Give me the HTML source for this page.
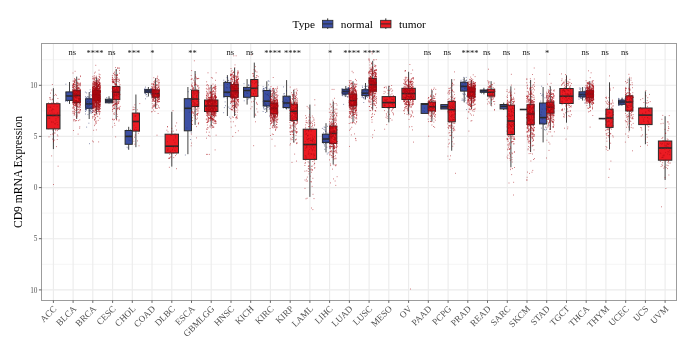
<!DOCTYPE html>
<html><head><meta charset="utf-8"><title>CD9 mRNA Expression</title>
<style>html,body{margin:0;padding:0;background:#fff}svg{display:block}</style></head>
<body>
<svg width="685" height="346" viewBox="0 0 685 346">
<rect width="685" height="346" fill="#fff"/>
<path d="M41.5 59.7H676.5M41.5 110.9H676.5M41.5 162H676.5M41.5 213.1H676.5M41.5 264.3H676.5" stroke="#f3f3f3" stroke-width="0.8" fill="none"/>
<path d="M41.5 85.3H676.5M41.5 136.4H676.5M41.5 187.6H676.5M41.5 238.7H676.5M41.5 289.9H676.5M53.4 43.5V300.5M73.1 43.5V300.5M92.8 43.5V300.5M112.6 43.5V300.5M132.3 43.5V300.5M152 43.5V300.5M171.8 43.5V300.5M191.5 43.5V300.5M211.2 43.5V300.5M231 43.5V300.5M250.7 43.5V300.5M270.4 43.5V300.5M290.2 43.5V300.5M309.9 43.5V300.5M329.6 43.5V300.5M349.4 43.5V300.5M369.1 43.5V300.5M388.8 43.5V300.5M408.6 43.5V300.5M428.3 43.5V300.5M448.1 43.5V300.5M467.8 43.5V300.5M487.5 43.5V300.5M507.3 43.5V300.5M527 43.5V300.5M546.7 43.5V300.5M566.5 43.5V300.5M586.2 43.5V300.5M605.9 43.5V300.5M625.7 43.5V300.5M645.4 43.5V300.5M665.1 43.5V300.5" stroke="#ececec" stroke-width="1.1" fill="none"/>
<path d="M53.4 88.2V103.7M53.4 128.9V149.1" stroke="#444444" stroke-width="1" fill="none"/>
<rect x="46.6" y="103.7" width="13.4" height="25.2" fill="#EC1B23" stroke="#2a2a2a" stroke-width="1"/>
<path d="M46.6 115.4H60.1" stroke="#2a2a2a" stroke-width="1.6" fill="none"/>
<path d="M69.5 82V91.9M69.5 100.4V103.9" stroke="#444444" stroke-width="1" fill="none"/>
<rect x="65.9" y="91.9" width="7.2" height="8.5" fill="#3D50A4" stroke="#2a2a2a" stroke-width="1"/>
<path d="M65.9 96H73.1" stroke="#2a2a2a" stroke-width="1.6" fill="none"/>
<path d="M76.7 76.6V90.4M76.7 102.4V119" stroke="#444444" stroke-width="1" fill="none"/>
<rect x="73.1" y="90.4" width="7.2" height="12" fill="#EC1B23" stroke="#2a2a2a" stroke-width="1"/>
<path d="M73.1 95.5H80.3" stroke="#2a2a2a" stroke-width="1.6" fill="none"/>
<path d="M89.2 92.2V98.8M89.2 108.3V119" stroke="#444444" stroke-width="1" fill="none"/>
<rect x="85.6" y="98.8" width="7.2" height="9.5" fill="#3D50A4" stroke="#2a2a2a" stroke-width="1"/>
<path d="M85.6 103.9H92.8" stroke="#2a2a2a" stroke-width="1.6" fill="none"/>
<path d="M96.4 77.3V90.4M96.4 100.6V113.9" stroke="#444444" stroke-width="1" fill="none"/>
<rect x="92.8" y="90.4" width="7.2" height="10.2" fill="#EC1B23" stroke="#2a2a2a" stroke-width="1"/>
<path d="M92.8 95.3H100" stroke="#2a2a2a" stroke-width="1.6" fill="none"/>
<path d="M109 96.3V99.2M109 102.8V103.5" stroke="#444444" stroke-width="1" fill="none"/>
<rect x="105.4" y="99.2" width="7.2" height="3.6" fill="#3D50A4" stroke="#2a2a2a" stroke-width="1"/>
<path d="M105.4 101H112.6" stroke="#2a2a2a" stroke-width="1.6" fill="none"/>
<path d="M116.2 69V86.5M116.2 99.6V119" stroke="#444444" stroke-width="1" fill="none"/>
<rect x="112.6" y="86.5" width="7.2" height="13.1" fill="#EC1B23" stroke="#2a2a2a" stroke-width="1"/>
<path d="M112.6 92.2H119.8" stroke="#2a2a2a" stroke-width="1.6" fill="none"/>
<path d="M128.7 126.8V130.5M128.7 144.3V149.8" stroke="#444444" stroke-width="1" fill="none"/>
<rect x="125.1" y="130.5" width="7.2" height="13.8" fill="#3D50A4" stroke="#2a2a2a" stroke-width="1"/>
<path d="M125.1 136.4H132.3" stroke="#2a2a2a" stroke-width="1.6" fill="none"/>
<path d="M135.9 94.5V113.1M135.9 131.1V147.2" stroke="#444444" stroke-width="1" fill="none"/>
<rect x="132.3" y="113.1" width="7.2" height="18" fill="#EC1B23" stroke="#2a2a2a" stroke-width="1"/>
<path d="M132.3 121.5H139.5" stroke="#2a2a2a" stroke-width="1.6" fill="none"/>
<path d="M148.4 87V89.6M148.4 92.6V96.5" stroke="#444444" stroke-width="1" fill="none"/>
<rect x="144.8" y="89.6" width="7.2" height="3" fill="#3D50A4" stroke="#2a2a2a" stroke-width="1"/>
<path d="M144.8 91H152" stroke="#2a2a2a" stroke-width="1.6" fill="none"/>
<path d="M155.6 78.2V89.9M155.6 97.2V107.9" stroke="#444444" stroke-width="1" fill="none"/>
<rect x="152" y="89.9" width="7.2" height="7.3" fill="#EC1B23" stroke="#2a2a2a" stroke-width="1"/>
<path d="M152 93.6H159.2" stroke="#2a2a2a" stroke-width="1.6" fill="none"/>
<path d="M171.8 111.8V134.2M171.8 153V166.6" stroke="#444444" stroke-width="1" fill="none"/>
<rect x="165.1" y="134.2" width="13.4" height="18.8" fill="#EC1B23" stroke="#2a2a2a" stroke-width="1"/>
<path d="M165.1 146.2H178.5" stroke="#2a2a2a" stroke-width="1.6" fill="none"/>
<path d="M187.9 87V98.7M187.9 130.8V154.2" stroke="#444444" stroke-width="1" fill="none"/>
<rect x="184.3" y="98.7" width="7.2" height="32.1" fill="#3D50A4" stroke="#2a2a2a" stroke-width="1"/>
<path d="M184.3 108.3H191.5" stroke="#2a2a2a" stroke-width="1.6" fill="none"/>
<path d="M195.1 71V90.2M195.1 106.5V124.9" stroke="#444444" stroke-width="1" fill="none"/>
<rect x="191.5" y="90.2" width="7.2" height="16.3" fill="#EC1B23" stroke="#2a2a2a" stroke-width="1"/>
<path d="M191.5 99.1H198.7" stroke="#2a2a2a" stroke-width="1.6" fill="none"/>
<path d="M211.2 84.8V100M211.2 111.5V126.4" stroke="#444444" stroke-width="1" fill="none"/>
<rect x="204.5" y="100" width="13.4" height="11.5" fill="#EC1B23" stroke="#2a2a2a" stroke-width="1"/>
<path d="M204.5 106H217.9" stroke="#2a2a2a" stroke-width="1.6" fill="none"/>
<path d="M227.4 75.1V82.4M227.4 96.6V116" stroke="#444444" stroke-width="1" fill="none"/>
<rect x="223.8" y="82.4" width="7.2" height="14.2" fill="#3D50A4" stroke="#2a2a2a" stroke-width="1"/>
<path d="M223.8 92.2H231" stroke="#2a2a2a" stroke-width="1.6" fill="none"/>
<path d="M234.6 67.8V84.6M234.6 97.3V116" stroke="#444444" stroke-width="1" fill="none"/>
<rect x="231" y="84.6" width="7.2" height="12.7" fill="#EC1B23" stroke="#2a2a2a" stroke-width="1"/>
<path d="M231 90.8H238.2" stroke="#2a2a2a" stroke-width="1.6" fill="none"/>
<path d="M247.1 79.1V87.4M247.1 97.3V104.6" stroke="#444444" stroke-width="1" fill="none"/>
<rect x="243.5" y="87.4" width="7.2" height="9.9" fill="#3D50A4" stroke="#2a2a2a" stroke-width="1"/>
<path d="M243.5 90.5H250.7" stroke="#2a2a2a" stroke-width="1.6" fill="none"/>
<path d="M254.3 62.6V79.5M254.3 96.4V117.7" stroke="#444444" stroke-width="1" fill="none"/>
<rect x="250.7" y="79.5" width="7.2" height="16.9" fill="#EC1B23" stroke="#2a2a2a" stroke-width="1"/>
<path d="M250.7 88.3H257.9" stroke="#2a2a2a" stroke-width="1.6" fill="none"/>
<path d="M266.8 81.3V90.5M266.8 106V112.2" stroke="#444444" stroke-width="1" fill="none"/>
<rect x="263.2" y="90.5" width="7.2" height="15.5" fill="#3D50A4" stroke="#2a2a2a" stroke-width="1"/>
<path d="M263.2 101.2H270.4" stroke="#2a2a2a" stroke-width="1.6" fill="none"/>
<path d="M274 89.3V103.4M274 113.8V126.5" stroke="#444444" stroke-width="1" fill="none"/>
<rect x="270.4" y="103.4" width="7.2" height="10.4" fill="#EC1B23" stroke="#2a2a2a" stroke-width="1"/>
<path d="M270.4 108.2H277.6" stroke="#2a2a2a" stroke-width="1.6" fill="none"/>
<path d="M286.6 80.1V96.2M286.6 107.5V109.4" stroke="#444444" stroke-width="1" fill="none"/>
<rect x="283" y="96.2" width="7.2" height="11.3" fill="#3D50A4" stroke="#2a2a2a" stroke-width="1"/>
<path d="M283 103H290.2" stroke="#2a2a2a" stroke-width="1.6" fill="none"/>
<path d="M293.8 89.7V104.1M293.8 120.4V142.6" stroke="#444444" stroke-width="1" fill="none"/>
<rect x="290.2" y="104.1" width="7.2" height="16.3" fill="#EC1B23" stroke="#2a2a2a" stroke-width="1"/>
<path d="M290.2 111.2H297.4" stroke="#2a2a2a" stroke-width="1.6" fill="none"/>
<path d="M309.9 104.6V129.2M309.9 159.4V196.9" stroke="#444444" stroke-width="1" fill="none"/>
<rect x="303.2" y="129.2" width="13.4" height="30.2" fill="#EC1B23" stroke="#2a2a2a" stroke-width="1"/>
<path d="M303.2 144.5H316.6" stroke="#2a2a2a" stroke-width="1.6" fill="none"/>
<path d="M326 123.2V134.2M326 142.6V152.4" stroke="#444444" stroke-width="1" fill="none"/>
<rect x="322.4" y="134.2" width="7.2" height="8.4" fill="#3D50A4" stroke="#2a2a2a" stroke-width="1"/>
<path d="M322.4 139H329.6" stroke="#2a2a2a" stroke-width="1.6" fill="none"/>
<path d="M333.2 101.4V126.1M333.2 143.4V164.5" stroke="#444444" stroke-width="1" fill="none"/>
<rect x="329.6" y="126.1" width="7.2" height="17.3" fill="#EC1B23" stroke="#2a2a2a" stroke-width="1"/>
<path d="M329.6 133.4H336.8" stroke="#2a2a2a" stroke-width="1.6" fill="none"/>
<path d="M345.8 86V89.3M345.8 94.1V97" stroke="#444444" stroke-width="1" fill="none"/>
<rect x="342.2" y="89.3" width="7.2" height="4.8" fill="#3D50A4" stroke="#2a2a2a" stroke-width="1"/>
<path d="M342.2 91.5H349.4" stroke="#2a2a2a" stroke-width="1.6" fill="none"/>
<path d="M353 81.3V94.1M353 106V122.1" stroke="#444444" stroke-width="1" fill="none"/>
<rect x="349.4" y="94.1" width="7.2" height="11.9" fill="#EC1B23" stroke="#2a2a2a" stroke-width="1"/>
<path d="M349.4 100.5H356.6" stroke="#2a2a2a" stroke-width="1.6" fill="none"/>
<path d="M365.5 83V89.7M365.5 95.6V99.5" stroke="#444444" stroke-width="1" fill="none"/>
<rect x="361.9" y="89.7" width="7.2" height="5.9" fill="#3D50A4" stroke="#2a2a2a" stroke-width="1"/>
<path d="M361.9 93.2H369.1" stroke="#2a2a2a" stroke-width="1.6" fill="none"/>
<path d="M372.7 60.8V78.4M372.7 91.2V109.7" stroke="#444444" stroke-width="1" fill="none"/>
<rect x="369.1" y="78.4" width="7.2" height="12.8" fill="#EC1B23" stroke="#2a2a2a" stroke-width="1"/>
<path d="M369.1 84.9H376.3" stroke="#2a2a2a" stroke-width="1.6" fill="none"/>
<path d="M388.8 85.7V96.6M388.8 107.5V122.4" stroke="#444444" stroke-width="1" fill="none"/>
<rect x="382.1" y="96.6" width="13.4" height="10.9" fill="#EC1B23" stroke="#2a2a2a" stroke-width="1"/>
<path d="M382.1 102.6H395.5" stroke="#2a2a2a" stroke-width="1.6" fill="none"/>
<path d="M408.6 71.8V88.3M408.6 99.5V114.1" stroke="#444444" stroke-width="1" fill="none"/>
<rect x="401.9" y="88.3" width="13.4" height="11.2" fill="#EC1B23" stroke="#2a2a2a" stroke-width="1"/>
<path d="M401.9 93.5H415.3" stroke="#2a2a2a" stroke-width="1.6" fill="none"/>
<rect x="421.1" y="103.6" width="7.2" height="9.8" fill="#3D50A4" stroke="#2a2a2a" stroke-width="1"/>
<path d="M421.1 104.2H428.3" stroke="#2a2a2a" stroke-width="1.6" fill="none"/>
<path d="M431.9 90V102M431.9 111V121.6" stroke="#444444" stroke-width="1" fill="none"/>
<rect x="428.3" y="102" width="7.2" height="9" fill="#EC1B23" stroke="#2a2a2a" stroke-width="1"/>
<path d="M428.3 106.8H435.5" stroke="#2a2a2a" stroke-width="1.6" fill="none"/>
<rect x="440.8" y="104.6" width="7.2" height="4.4" fill="#3D50A4" stroke="#2a2a2a" stroke-width="1"/>
<path d="M440.8 106.8H448.1" stroke="#2a2a2a" stroke-width="1.6" fill="none"/>
<path d="M451.7 79.1V101.4M451.7 121.8V150.7" stroke="#444444" stroke-width="1" fill="none"/>
<rect x="448.1" y="101.4" width="7.2" height="20.4" fill="#EC1B23" stroke="#2a2a2a" stroke-width="1"/>
<path d="M448.1 109.7H455.3" stroke="#2a2a2a" stroke-width="1.6" fill="none"/>
<path d="M464.2 77.6V82.3M464.2 91.1V102.4" stroke="#444444" stroke-width="1" fill="none"/>
<rect x="460.6" y="82.3" width="7.2" height="8.8" fill="#3D50A4" stroke="#2a2a2a" stroke-width="1"/>
<path d="M460.6 86.4H467.8" stroke="#2a2a2a" stroke-width="1.6" fill="none"/>
<path d="M471.4 79.8V87.8M471.4 97V109" stroke="#444444" stroke-width="1" fill="none"/>
<rect x="467.8" y="87.8" width="7.2" height="9.2" fill="#EC1B23" stroke="#2a2a2a" stroke-width="1"/>
<path d="M467.8 92H475" stroke="#2a2a2a" stroke-width="1.6" fill="none"/>
<path d="M483.9 87.8V90M483.9 92.3V94.4" stroke="#444444" stroke-width="1" fill="none"/>
<rect x="480.3" y="90" width="7.2" height="2.3" fill="#3D50A4" stroke="#2a2a2a" stroke-width="1"/>
<path d="M480.3 90.8H487.5" stroke="#2a2a2a" stroke-width="1.6" fill="none"/>
<path d="M491.1 81.2V89.2M491.1 96.1V105.8" stroke="#444444" stroke-width="1" fill="none"/>
<rect x="487.5" y="89.2" width="7.2" height="6.9" fill="#EC1B23" stroke="#2a2a2a" stroke-width="1"/>
<path d="M487.5 92.2H494.7" stroke="#2a2a2a" stroke-width="1.6" fill="none"/>
<path d="M503.7 102.6V104.5M503.7 108.9V110" stroke="#444444" stroke-width="1" fill="none"/>
<rect x="500.1" y="104.5" width="7.2" height="4.4" fill="#3D50A4" stroke="#2a2a2a" stroke-width="1"/>
<path d="M500.1 106.4H507.3" stroke="#2a2a2a" stroke-width="1.6" fill="none"/>
<path d="M510.9 86.3V105.2M510.9 134.5V167" stroke="#444444" stroke-width="1" fill="none"/>
<rect x="507.3" y="105.2" width="7.2" height="29.3" fill="#EC1B23" stroke="#2a2a2a" stroke-width="1"/>
<path d="M507.3 121H514.5" stroke="#2a2a2a" stroke-width="1.6" fill="none"/>
<rect x="519.8" y="109.5" width="7.2" height="0" fill="#3D50A4" stroke="#2a2a2a" stroke-width="1"/>
<path d="M519.8 109.5H527" stroke="#2a2a2a" stroke-width="1.6" fill="none"/>
<path d="M530.6 80V104.7M530.6 124.6V152" stroke="#444444" stroke-width="1" fill="none"/>
<rect x="527" y="104.7" width="7.2" height="19.9" fill="#EC1B23" stroke="#2a2a2a" stroke-width="1"/>
<path d="M527 114H534.2" stroke="#2a2a2a" stroke-width="1.6" fill="none"/>
<path d="M543.1 87V103M543.1 123.9V142.4" stroke="#444444" stroke-width="1" fill="none"/>
<rect x="539.5" y="103" width="7.2" height="20.9" fill="#3D50A4" stroke="#2a2a2a" stroke-width="1"/>
<path d="M539.5 117.6H546.7" stroke="#2a2a2a" stroke-width="1.6" fill="none"/>
<path d="M550.3 86.3V102.1M550.3 113.2V130" stroke="#444444" stroke-width="1" fill="none"/>
<rect x="546.7" y="102.1" width="7.2" height="11.1" fill="#EC1B23" stroke="#2a2a2a" stroke-width="1"/>
<path d="M546.7 107.2H553.9" stroke="#2a2a2a" stroke-width="1.6" fill="none"/>
<path d="M566.5 75.3V88.5M566.5 103.5V122.7" stroke="#444444" stroke-width="1" fill="none"/>
<rect x="559.8" y="88.5" width="13.4" height="15" fill="#EC1B23" stroke="#2a2a2a" stroke-width="1"/>
<path d="M559.8 96.2H573.2" stroke="#2a2a2a" stroke-width="1.6" fill="none"/>
<path d="M582.6 87V91.8M582.6 96.8V100.6" stroke="#444444" stroke-width="1" fill="none"/>
<rect x="579" y="91.8" width="7.2" height="5" fill="#3D50A4" stroke="#2a2a2a" stroke-width="1"/>
<path d="M579 94.5H586.2" stroke="#2a2a2a" stroke-width="1.6" fill="none"/>
<path d="M589.8 81.2V90.7M589.8 97.7V106.7" stroke="#444444" stroke-width="1" fill="none"/>
<rect x="586.2" y="90.7" width="7.2" height="7" fill="#EC1B23" stroke="#2a2a2a" stroke-width="1"/>
<path d="M586.2 94H593.4" stroke="#2a2a2a" stroke-width="1.6" fill="none"/>
<rect x="598.7" y="118.6" width="7.2" height="0" fill="#3D50A4" stroke="#2a2a2a" stroke-width="1"/>
<path d="M598.7 118.6H605.9" stroke="#2a2a2a" stroke-width="1.6" fill="none"/>
<path d="M609.5 82.3V109.2M609.5 127.4V149.4" stroke="#444444" stroke-width="1" fill="none"/>
<rect x="605.9" y="109.2" width="7.2" height="18.2" fill="#EC1B23" stroke="#2a2a2a" stroke-width="1"/>
<path d="M605.9 118H613.1" stroke="#2a2a2a" stroke-width="1.6" fill="none"/>
<path d="M622.1 97.7V100.1M622.1 104.3V105.5" stroke="#444444" stroke-width="1" fill="none"/>
<rect x="618.5" y="100.1" width="7.2" height="4.2" fill="#3D50A4" stroke="#2a2a2a" stroke-width="1"/>
<path d="M618.5 102H625.7" stroke="#2a2a2a" stroke-width="1.6" fill="none"/>
<path d="M629.3 78.2V95.8M629.3 111V130.8" stroke="#444444" stroke-width="1" fill="none"/>
<rect x="625.7" y="95.8" width="7.2" height="15.2" fill="#EC1B23" stroke="#2a2a2a" stroke-width="1"/>
<path d="M625.7 102H632.9" stroke="#2a2a2a" stroke-width="1.6" fill="none"/>
<path d="M645.4 91.4V108M645.4 124.6V144.2" stroke="#444444" stroke-width="1" fill="none"/>
<rect x="638.7" y="108" width="13.4" height="16.6" fill="#EC1B23" stroke="#2a2a2a" stroke-width="1"/>
<path d="M638.7 115.1H652.1" stroke="#2a2a2a" stroke-width="1.6" fill="none"/>
<path d="M665.1 116.2V141M665.1 160.2V180" stroke="#444444" stroke-width="1" fill="none"/>
<rect x="658.4" y="141" width="13.4" height="19.2" fill="#EC1B23" stroke="#2a2a2a" stroke-width="1"/>
<path d="M658.4 148H671.8" stroke="#2a2a2a" stroke-width="1.6" fill="none"/>
<path d="M66 92.7h0M68.8 92.1h0M71.6 92.8h0M72 95.7h0M71.3 99.7h0M66.4 96.5h0M72.8 98.7h0M71.9 98.1h0M72.5 85.6h0M69.7 91h0M72.8 89.1h0M65.9 84.2h0M65.8 101.5h0M65.7 100.4h0M67.5 100.5h0M67.5 101.6h0M88.5 103.7h0M90.1 98.9h0M92.3 99.6h0M90.9 99.9h0M89 99.2h0M91.7 101.2h0M89.1 101.8h0M92.9 100.4h0M87.5 99.4h0M86.3 102.9h0M91.8 102.9h0M87.6 101.7h0M92 99.5h0M90.1 101.6h0M89.3 102h0M85.9 101h0M91.5 103.2h0M85.8 100.8h0M92.9 101.4h0M92.2 99.4h0M87.7 101.7h0M86.3 102.7h0M92.3 102.5h0M89.1 100.1h0M86.2 103.9h0M89.2 102.5h0M87.2 101h0M88.5 100.9h0M90.3 107.3h0M92.5 104.7h0M91.6 106.7h0M86.5 107.1h0M89 106.2h0M89.2 107.7h0M93.1 106h0M85.9 105.9h0M89.3 105.2h0M92.5 107.9h0M88.4 105.3h0M87.3 107h0M89.7 105.7h0M87.8 108h0M92.6 108.1h0M85.9 104h0M86.9 108.3h0M85.9 106.6h0M90.9 104.2h0M87.6 106.1h0M92.4 104.1h0M92.3 106.3h0M92.7 104.7h0M87.3 105.5h0M85.3 105.2h0M88.3 106.5h0M92.9 107.5h0M91.3 108h0M85.7 96.6h0M90.8 96h0M92.5 98.5h0M92.9 94.1h0M90.9 94.5h0M92.1 91.9h0M91.9 95.6h0M88.1 98h0M86 98.1h0M91 98.3h0M86.3 98h0M88.3 98.2h0M93.1 95.5h0M89.7 92.6h0M89.4 98.8h0M92.8 96.7h0M87.5 98.4h0M93.2 98.2h0M92.5 96.2h0M88.1 96.9h0M87.9 96.5h0M86.3 97.8h0M92.5 96.8h0M86.7 92.9h0M85.3 92.1h0M92.3 94.6h0M90 97.9h0M90.6 91.9h0M91.1 112h0M85.6 109.3h0M86 109.3h0M89.2 110.8h0M85.7 109.3h0M89.3 110.9h0M91.1 111.8h0M90.5 110.2h0M90.1 110.4h0M85.6 114h0M87.1 108.5h0M92.4 112.5h0M86.2 109.2h0M89.5 113.2h0M85.7 110h0M92.7 110.7h0M86.6 110h0M88.5 108.6h0M89.6 108.9h0M91 109.7h0M92.7 111.9h0M91.1 113.4h0M88 114.6h0M85.9 108.5h0M90.9 111.8h0M93 110.6h0M85.4 111.5h0M91.4 109.1h0M86.7 127.1h0M88.9 123.2h0M89.4 143.7h0M90.1 89.8h0M106.8 97.5h0M105.6 102h0M109.9 98.6h0M129.4 135.4h0M125.9 131.7h0M129 140.2h0M130.2 140.7h0M130.5 129.4h0M126.5 130.1h0M128.2 148.1h0M127.1 147.2h0M150.3 89.6h0M148.2 90.6h0M149.7 89.9h0M146.4 90.2h0M150.3 90.5h0M152.3 89.8h0M145.1 90.3h0M147 90.8h0M151.4 89.8h0M151.2 90.3h0M151.4 91.3h0M146.3 91.2h0M148.9 91.8h0M145.1 91.7h0M147.9 92h0M149 92.4h0M146.5 92.1h0M147.8 91.5h0M147.4 91.8h0M145.1 92.1h0M145 88.4h0M150.7 89h0M144.5 89.6h0M152.3 89.4h0M151.6 88.7h0M152.3 89.3h0M150.7 89.1h0M144.5 89.4h0M145.4 87.1h0M147 89.2h0M145.9 94.9h0M144.9 93.3h0M151.7 92.8h0M151.7 93.6h0M150.5 93.4h0M146.5 94.5h0M151.2 93.1h0M151 94.4h0M147 96.7h0M145.5 93.6h0M145.5 98.8h0M191.1 104.6h0M188 107h0M190.8 100h0M184.5 123.2h0M189.3 112.2h0M186.9 127.9h0M188.2 91.7h0M188.9 98.3h0M190.5 89.5h0M191.2 132.8h0M185.3 155h0M190.7 139.5h0M230.6 89.6h0M224.4 91.1h0M229.3 83.4h0M226.8 87.4h0M229.6 87.1h0M227.5 84.5h0M229.9 87.9h0M227.1 87.9h0M225.4 91.9h0M229.5 83.1h0M230 85.3h0M227.4 93h0M230.8 93.2h0M229 93.6h0M230.8 93.8h0M225 96.4h0M230.9 93.6h0M229.5 94.3h0M230.9 92.9h0M226.2 93.2h0M227.8 93.2h0M230.5 94.7h0M228.7 80.3h0M225.7 81.8h0M225.7 81.6h0M230.9 80.7h0M228.7 80.4h0M223.8 80.2h0M225.5 81.4h0M227.8 78.1h0M224.9 82.2h0M227.1 77.5h0M228.7 82.3h0M224.1 97.6h0M225.4 105.7h0M230.4 103.5h0M223.7 112.7h0M224.3 107.6h0M229.9 108.5h0M228.8 107.1h0M227.1 98.2h0M230.2 97.3h0M225.1 101.9h0M223.4 96.9h0M229.8 117.1h0M246.2 88.5h0M244.4 87.4h0M244.3 88.4h0M248.1 88.8h0M245.8 88.4h0M243.4 88.6h0M244.5 94.9h0M244.5 92.8h0M244.7 96.3h0M246.7 93h0M250.4 93.5h0M247.7 93.4h0M249 85.6h0M244 83.7h0M248.6 85.4h0M250 87.1h0M251 85.5h0M248.8 84.6h0M247.9 99.4h0M250.8 98.6h0M244.2 100.8h0M249.4 97.7h0M248.8 98.5h0M248.9 97.7h0M269.6 97.3h0M268.4 100.3h0M264 90.5h0M264.9 100.5h0M265.3 93.8h0M266.9 94.7h0M270 100.6h0M270.6 99h0M267.6 94.6h0M263.7 101h0M270.6 90.8h0M270.5 97.6h0M263.6 96h0M268.1 100h0M268.2 90.7h0M268.1 93.9h0M268.6 95.6h0M262.9 91.3h0M265.3 104.3h0M265.5 105.3h0M268 105.6h0M263.6 101.9h0M265.1 103.6h0M264.3 105.9h0M263.2 101.5h0M266.6 104.6h0M264.5 102.6h0M266.7 105.6h0M264.5 104.1h0M269.1 105.5h0M263.8 101.4h0M269 104.1h0M268.1 103.2h0M264.1 101.7h0M265.9 103.2h0M265.9 104.8h0M266.5 88.2h0M268.2 80.8h0M263 89.2h0M264.2 89.9h0M268.4 84.9h0M263.6 88.7h0M269.6 90.4h0M265.8 87.5h0M263.2 90.3h0M269 89.1h0M264.8 88.3h0M270.8 90.1h0M270.2 88.3h0M269.9 89.5h0M269.9 90.1h0M263.5 88.6h0M263.1 86.7h0M266.1 87.8h0M266.2 106.5h0M266.1 109.1h0M267.6 107.4h0M269.1 109.3h0M269.1 106.6h0M270.2 106.2h0M268.2 107.5h0M269.8 108.1h0M263.6 107.8h0M263.1 111.5h0M266.5 106.6h0M269.9 106.5h0M265.9 108.6h0M263.8 107.2h0M263.9 108.9h0M264.7 109.2h0M269.7 108.8h0M265.5 112.5h0M269.7 116.2h0M270.3 114.6h0M269 81.3h0M289.8 98.3h0M289.9 99.8h0M286 99.8h0M282.7 101.6h0M285.4 102.8h0M284.8 101.6h0M287.2 101.1h0M288.4 97.5h0M290.4 104h0M285.1 103.1h0M285.5 103.4h0M283.3 106.5h0M289.2 103.3h0M286.6 104.2h0M284.5 104.7h0M286.6 103.7h0M286.4 91.2h0M289.1 96h0M284.4 93.7h0M286.6 90.6h0M286.1 95.9h0M283.4 86.9h0M283.7 93.9h0M284.5 95.8h0M286.1 108.2h0M287 108.6h0M288.5 107.9h0M289.8 108.2h0M283.3 108.1h0M290.3 107.8h0M285.9 108.4h0M288.8 108.6h0M328.7 136h0M325 138.4h0M328.8 137.1h0M328.6 137.3h0M329.3 135.4h0M323 138.4h0M327.9 134.5h0M324.6 139h0M328.9 136.9h0M323 137h0M329 135h0M329.8 137.4h0M326.2 139.6h0M326.4 142h0M326.9 141.7h0M329.2 139.6h0M322.8 141.8h0M328.8 141.3h0M324.8 140.1h0M325.3 141.4h0M329 141.5h0M323 140.8h0M323.2 141.5h0M327.5 141.8h0M327.9 133.1h0M323.9 129.3h0M327.6 126.3h0M324.9 130h0M322.3 128.4h0M324.2 127h0M323.4 132.9h0M325.7 131.6h0M325.7 131.1h0M325.1 127.5h0M329.3 124.8h0M325.1 134.1h0M323.6 143.2h0M329.6 147h0M327.2 142.8h0M329.6 148.2h0M325.7 143.5h0M326.9 147.2h0M324.7 146h0M329.7 142.8h0M324.3 144.7h0M329.5 143.8h0M324.8 149.3h0M328.2 152.8h0M327.2 154h0M348.2 91h0M346.6 91.1h0M347.3 90.7h0M342.2 90.3h0M343.6 89.5h0M349 89.6h0M348.6 90.7h0M343.5 90.2h0M346.1 90.8h0M344.5 90.4h0M343.3 90.2h0M348 89.8h0M347.2 91.2h0M342.4 89.9h0M347.1 93.1h0M341.9 91.8h0M342.6 94h0M345.1 91.9h0M342.1 92.8h0M345.9 93.6h0M347.2 92.1h0M343.9 93.2h0M347.3 92.6h0M342.4 94h0M342.5 91.8h0M345.8 92h0M342 92.9h0M347.8 93.3h0M348.9 88.3h0M341.9 88.9h0M348.1 87.6h0M346.3 88.5h0M349.5 88.7h0M348.2 88.6h0M349 88.3h0M348.6 88.7h0M348.6 88.2h0M347.8 89.1h0M349 87.7h0M342.5 89.1h0M348.2 87.9h0M347.2 88.6h0M344.7 95h0M345.3 94.2h0M342.7 95.7h0M344.3 95.9h0M347.5 96.6h0M346.2 94.6h0M349.2 94.7h0M343.8 94.3h0M343.6 94.7h0M347.7 97.1h0M349.4 95.5h0M344.7 94.2h0M344.9 94.2h0M342.2 95.5h0M343.7 104.4h0M365.8 90.7h0M365.8 90.5h0M361.6 92.4h0M362.8 92.3h0M367.9 92.2h0M363.5 89.9h0M365.8 89.8h0M367 93h0M366.3 93.1h0M367.6 90.4h0M366.7 91.4h0M364 91.3h0M366.2 93.9h0M367.1 93.4h0M362.1 93.8h0M369.2 95.5h0M366.5 94.3h0M369.3 93.7h0M368.4 93.4h0M361.8 94.8h0M362.2 95.2h0M368.3 93.8h0M363.5 95h0M368.8 93.3h0M369.3 89.6h0M367.6 89.4h0M366.5 86.4h0M365 86.4h0M368.7 88h0M366.5 88.8h0M362.3 86.1h0M367.3 86.2h0M364.2 88.8h0M362.6 87.5h0M364.5 89.1h0M368.4 87.7h0M367.4 97.3h0M364.6 96.9h0M368.1 96.3h0M366 96.3h0M364.2 98.9h0M362.4 96.8h0M366.9 96.4h0M363.5 97.5h0M365.6 98h0M363.4 98.1h0M366.5 96.2h0M362 97.2h0M363.8 102.5h0M427.6 111.9h0M424.6 111.4h0M423.1 110.9h0M424.3 108.1h0M446.6 106.9h0M441.3 108.8h0M447.8 106.2h0M465.5 82.3h0M462.5 83.9h0M465.8 85.2h0M462.9 86.2h0M463 86h0M460.3 86.1h0M460.9 84.7h0M461.7 86.3h0M465.5 83.3h0M464.3 83.6h0M463.4 85h0M465.1 84.9h0M462.7 85.7h0M462.8 87h0M465.1 88.2h0M466.2 89.3h0M466.1 86.8h0M464.6 88.8h0M468 90.5h0M468.1 86.5h0M467.6 90.3h0M462.6 89.8h0M466.1 88.4h0M461.1 87.4h0M468.1 90.1h0M464.7 88.1h0M460.8 82.1h0M461.2 82.2h0M465.3 81.9h0M465.6 80.6h0M463.2 81.4h0M463.8 77.4h0M466.6 80h0M466.4 80.5h0M466.2 77.4h0M463.2 79.7h0M463 81.8h0M465.4 82.1h0M461 80.3h0M465.6 98.1h0M465.7 100.2h0M466.3 103h0M462.2 99h0M462.9 93.8h0M462.1 100.4h0M463.7 100.1h0M465.3 94.6h0M463.8 94.6h0M467.2 95.3h0M464.9 93.3h0M466.5 96.2h0M467.8 91.3h0M466.5 109.6h0M480.3 90.7h0M482.6 90.4h0M483.9 91.2h0M484.6 91.9h0M483.9 89.5h0M486.5 90h0M481.4 93.2h0M487.5 94.1h0M504.1 105.8h0M504.9 105.5h0M524.4 109.5h0M539.8 115.2h0M542.3 104.9h0M541.6 112.1h0M541.2 114.9h0M545.3 108.9h0M542.2 109.2h0M540.3 114.6h0M540.6 103.3h0M546.1 120h0M542.8 122.9h0M540.8 122.6h0M542.9 123.4h0M540 123.1h0M543 118.9h0M541.1 123.4h0M542.2 119.2h0M546.5 96.8h0M543 94.3h0M545 97.8h0M541.7 86.2h0M540.7 93.5h0M541.9 95.4h0M540.8 101.1h0M543.2 96.1h0M544.5 124.3h0M541.3 128.1h0M544.7 124.1h0M543.2 124.7h0M545.5 127.1h0M545.2 130.1h0M546.6 129.3h0M544.6 129.4h0M582.3 94.2h0M578.9 94.3h0M585.6 93.6h0M584.4 92.2h0M579.9 92.6h0M585 94.1h0M579.6 92.6h0M582.5 93.9h0M583.9 94.1h0M586.5 93.7h0M586.2 92.6h0M585.6 93.5h0M586 94.1h0M579.6 93.7h0M579 96.4h0M579.5 96.5h0M584 95.7h0M579 96h0M580.2 95.8h0M579 96.8h0M583.6 94.7h0M584 94.6h0M580.5 96.3h0M580.6 96.3h0M586.4 95.9h0M582.1 94.5h0M580.8 95.2h0M584 96.4h0M584.3 91h0M582.8 91.3h0M579.3 88h0M580.7 90.7h0M585 87.3h0M580.8 88.2h0M579.9 89.4h0M580.8 89h0M584.6 91.7h0M585.8 91.2h0M585.6 89h0M585.7 90.2h0M585.7 89h0M586.3 91.3h0M585.4 98.5h0M583.6 96.9h0M581 98.5h0M586.5 97.7h0M580.4 97.7h0M581.2 98.4h0M584.7 100h0M582.1 97.5h0M579 99.1h0M583 97.6h0M585.6 97h0M582.8 97.1h0M584.7 97.4h0M580.2 97.5h0M584.8 103h0M602.8 118.6h0M603.6 118.6h0M622.2 101.1h0M621.1 100.6h0M618.4 100.2h0M621.2 101.4h0M623.4 101.1h0M619.6 101.1h0M621.7 101.2h0M620.1 101.9h0M619.4 103.7h0M620.8 103.1h0M619.4 102.5h0M622.8 102.4h0M623.4 103.3h0M620.8 103.8h0M618.8 103.5h0M620.5 103.8h0M619.1 98.7h0M623.1 99.4h0M625 98.4h0M618.6 100h0M621.6 99.4h0M622 99.4h0M618.4 98.4h0M625.9 98.8h0M619 105.3h0M619 105.2h0M618.6 105.3h0M621.1 105h0M623.4 104.5h0M622.3 104.3h0M621.5 104.8h0M620 105h0" stroke="#28336E" stroke-width="0.78" stroke-linecap="round" stroke-opacity="0.85" fill="none"/>
<path d="M49.8 111h0M50.3 114.2h0M57.7 112.8h0M53.9 106.3h0M50.1 107.2h0M57.2 113.9h0M54.8 103.8h0M54.1 113.3h0M52.1 113h0M52.5 109.2h0M50.7 107.2h0M48.7 107h0M57.1 106.7h0M53 108.9h0M53.8 109.6h0M51.6 110.2h0M55.9 115.3h0M48.6 113h0M52.1 111h0M48.6 128.8h0M49.5 118.3h0M58.1 117.6h0M54.9 123.7h0M52.6 116h0M53.6 115.9h0M57.1 122.4h0M51.8 121.7h0M54.3 127.8h0M55.2 123.9h0M51.9 122.3h0M53.5 122.1h0M56 118.7h0M57.5 115.6h0M49.8 118h0M57.7 124.7h0M48.4 118.1h0M55.9 120.4h0M56.5 115.5h0M49.7 97.7h0M52.5 99.7h0M56.5 102.9h0M48.5 102.9h0M54.6 103.3h0M56.3 95.3h0M53.5 103.2h0M55.6 94.4h0M50.6 93.1h0M50.3 97.8h0M52 102.9h0M50.1 99.3h0M51.8 90.1h0M57.9 98.5h0M54.1 95.5h0M51.7 103.2h0M51 99.8h0M57.9 102.4h0M52.8 99h0M58.2 129.5h0M53.5 134.8h0M53.6 141.7h0M57.3 134.9h0M55.8 130.7h0M54.2 133h0M52.6 130h0M57.2 139.5h0M52.5 134h0M57.6 130.6h0M49 136.9h0M52.6 139.1h0M53.5 140.7h0M57.9 136h0M50.8 134.6h0M56.4 146.6h0M55.1 133h0M55.5 129.8h0M54.7 140.1h0M58.1 166.2h0M51.7 155.9h0M52.3 84.5h0M73.9 91.4h0M79.1 93.3h0M78.2 90.6h0M74.4 93.4h0M74.8 91.2h0M80.2 93.9h0M74.9 90.5h0M78.3 92h0M73.8 95.2h0M79.2 93.1h0M73.7 94.5h0M76.8 93.8h0M73 93.5h0M77.1 91.4h0M79.4 93.3h0M73.4 90.6h0M74.9 94.5h0M78.8 95.3h0M77.5 94.8h0M75.2 90.7h0M77.7 92.1h0M76.3 92h0M79.6 91h0M75 93.6h0M78.7 94.5h0M77.8 92h0M78.6 94.8h0M75.7 94.5h0M78.5 91.1h0M78.3 94.3h0M75.8 94.9h0M72.9 91.4h0M80.4 93.3h0M78.4 93.7h0M74.3 93.5h0M78.5 90.9h0M74.9 93.8h0M76.4 93.6h0M79.5 94.6h0M76.3 94.5h0M75 92.1h0M75.1 94.1h0M73.3 94.8h0M74.5 95h0M74.9 91.2h0M74.1 90.5h0M73.2 93.7h0M76.4 91.5h0M74.4 93.3h0M78.6 95.2h0M80 92.3h0M74.9 91.7h0M77.3 92.7h0M76.7 93.8h0M73.3 90.9h0M73.7 92.3h0M79.7 91.1h0M76.5 93.8h0M79.1 94.6h0M73.3 92.3h0M77.4 92.3h0M79.6 93.2h0M79.6 91.5h0M72.8 91.7h0M76.9 92.1h0M75.6 92.7h0M78.7 90.8h0M73.3 94.2h0M74.8 93.4h0M79.2 91.9h0M76.4 90.8h0M76.3 94.3h0M80.4 91.1h0M75.3 91.1h0M73.1 91.1h0M75.8 90.8h0M73.9 95h0M73.4 91.8h0M77.2 92h0M80.3 94.6h0M77.3 93.6h0M77.9 91.4h0M75.3 92.6h0M77.2 94.9h0M78.7 92.3h0M77.4 94h0M79.1 90.9h0M77.1 94.1h0M74.3 94.4h0M77.3 94.6h0M76.6 93.8h0M74 92.3h0M77.6 90.7h0M79.2 93h0M73.8 94.3h0M77 91.4h0M78.5 91.8h0M75.9 93.1h0M74.9 94.2h0M75.7 95h0M77 91h0M78.2 91.3h0M77.2 101h0M73.6 99.9h0M79.2 100.5h0M80 102.4h0M73.5 102h0M74.7 101.3h0M74.1 100.9h0M79.5 98.2h0M79.9 99.9h0M73.1 96.8h0M75.4 100.7h0M74.2 100.7h0M76.4 100.5h0M80 98.6h0M73.3 98.1h0M74.1 98.4h0M76.6 95.7h0M76.9 101.3h0M78.6 99.2h0M76.2 98.2h0M73.8 99.3h0M75.5 100.5h0M80.5 98.1h0M78.7 101.2h0M73.6 101.8h0M79.1 98.2h0M75.2 96.5h0M78.9 100.7h0M72.8 102.4h0M79.6 96.5h0M74 100.4h0M76.3 101.2h0M78 101.9h0M76.7 96.4h0M74 96.1h0M73.8 102.3h0M75 96.3h0M73.1 96.7h0M74.4 99.5h0M73.8 98.6h0M76.4 100.7h0M75.5 96.8h0M77.4 101.8h0M74.9 97h0M73 100.8h0M75.3 96h0M78.7 98.8h0M74.8 95.7h0M75.9 97.7h0M78.7 97.7h0M75.9 100.5h0M79.8 98.6h0M80 95.9h0M75.2 102.4h0M78.6 101.6h0M74.7 101.8h0M73.8 97.2h0M76.2 98.2h0M77.5 97.1h0M80.1 96.4h0M73.9 95.7h0M78.4 99h0M76.5 96.3h0M73.8 96.7h0M80.4 101.4h0M78.2 98.8h0M73.7 96.8h0M79.9 100.1h0M73.5 97.3h0M73.5 99.1h0M75.4 97.5h0M80.2 99.1h0M73 99.8h0M80 99.2h0M77.6 98.2h0M73.3 101h0M77.2 101.5h0M76.4 96.7h0M77.2 96.4h0M78.6 96.3h0M78.1 102.3h0M80.6 102h0M74 97.1h0M79.2 102.2h0M76 96.9h0M78.9 99h0M79.8 98.9h0M80.6 101.8h0M74.8 95.8h0M76.3 97.7h0M80.2 99.6h0M80.2 96h0M75.7 97.1h0M80.2 98.7h0M75.9 101.6h0M75.7 100.8h0M78.7 101.2h0M76.5 100.8h0M76.3 100.4h0M75.8 101.4h0M76.2 100.2h0M73.8 100.6h0M73.2 87.5h0M78.7 87.3h0M77.2 89.6h0M78 88h0M79.1 88.3h0M74.5 82.5h0M74.6 81.6h0M74.9 85.6h0M75.1 89.2h0M78.7 89.1h0M75.7 84.3h0M75.3 79.9h0M77.8 85.6h0M74.2 89.3h0M73.6 88h0M78.2 88.1h0M78.7 84.2h0M75.1 89.1h0M77.8 83h0M73 84.7h0M75.9 85.5h0M77.3 87.6h0M74.7 78.9h0M75.5 82.2h0M77.6 86.8h0M77.4 82.2h0M73.9 88.1h0M78.3 88.6h0M73.4 83.6h0M80.4 75.9h0M74.3 89.3h0M74.7 80.8h0M74.3 86.5h0M80.6 89.4h0M75 80.3h0M77.5 88.1h0M80.6 84.4h0M80.2 82.8h0M73.1 83.9h0M76.9 88.4h0M77.5 84.1h0M78.3 87.4h0M75.4 87.6h0M75.3 90.1h0M72.8 87.1h0M73 85.4h0M77.1 88.6h0M73.3 84.2h0M74.3 82.6h0M75.4 90.1h0M73.3 85h0M73 81.1h0M80.1 90.4h0M76.2 86.5h0M74.3 84.5h0M78.3 85.2h0M72.8 87.3h0M74.7 81.3h0M80.3 85.7h0M79.8 88.1h0M77.8 89h0M73.5 85.8h0M75.2 86.8h0M72.9 89.5h0M74.5 86.7h0M72.9 90.1h0M73.7 83.8h0M77.7 89.8h0M73.5 90.1h0M74 84.6h0M79.9 84.9h0M75.4 90.2h0M75.4 79.9h0M73.4 86.4h0M79 83.8h0M78.1 79.4h0M77.1 90h0M77.6 83.7h0M73.5 81.1h0M74.8 83.8h0M77.3 85.9h0M80.3 83.5h0M79.2 88.1h0M77.8 85.5h0M76.8 86h0M72.8 86.9h0M79.8 85.8h0M73.3 87.8h0M73.7 84.5h0M78.2 83h0M79.2 79.3h0M79 79.1h0M76.3 88.5h0M74.1 88.9h0M73 90.2h0M79.5 89.4h0M80.5 90.1h0M74.7 78.8h0M79.6 84.1h0M75.9 80.9h0M75.2 84.3h0M76.7 82.3h0M72.8 107.9h0M76.2 108.4h0M74.3 109.4h0M78.4 112.6h0M76.7 105h0M79.6 112.6h0M79.8 119.8h0M75.2 106.2h0M74.9 110.3h0M80.2 110h0M76.7 110.3h0M73.5 104.5h0M73.1 113.4h0M80.6 109.5h0M77.3 112.5h0M73.2 108.4h0M76.8 105.3h0M76.7 108.8h0M76.2 116.2h0M80.3 105.3h0M80.2 102.6h0M73.7 103h0M73.9 103.1h0M76 110.6h0M79.3 102.9h0M77.7 102.7h0M78.5 111.8h0M77.3 116h0M74.4 103.4h0M79.2 108h0M72.8 102.9h0M78.3 106.8h0M74.3 107.8h0M76.5 102.8h0M80.4 110h0M77 106.8h0M73.2 103.2h0M76.1 104.2h0M78 103.7h0M73.2 107.7h0M74.7 109.3h0M72.9 104.1h0M77 106.4h0M75.7 104.1h0M76.7 102.4h0M75.1 112.4h0M77.9 102.9h0M74.1 112.2h0M79.9 106.9h0M80.3 104.5h0M76.6 117.6h0M76.4 103.1h0M79.5 103.5h0M75 103.6h0M79.1 105.5h0M75 105.1h0M78.4 109.5h0M75.4 104.4h0M77.5 106.4h0M80.1 103.1h0M73.2 111.2h0M79.1 104.1h0M77 103.4h0M75.7 103.4h0M75.5 105.6h0M73.3 106.4h0M74.8 114.6h0M77.7 105.8h0M73.5 104.2h0M78 104.5h0M80.3 105.2h0M80.5 107.2h0M79.8 104.3h0M79.1 107.1h0M74.1 105.5h0M80.4 103.9h0M74.3 113.5h0M79.6 106.3h0M79.7 110.9h0M77.7 109.8h0M76.9 104.1h0M74.3 113.8h0M76.8 109.3h0M75 103.5h0M73.7 119.8h0M73.7 105.2h0M79.1 113.3h0M80 111.9h0M73.8 107h0M72.8 111.7h0M74.8 105.1h0M73.8 104.4h0M74.2 115.2h0M77.3 114h0M76.1 103.2h0M76.1 104.2h0M74.4 111.6h0M78 107.5h0M75 105.5h0M75.9 105.3h0M76.4 103.2h0M79.9 109.7h0M74.7 119.5h0M78.4 120.6h0M75.2 120.8h0M79.8 126.8h0M75.8 120.8h0M76.7 120.5h0M79.7 128.2h0M78.1 134.1h0M73.5 130.5h0M73.8 120.9h0M80.6 76.6h0M73 73h0M75.1 71.3h0M94.6 95.2h0M94.6 93.8h0M94.5 92.3h0M96.5 93.9h0M93.3 92.7h0M98.6 92.4h0M93.8 92.2h0M96 92.8h0M97.5 91.8h0M93.6 91.6h0M95.7 91.1h0M96.9 92.6h0M96.8 91.8h0M99.5 94.5h0M98.7 94.6h0M93.4 92.1h0M99.1 93.4h0M96.8 94.8h0M97.8 92.2h0M93.7 93.1h0M96.2 92.6h0M98 93.6h0M98.8 95.1h0M98.8 91.1h0M94.2 95.1h0M99.1 93.7h0M97 94.3h0M97.8 93.5h0M99.2 94.7h0M95.7 92h0M99.7 93.9h0M99.4 91.7h0M98.9 92.9h0M95.5 93.7h0M96.6 91.4h0M93.8 90.7h0M98.5 94.3h0M99.5 94.4h0M93.7 93.7h0M98.4 92h0M98 93.6h0M92.7 90.8h0M99.7 93.6h0M96.3 93.2h0M94.6 93.4h0M92.7 92.6h0M98.7 91.5h0M95.1 94h0M96.5 92.7h0M94 94.1h0M97.3 92.2h0M95.6 90.8h0M98.8 93.1h0M97.7 93.5h0M98.2 94.9h0M94.4 94.7h0M93 90.7h0M99.4 94.2h0M99.9 91.7h0M97.6 93.8h0M99.8 92.3h0M98.1 92h0M97.3 92.8h0M95.8 93h0M95.3 93.8h0M96.3 93.5h0M94.2 93.7h0M95.8 92.3h0M96.5 93.7h0M92.7 92.1h0M95.6 93.4h0M94.7 92.7h0M97.5 93.2h0M98.9 90.5h0M97.3 92.8h0M97.7 91.5h0M97.3 92.3h0M94.5 90.8h0M95.4 93.6h0M99.1 94.8h0M100 92.1h0M93.9 90.9h0M92.5 93.4h0M100.1 91h0M99.3 94.8h0M97.3 91h0M98.9 92.2h0M97.2 92.8h0M99.6 91h0M94.4 92h0M96 91.7h0M97.8 93.9h0M94.2 95.2h0M98.1 92.2h0M94.5 94.3h0M98.1 91.1h0M98.8 93.2h0M95.8 92.5h0M100.3 91.8h0M97.5 94.4h0M98.5 94.1h0M92.6 91.1h0M93.4 91.8h0M98.1 94.4h0M99.9 95.3h0M97.4 93.4h0M99.7 94.7h0M92.9 95.2h0M99.5 94h0M99.4 93.6h0M97.4 91.5h0M95.9 92.2h0M98 93.5h0M94.4 94.9h0M97.7 91.9h0M98 92.3h0M96.7 90.5h0M94.5 93.8h0M92.5 92.6h0M94 94.3h0M99.1 91.5h0M94.1 93.6h0M93 93.7h0M94.4 92.7h0M96.6 91.3h0M97.1 92.4h0M99.4 94.1h0M99.2 91.3h0M100.1 90.8h0M99.5 92.7h0M96 91.5h0M93.6 94.3h0M100 94.4h0M94.3 95h0M97.4 94.5h0M94.6 93.6h0M98.9 91.3h0M94.1 94.4h0M95.8 94h0M94.2 94.1h0M99.3 93.8h0M97.4 94.5h0M97.5 91.9h0M95 93.7h0M93.9 92.9h0M99.3 92.1h0M98.5 92h0M98.3 91.2h0M100.4 92.8h0M96.9 92.2h0M93.9 92.5h0M97.3 94.6h0M94.7 93.7h0M96.5 93.7h0M96.1 95.2h0M96.9 91.5h0M99.8 92.9h0M98.9 90.9h0M95.7 92.3h0M98.9 95.1h0M99.3 90.8h0M98.6 94.1h0M96.8 94.6h0M99.6 92.9h0M96.4 94.3h0M93.3 92.6h0M94.6 92.1h0M97.7 92.9h0M95.5 91.4h0M95.8 91.9h0M95.6 91.9h0M94 95.2h0M93.2 92h0M92.8 91.5h0M97.8 95h0M95 91.1h0M96.1 95.1h0M99.9 94.6h0M97.4 93.6h0M98.9 92.5h0M98.5 91.4h0M100 90.9h0M93 90.9h0M95.5 92.1h0M100 92.4h0M96.1 94.9h0M100 93h0M93.9 95.3h0M92.9 93.9h0M99.6 91.1h0M95.7 93.1h0M96.5 91.2h0M99.9 90.6h0M94.2 95h0M100.1 92.1h0M95.6 91.3h0M94.4 90.9h0M94.3 93.6h0M96.6 92.7h0M96.2 90.5h0M99.5 93.9h0M92.9 91.7h0M92.8 94.2h0M93.7 92.8h0M97.3 93h0M98.6 92.6h0M96.3 93.7h0M97.3 95.3h0M97.5 94.3h0M92.6 90.7h0M94.4 92.8h0M100.4 91.5h0M95.1 90.9h0M100 91.4h0M96.4 91.6h0M94.2 95.1h0M92.5 94h0M94.2 94.6h0M95 93.8h0M95.9 91.9h0M96 92.3h0M96.8 92.6h0M96.2 91.8h0M92.7 92.5h0M94.6 94.2h0M100.1 90.8h0M92.7 91.8h0M98.3 92.7h0M96.2 93.7h0M98.1 93.6h0M95.1 94h0M95.4 90.9h0M96.6 91.3h0M99.7 91.9h0M95.1 91.8h0M93.1 94.1h0M92.8 95.3h0M99.4 93.7h0M94.9 90.6h0M93.4 91.9h0M97.2 94.3h0M99.2 94.9h0M97.2 93.3h0M93.7 92.1h0M95.7 92.1h0M94.6 93.5h0M92.6 94.6h0M100.1 92.1h0M96.1 91.3h0M93.5 90.4h0M99.5 91.1h0M100.3 94.6h0M98.9 93.5h0M94.5 95.3h0M94 90.7h0M96.6 92.2h0M97.1 94.3h0M99.4 93.6h0M100.1 90.7h0M99.7 92.4h0M95.2 93.5h0M97.1 93.8h0M93.4 92.6h0M96.6 91.3h0M93 95.1h0M93.3 92.7h0M93.4 93.9h0M94.8 93h0M94.9 90.8h0M98 91.6h0M93.1 90.7h0M93.3 91.3h0M97.7 91.4h0M97.8 92.4h0M98.1 92h0M98.2 97.2h0M97.7 99.6h0M96.8 95.4h0M98.3 95.8h0M93.1 99.6h0M94.1 98.1h0M98.3 97.6h0M94 96.7h0M96.7 98.2h0M94.5 96.5h0M95.9 99.8h0M99.1 99.7h0M97.7 97h0M96 95.4h0M94.6 100h0M98.8 96.9h0M97.7 98.8h0M95.9 99.8h0M99.3 99.5h0M97.9 99.9h0M100.2 97.9h0M97.7 99.8h0M99.6 97.7h0M96.8 96.7h0M98.1 97.8h0M99.1 97.1h0M93.2 99.4h0M96.2 99.7h0M97.3 96h0M92.9 96.2h0M98.7 97.3h0M98.1 97.8h0M99.9 100.4h0M95.4 100.3h0M96.2 100.4h0M99.7 99.2h0M95.7 98.9h0M99.1 96.7h0M95.8 97.3h0M95.1 95.3h0M94.7 99.7h0M94.2 96.8h0M95.9 95.7h0M93.7 97h0M99 97h0M100.2 99.1h0M93.2 95.3h0M92.9 96.5h0M92.5 100.1h0M99.8 99.8h0M93 98.6h0M97.8 98.3h0M94.9 96.5h0M94 99.9h0M94.4 99.3h0M97.9 98h0M92.6 96.2h0M99.3 96.4h0M97 97.3h0M94.3 97.1h0M94.1 95.6h0M97.6 97.5h0M97.4 97.7h0M95 96.8h0M95.1 97.3h0M96.1 97.1h0M99.7 97.3h0M96.7 98.6h0M99.1 97.9h0M97.5 96.3h0M96.9 99.5h0M96.3 98h0M97.9 97.7h0M96.4 99.1h0M98.2 99.3h0M93.9 99.8h0M95 99.6h0M99.4 98.8h0M95.6 99.1h0M99.1 96.1h0M99.9 99h0M97 96.6h0M93.3 96.7h0M98.5 95.9h0M97.7 97.4h0M94.8 95.4h0M99.3 98.8h0M96.3 99.3h0M92.9 99.4h0M93 96h0M94.3 98.7h0M97.3 99.7h0M98.9 95.5h0M93.2 96.3h0M92.6 96.7h0M97.4 97.7h0M95.7 96.2h0M96 98.2h0M99 97.1h0M99.7 98.8h0M100.1 98.1h0M98.6 98.9h0M92.5 96.6h0M93.7 99h0M97.1 99.2h0M100 99.1h0M93.1 95.7h0M96.5 100.3h0M95.6 98.4h0M95.7 96.7h0M94.6 97.6h0M94.6 98h0M94.3 98h0M93.3 96.6h0M96.8 96.7h0M96 97.2h0M98.1 99.4h0M97.5 97.6h0M100 95.5h0M95.1 97.7h0M99.4 96.4h0M95.5 95.4h0M97.7 100.5h0M98.8 96.9h0M95.6 98.1h0M96 97.2h0M97.5 95.6h0M93.3 100.1h0M96.7 100.3h0M93.2 96.3h0M94.2 97.5h0M97.4 97.3h0M100.2 96.2h0M100.4 98.8h0M94.5 99.4h0M93.6 99.3h0M96.6 98.9h0M96 95.4h0M95.5 96.5h0M98.5 98h0M98.1 99h0M96.9 97.3h0M97.4 97.7h0M97.1 99.8h0M97.8 95.4h0M99.8 96.7h0M100 96.8h0M100.2 100.6h0M99.3 96.5h0M93.3 95.5h0M96 97.5h0M98.7 98.7h0M94.8 96.1h0M97.3 99.8h0M92.9 96.3h0M94.1 99h0M95.6 96.2h0M93 100h0M95.8 96.4h0M94.3 99.2h0M99.3 99.7h0M95 96.7h0M95.5 95.8h0M98.8 98.4h0M96.9 97.9h0M92.9 97.8h0M94.2 99.4h0M97.3 97.8h0M94 97.9h0M94.4 97.9h0M97.4 97.7h0M96.4 97.5h0M94.6 96.2h0M96.9 96.9h0M97.5 96.7h0M92.8 96.6h0M94.6 99.4h0M94.9 95.9h0M99.4 96.4h0M92.9 98.1h0M95.2 97h0M94 96.6h0M98 97.3h0M98.9 98h0M92.9 98.9h0M99.3 100.5h0M98 99.8h0M94.2 97.6h0M99.7 97.7h0M94.8 97.5h0M98.7 96.6h0M93.1 100.3h0M96.1 95.7h0M96.5 96.4h0M99.6 98.8h0M99.1 98.4h0M96.8 96.8h0M92.9 100.3h0M95.9 97.5h0M95.4 98.5h0M100.3 95.8h0M97.9 100h0M95.7 95.8h0M95.3 97.4h0M98.5 100h0M93.2 100.3h0M98.9 100.1h0M97.8 99.7h0M95.9 96.5h0M98.1 95.5h0M95.6 97.7h0M93.6 95.6h0M95.8 100.4h0M92.9 95.3h0M93.1 97h0M95.9 96.4h0M99 95.4h0M94.1 97.9h0M96.4 95.7h0M100.2 100.1h0M99 98.9h0M99.6 97.3h0M97.8 99.8h0M97.1 99.5h0M97.1 97h0M97.2 99.8h0M96.1 100.2h0M95.3 98.6h0M94.4 97.2h0M93 100.1h0M95.4 100.3h0M98.6 97.1h0M96.8 95.8h0M93.8 99.9h0M98.9 98.8h0M92.8 96.5h0M99.8 98.3h0M97.6 96.9h0M96.9 100.2h0M95.7 97.1h0M99 96.3h0M92.5 95.5h0M92.6 97.1h0M96.6 100.5h0M94.8 96.5h0M95.6 97.7h0M96.7 100.5h0M92.8 95.3h0M100.2 96.9h0M97.8 99.7h0M93.2 95.8h0M98.3 100.2h0M96.7 99.7h0M97.9 96.1h0M98.3 98.4h0M100.3 98.2h0M93.4 99h0M100.4 96.9h0M96.2 97.3h0M94.1 96.6h0M95.4 96.8h0M95.3 96.2h0M99.6 100.1h0M96.6 100h0M93 97.2h0M98.1 99h0M96.4 97.9h0M98.9 96.8h0M92.8 97.2h0M99.3 100.4h0M99.5 97.1h0M92.5 98.4h0M96.2 100.3h0M93.4 96.9h0M96.7 99.6h0M93.2 78h0M99.5 84.5h0M93.9 86.2h0M97.8 88.6h0M97.6 82.3h0M95 82.8h0M94.2 83.7h0M99.7 88.3h0M92.8 88.3h0M94.5 77.2h0M95 86.1h0M97.1 83.6h0M95.4 84.3h0M93.3 86.5h0M97 90h0M98.2 81.5h0M98 79.8h0M96.3 85.4h0M94.9 89h0M92.5 89.2h0M96.7 82.3h0M97.4 87.8h0M96 84.6h0M100.1 86.1h0M94.1 83.9h0M98.9 86h0M98.2 88.3h0M99.6 79.5h0M99.8 88.6h0M94.3 89.8h0M99.8 77.5h0M95.7 88.3h0M97.8 85.7h0M100 86.2h0M97.2 83.6h0M97.1 83.9h0M93 83.4h0M97.2 87.1h0M94.4 86.8h0M95.5 89.4h0M95.5 90.3h0M100.2 84.8h0M97.5 87.1h0M98.2 78.6h0M93.8 87.9h0M94.9 88.1h0M99.4 88.8h0M93.4 88.6h0M100 83.3h0M95.8 87h0M95.5 89.4h0M96.5 86.7h0M96 82.5h0M96.2 83.6h0M95.8 88.3h0M98 84.8h0M94.6 90h0M93.8 84.3h0M95.9 84.4h0M93.2 81.4h0M96 88.7h0M96.4 84.1h0M98.7 84.5h0M93.3 88.6h0M95.6 83.9h0M98.6 90.3h0M95.1 83.5h0M99.1 85.5h0M98.1 86.3h0M92.8 87.5h0M95.5 88.1h0M98.5 89.1h0M96.6 89.1h0M97.8 84.7h0M100.3 87.4h0M97.8 80.4h0M96.8 89.8h0M99.2 84.7h0M95.9 89.9h0M92.5 89h0M94.6 78.7h0M97.2 88.6h0M100 83h0M97.3 86.3h0M94.7 88.6h0M100.3 78h0M95.6 89.2h0M94.3 85h0M96.8 84.6h0M95.2 88.4h0M93.3 86.5h0M98.1 80h0M97.9 86.4h0M100.2 86.9h0M93.5 88.7h0M99.7 84.5h0M98.8 90.3h0M94.5 88.9h0M96.3 77h0M97.5 86.9h0M95 87.3h0M93.3 87.9h0M99.1 82.7h0M93.8 81.9h0M96.3 88.9h0M95.9 84.5h0M99.6 82.3h0M96.9 87.4h0M95.8 85.7h0M100.2 89h0M95.3 90h0M98.2 89.9h0M94.3 90.4h0M98.5 84h0M98.4 89.7h0M99 89.5h0M96.3 88.8h0M94.2 88.4h0M97.5 85.2h0M99.7 87.5h0M94.9 90.1h0M92.6 87.1h0M93.9 89.7h0M99.8 86.9h0M92.5 78.8h0M92.9 82.7h0M93.2 87.8h0M99.5 90.1h0M95.5 77.8h0M97.9 88.5h0M98.1 89.9h0M95.9 88.7h0M98.3 88.6h0M96.1 82.3h0M96.8 90.3h0M94.9 78.3h0M92.5 85.3h0M97.2 86.4h0M94.6 84.6h0M94.6 79.9h0M99.4 88.5h0M95.3 90.1h0M93.3 85.1h0M97.5 83.2h0M96.7 84h0M92.9 88.4h0M95.2 82.4h0M97.3 89.6h0M94.7 89.8h0M100.3 88.4h0M98.8 86.5h0M96.5 88.2h0M99.7 86.1h0M92.7 87.4h0M94.2 81.7h0M99.7 79.3h0M96.5 89.7h0M93.8 88h0M97 87.6h0M98.2 84.9h0M97.2 89.6h0M92.8 84.4h0M92.8 86.4h0M95.7 89.8h0M92.6 89.5h0M93.1 88.3h0M97.5 89h0M95.9 81.4h0M93.1 87h0M99.4 88.7h0M95.4 89.5h0M99.5 84.7h0M97.3 83.4h0M97.4 84.1h0M95.8 85.9h0M97.8 81.5h0M94.4 82.2h0M94.5 86.1h0M99.4 83.6h0M94.1 86.7h0M95.5 87.5h0M98.4 81.3h0M95.1 90.2h0M95.4 83h0M99.7 83.4h0M94.1 85.1h0M94.4 86.5h0M99.5 90h0M94.6 86.8h0M95.1 85.7h0M99.4 88.5h0M95 90.1h0M100.4 85.6h0M99 80.3h0M99.2 86.7h0M94.2 84h0M94.2 90.4h0M98.4 86.3h0M99 87.6h0M94.2 79.9h0M94.1 82.5h0M94.4 87.3h0M93.5 89.9h0M95.8 83h0M96.4 89h0M97.4 89.5h0M92.9 76.6h0M94 89.8h0M93.4 78.3h0M94.6 86.5h0M93.9 89.8h0M99.9 83.2h0M95.4 85.4h0M93.6 88.3h0M97.7 88.4h0M100.2 89.4h0M98.8 85.3h0M97.6 85.9h0M95.5 87.3h0M95.7 87.5h0M94.9 82.4h0M98.8 85.9h0M98.8 86.6h0M96.3 81.1h0M99.3 90h0M97.6 86.3h0M97.9 88.2h0M94.6 89h0M94.4 84h0M94.3 82.8h0M99.7 84.1h0M98.8 89h0M99.6 80.3h0M99 84.4h0M98.8 84.8h0M95.9 80.5h0M98.5 88.7h0M93.8 83.2h0M97.7 86.9h0M92.8 89.3h0M100.1 90.4h0M99.4 88h0M93.8 81.6h0M98.5 85h0M99 82.8h0M92.8 83.8h0M96.9 82.6h0M95.8 88.4h0M97.4 86.6h0M99.5 76.7h0M98.2 85.7h0M94.1 89.5h0M96.9 87.7h0M96.9 78.2h0M92.6 89.6h0M93.5 86.1h0M95.3 89.8h0M93.9 84.4h0M94.3 86h0M97.8 88.2h0M100.1 87.2h0M96.1 87.8h0M97.6 80.8h0M98.5 85.4h0M97.8 85.8h0M97.7 87.4h0M92.5 87.6h0M99.3 82h0M93.7 90.3h0M93.9 79.7h0M96.5 84.9h0M97.1 88.9h0M98.4 82.5h0M94.8 88.4h0M99.9 87.4h0M97.4 109.1h0M99.1 104.5h0M96.2 100.6h0M93 102.7h0M92.6 104.9h0M97.5 107.6h0M95.8 101h0M95.9 110.7h0M95 101.2h0M93.9 100.7h0M96.2 104.4h0M94.5 106.5h0M99.5 108.7h0M93.9 111.6h0M100.1 108.5h0M99.3 109.7h0M95.5 104.1h0M98.6 102.7h0M97.1 107.4h0M96.2 106.7h0M98.9 110.7h0M99 106.1h0M94.1 102.3h0M99.6 106.8h0M92.7 102.6h0M92.5 112.3h0M96.3 103.9h0M94.8 103.8h0M95.8 107.9h0M96.3 112.9h0M96.2 104.9h0M99.7 113.5h0M99.7 101.3h0M95.2 101.4h0M94.7 111.8h0M97.6 102.6h0M94 100.7h0M95.6 104.1h0M98.1 109.9h0M92.5 101h0M98.6 106.7h0M98.3 103.6h0M95.5 102.3h0M94.4 101.1h0M96.7 100.8h0M94.8 106h0M99 107.7h0M97.1 108.7h0M94.9 107.5h0M98.9 106.2h0M97.3 101.1h0M93.5 105.1h0M95.7 101.9h0M96.3 103.4h0M99.9 104.9h0M95 102.3h0M96 106.4h0M100.2 103.9h0M95.8 102h0M99 109.8h0M93.2 105.1h0M95.6 101.5h0M93.9 103h0M99.5 107.4h0M96.8 104.6h0M94.2 114.6h0M93.2 100.8h0M95.8 109.1h0M93.2 106.8h0M96.3 114.6h0M98.2 103.6h0M94.9 101h0M93.8 102.1h0M95.3 102.7h0M93.8 104.4h0M99.1 108.1h0M93.2 106.4h0M98.3 109.8h0M95.1 106.1h0M98.2 102.2h0M98.6 107.4h0M93.5 104.8h0M98.5 106.1h0M99.9 104.7h0M97 103.3h0M97.6 100.9h0M95 107.3h0M93.8 108.2h0M98.4 103.3h0M99 104.2h0M94.1 103.9h0M93.4 103.3h0M95.3 109.5h0M97.4 103.5h0M95.4 105.6h0M100.1 103.9h0M98.7 111.1h0M99.7 111.7h0M97.2 108.1h0M98.4 102.1h0M100 102.2h0M92.7 106.3h0M97 111.5h0M93.9 102.8h0M98.8 104.6h0M94.3 103.5h0M98.3 109.2h0M95.1 109h0M97.6 102.2h0M97.8 102.1h0M99.7 104.8h0M99.4 105.2h0M95.9 107.2h0M97.9 103.8h0M93.9 100.6h0M93.2 101.6h0M98.1 108.9h0M99.6 102.2h0M98.4 105.8h0M96.6 101.5h0M97.4 111.5h0M98.2 104.3h0M97 102.4h0M95.3 110.1h0M99.2 108.9h0M95.4 110.5h0M99.6 104.8h0M98.8 105.1h0M98.7 101h0M99.1 104.2h0M100.3 101.1h0M100.3 108.8h0M96.4 104.6h0M95.4 102.6h0M98.3 105.3h0M100.1 105.7h0M97.5 106.6h0M92.7 107.2h0M92.8 108.7h0M96.1 108.8h0M98.7 103.4h0M99.5 114.6h0M95.4 106.4h0M96.6 106.2h0M96.5 102.1h0M93.2 107h0M92.5 102.2h0M96.6 102h0M96.5 104.6h0M99.3 111.9h0M93.9 111.8h0M99.2 102.8h0M94.6 102.5h0M96.7 104h0M98.1 101.5h0M93.6 105.7h0M100 101.5h0M100 103h0M100.1 104.7h0M92.5 112.5h0M97.6 109.3h0M97.8 113.9h0M99.4 106.3h0M94.1 106.5h0M93.4 108.8h0M98.9 101.3h0M94.5 105.4h0M93 104h0M93.2 106.3h0M97.6 105.3h0M96.7 101.4h0M98.4 111.8h0M98.9 101.5h0M92.5 101.1h0M99.8 104.7h0M99.4 104.8h0M99.8 111.6h0M98.5 107.7h0M95.5 106.7h0M94.4 105.3h0M99.7 107.6h0M95.8 112.9h0M96.3 102.5h0M98 104.8h0M97.9 103.1h0M98 106.8h0M97.4 105.9h0M96.5 109.1h0M98.5 108.9h0M95.6 101h0M94.5 104.4h0M99.7 105h0M99.2 109.7h0M98.1 106.8h0M93.8 107.5h0M92.8 102.8h0M99.8 105.1h0M99.9 101.2h0M94.6 101.9h0M97.4 106.4h0M92.6 109.9h0M95.6 106.1h0M98 109.1h0M95.3 112.1h0M98.9 104.4h0M99.7 107.5h0M93.5 103.6h0M97.9 101.1h0M95.4 102.3h0M93.8 106.9h0M95.2 106.4h0M96.3 101.2h0M99.6 102.5h0M98.5 106.8h0M92.5 102.9h0M92.9 102.1h0M100.3 106.6h0M96.9 100.6h0M97.3 102.4h0M95.3 101.3h0M99 101.6h0M96.9 104.5h0M97.2 103h0M94.4 105h0M98.6 104.4h0M94.2 108.1h0M93.5 110.5h0M97.2 102.9h0M99.1 103h0M94.8 101.6h0M94.9 103.2h0M93.6 103.6h0M97.2 105.2h0M98.6 101.6h0M93.5 107.4h0M96.7 108.4h0M96.7 106.4h0M93.3 104h0M96.7 105.5h0M94.6 104.9h0M94 107.2h0M100.3 101.9h0M93.2 105.3h0M95.2 102.8h0M97.4 105.1h0M95.7 101.7h0M92.6 101.6h0M99.3 100.8h0M94.4 103.9h0M95.7 114.6h0M99.7 101.1h0M100.1 111.7h0M99.7 102h0M95.7 107.2h0M98.4 102.2h0M99.2 102.9h0M94 101.7h0M100.1 101.4h0M93.3 103.8h0M97.7 104h0M94.4 106h0M94.2 107.6h0M93.5 100.7h0M99.9 106.2h0M93.5 102.1h0M99.7 101h0M93.8 101.6h0M95.1 103.3h0M94.1 105.4h0M100.3 102h0M93.2 104.5h0M99.3 105.2h0M94.8 110.3h0M100 102.2h0M98.4 102.3h0M94.5 125.6h0M96.5 123.1h0M93.7 130.3h0M95.7 118.1h0M92.7 116.8h0M97.9 116.7h0M97.2 116.3h0M94.6 114.4h0M92.6 141h0M99.9 118.3h0M93.4 141.9h0M95.1 118.8h0M92.7 118.1h0M95.5 121.7h0M95.6 117.6h0M96.7 121.1h0M95 115.5h0M94.4 119.7h0M98.7 141.9h0M94.7 119.9h0M95.1 124.2h0M96.3 129.9h0M94.6 116.8h0M98.2 120.4h0M93.1 116.7h0M95 120h0M95.8 122.9h0M94.5 115h0M99.1 74.1h0M95.3 72.1h0M95.8 65.3h0M96.2 76.1h0M99 70.2h0M94.2 75.6h0M99 76.3h0M100 74.7h0M94.6 73.1h0M117.8 91.8h0M114.4 91.5h0M116.9 89.9h0M114.8 89h0M114.2 92.1h0M114.3 90.3h0M112.3 92h0M117.5 90.4h0M112.8 90.5h0M113.8 90.5h0M112.9 87.2h0M118.6 87.9h0M116.4 86.9h0M115.9 91.8h0M116.8 92.2h0M118.6 89.9h0M117.1 87.4h0M116.3 87.2h0M114.7 89h0M116.3 88.7h0M120 87.6h0M116.7 87h0M116 90.2h0M119.2 91h0M112.6 86.9h0M112.7 88.3h0M118.4 88.2h0M119.7 89.6h0M112.6 89.9h0M112.4 88.8h0M112.3 91.4h0M116.8 88.7h0M113.3 88.2h0M116.6 90.9h0M117.5 91.3h0M112.3 91.5h0M119.1 87.5h0M114.2 87.6h0M116.6 89.1h0M115 92h0M114.9 90h0M115.4 90.1h0M112.2 88.4h0M115.6 92.1h0M114.3 87.5h0M115 89.7h0M113.5 90.3h0M114.8 91.1h0M117.7 91.1h0M120 88.7h0M113.8 88h0M119.1 92.1h0M117.1 89.7h0M113 88.1h0M112.3 87.3h0M119.2 91.1h0M114 91.3h0M113 89.7h0M117.4 88.7h0M117.8 90.3h0M119.3 92.1h0M116.2 89.8h0M114.7 91h0M114.7 91.5h0M113.8 90.8h0M117.2 89.3h0M119.7 87.5h0M112.9 90.5h0M115.3 91.2h0M115 92h0M112.8 87.4h0M116.9 87.1h0M120 90.1h0M114.4 91.2h0M118 86.9h0M119.3 90h0M114.3 94.2h0M119.5 99.6h0M118.1 94.9h0M117.3 92.8h0M113.7 98h0M114.4 94.4h0M113 95.3h0M119.3 93.2h0M118.6 94.6h0M112.9 93.2h0M116.4 94.1h0M113.9 96.5h0M118.3 94.4h0M116.7 97.1h0M119.7 98.9h0M118 96.5h0M113 92.4h0M115.1 99.3h0M116.8 93.7h0M119.4 94.8h0M115.1 96.1h0M113.7 96.8h0M114.4 94.7h0M114.2 95.5h0M113.4 96.8h0M114.9 95.6h0M114.2 94.3h0M116.2 95.2h0M119.3 95h0M119.8 94.4h0M113.5 96.6h0M116.7 96h0M117.5 95.2h0M113.4 97.4h0M116.4 98.2h0M113.8 97h0M115.1 94.7h0M114.8 99.1h0M118.6 93h0M114 98.2h0M116.5 95.3h0M116.8 95.1h0M114.8 98.4h0M119.6 97h0M114.8 99.4h0M114.8 98.7h0M117.7 93.1h0M116.1 95.9h0M117.9 97.9h0M113.4 92.8h0M113.4 96.2h0M118 99.5h0M115.3 94h0M119 93.1h0M114 94.3h0M114.1 94.7h0M119 94.3h0M115.1 95.4h0M113.1 98.4h0M113.9 96h0M118.3 96.6h0M114.3 93h0M116.6 92.7h0M118.8 99.2h0M117 94.8h0M118.2 99.2h0M119.9 94.7h0M114.6 96.9h0M119.1 97.1h0M116.6 92.9h0M113.8 92.7h0M113.2 95.5h0M114.8 93.1h0M113.3 94.4h0M118.3 93.6h0M116.6 94.5h0M112.5 81.1h0M119.2 79.2h0M116.9 77.8h0M115.7 79.5h0M113.3 82.5h0M115.9 81.6h0M119.5 68.1h0M116.8 80.1h0M115.8 84.4h0M117 85.8h0M116.6 84.3h0M117.1 75.8h0M113.8 82.4h0M113.4 81.4h0M112.3 75.6h0M118.8 81.7h0M112.2 79.5h0M114.2 75.3h0M116.8 79.7h0M116.2 70.5h0M119.3 86.1h0M113.9 79.7h0M113.1 78.9h0M113.5 73.5h0M116.1 75.5h0M114.5 74.5h0M115.8 84.3h0M117.6 75.1h0M114.7 83.6h0M117.5 74.4h0M112.4 82.6h0M116.5 79.4h0M119.4 70.4h0M119.6 73.2h0M116.7 81.1h0M120 84.7h0M114.1 82.5h0M114.6 84.2h0M115.7 80.1h0M116.2 84.4h0M118.7 68.1h0M115.7 85.1h0M112.6 86.3h0M117.7 68.1h0M114 80.7h0M119.2 82.8h0M113.9 82.2h0M114.5 77.1h0M113.3 81.9h0M114.6 72.1h0M117 75.4h0M114.3 81.9h0M112.6 77.4h0M116.8 86h0M118 79.2h0M113.1 82.7h0M115.6 83.6h0M112.7 79.9h0M112.3 81.6h0M115.2 85.8h0M114.5 79.4h0M119.1 80.1h0M112.3 77.9h0M117.3 77.7h0M118 79.3h0M115.5 78.2h0M116.2 84.6h0M114.2 79.7h0M114.2 73.1h0M112.6 81.2h0M119.4 80.5h0M112.4 79.4h0M113.3 81.1h0M117.9 81.5h0M115.8 74.7h0M116.2 75.8h0M114.5 119.4h0M113.5 102.3h0M118.5 101.3h0M113.2 108.2h0M114.5 99.8h0M118.1 100.1h0M114.6 108.5h0M119.7 108.1h0M113.6 108.8h0M116.4 104h0M116.5 111.7h0M116.2 109h0M118.3 108.4h0M112.6 106.8h0M116.5 113.2h0M118.4 103.4h0M112.6 109.7h0M116.5 106.5h0M115.7 100.2h0M115.4 103.7h0M116.5 119.3h0M117.1 102.2h0M117.8 103.3h0M119.3 109.1h0M117.4 104.5h0M120.1 106.4h0M117.5 108.2h0M114.3 99.7h0M113.4 105.4h0M112.8 119.2h0M114.3 112.9h0M113.1 105.9h0M117.6 108h0M117.7 116.5h0M117 114.4h0M115.2 104.4h0M115.9 103.7h0M114.2 102.9h0M119.5 109.3h0M112.3 102.8h0M114.7 108.7h0M116.7 120h0M113.6 101.3h0M119 107.5h0M116 102.3h0M115.1 101.6h0M112.7 111.4h0M114.4 114.3h0M116.9 108.8h0M114.4 106.8h0M112.6 109.7h0M116.8 103.1h0M114.6 104.3h0M118.9 103.1h0M117.7 109.2h0M117.9 103.3h0M119.2 101.6h0M118.6 102.7h0M114.8 103.9h0M116.7 110.6h0M114.2 101.2h0M113.8 120h0M113.8 105.1h0M113.1 100.1h0M114.1 107.8h0M114 102.2h0M117.5 101.7h0M114.2 105.3h0M112.6 105.3h0M115.5 103.4h0M113.8 104.8h0M117.7 105.9h0M114 104.4h0M116.6 104.1h0M113.6 113.9h0M116 104.9h0M119.1 119.9h0M114.6 123.3h0M116.4 119.1h0M115.7 136.9h0M112.7 119.3h0M112.4 127h0M118.9 121h0M114.9 125.4h0M117.6 68h0M115.5 67.6h0M135.4 116.4h0M134.9 116.1h0M138.9 121h0M133 113.2h0M133.6 121.1h0M134.2 113.4h0M132.4 113.8h0M138.6 114.8h0M135.8 115.5h0M136.7 129.7h0M138.9 129.6h0M135.8 130.5h0M134.1 125.2h0M136.1 121.7h0M135.9 127.5h0M134.3 130.1h0M133.8 122.5h0M134.8 129.4h0M137.8 112.7h0M133.2 107.2h0M139.8 103.6h0M133.8 109.6h0M134.1 109.4h0M132.9 109.8h0M135 107.6h0M134.9 104.8h0M137.3 109.8h0M139 131.4h0M133.9 141.2h0M138.3 133.3h0M134.4 137.2h0M135.2 135h0M132.9 139h0M139 145.8h0M134.9 144.2h0M137.5 140.9h0M156.5 91.4h0M153.7 93h0M152.1 90.2h0M155.3 91.5h0M153 91.2h0M153.2 93.2h0M154.7 90.5h0M159.1 92.3h0M154.5 91.1h0M157.3 92.3h0M154.6 92.9h0M154.9 93h0M152.8 93h0M153.1 91h0M157.8 90.9h0M155.1 90.4h0M153.9 90.8h0M159.5 90.3h0M158.6 92.8h0M153.8 90.1h0M155.1 90.6h0M156.2 92.8h0M153 92.7h0M155 93.5h0M153.9 91.3h0M158.1 90.1h0M152.4 92.9h0M159.5 91h0M153.5 92.8h0M154.3 90h0M152.3 90h0M158.9 92.1h0M158.2 92.4h0M152.2 92h0M155.8 91.9h0M154.8 92.1h0M156.5 90.4h0M154.3 90.1h0M159.2 91.2h0M153.4 91.9h0M158.2 90.8h0M153.8 90.6h0M156.8 91.6h0M155.1 91.4h0M155.8 90.9h0M155.8 93.3h0M156.6 93.4h0M152.2 90.1h0M152.1 91.7h0M159.4 90.8h0M153.7 91.1h0M154.5 90h0M153.6 90.2h0M156.8 90h0M159.5 90.4h0M154.9 92.3h0M154.2 90.2h0M154.4 93.2h0M151.9 92.9h0M152.4 90.9h0M152 92.5h0M154.2 93.4h0M159.5 90.3h0M152.8 92h0M156 91.6h0M153.3 91h0M152 91h0M158.3 90.2h0M152.7 92.3h0M152.7 90.6h0M158.1 91.5h0M153.6 93.3h0M153.2 94.9h0M159.1 94.7h0M153.2 97h0M158.3 95.7h0M154.1 95.7h0M156.1 94.4h0M154.1 95.9h0M154.4 95h0M159 95.6h0M158.9 95h0M153 93.9h0M157.4 96.8h0M152.8 96.1h0M154 97h0M152.2 94.7h0M156.8 94.6h0M157.4 94.1h0M157.6 94.7h0M157.8 94.8h0M154.8 94.3h0M153.1 94.6h0M151.7 94.7h0M155.2 96.7h0M159.1 95.2h0M155.2 96.6h0M156.5 93.8h0M158.9 94.3h0M158.5 97h0M157.5 93.8h0M156.4 93.9h0M153.5 95.5h0M157.6 94.6h0M155 94.3h0M157.3 95.8h0M153.4 95.8h0M159.1 94.3h0M153 95.5h0M157.9 95.2h0M158.7 96.6h0M152.9 93.8h0M158.5 94.4h0M156.8 95.6h0M156.4 93.7h0M153.7 96.6h0M154.3 97.1h0M153.5 94.8h0M155.2 96.4h0M156.8 94.5h0M157.4 97h0M157.3 94.4h0M154.4 93.6h0M154.3 93.8h0M157.7 95.3h0M159.4 93.7h0M153.4 97.1h0M154.9 95.9h0M153.9 95.6h0M159.4 95.9h0M151.8 95.1h0M158.7 96.8h0M157.7 96.2h0M154.3 95.1h0M157.1 94.6h0M154.6 94.1h0M156.7 94.7h0M155 94.9h0M158.9 93.9h0M155.3 96.9h0M158.1 94.5h0M156.2 95.5h0M154.6 93.8h0M159.3 95.6h0M153.2 89.2h0M158.9 83.6h0M159.4 82.3h0M158.4 87.3h0M156.5 89.3h0M156.6 81.3h0M159 85.2h0M155.1 89.7h0M158.2 82.2h0M157.8 84.8h0M158.5 86.1h0M155.2 80.4h0M156.8 89.1h0M152.4 87.7h0M152.2 88.2h0M152.5 88.1h0M157.5 88.4h0M154.5 81.2h0M158.9 82.6h0M152.3 89.1h0M153 84.6h0M158.3 79.6h0M155 86.8h0M153.4 84h0M157.9 80.4h0M153.5 84.7h0M159.4 88.7h0M153.8 87.8h0M158.5 87.6h0M155.5 88.6h0M159.1 80.2h0M154 87.2h0M159 89.6h0M154.1 84.4h0M155.2 88.2h0M156.7 87.7h0M156.1 78.7h0M157 85.4h0M157.2 87.1h0M153.8 89.8h0M151.7 84.2h0M157.4 78.7h0M156.4 84.8h0M156.1 85.6h0M155.6 86.8h0M159 87.7h0M154 84.5h0M158.9 84.1h0M153 89.4h0M157.2 77.9h0M159.1 86.4h0M152.9 86.4h0M157.8 81.8h0M153.8 89.5h0M152.1 83.5h0M155.1 86.2h0M157.2 88.4h0M153.9 89.8h0M159.2 89.1h0M151.7 86.6h0M153.8 81.8h0M154.4 87.2h0M154.6 82.5h0M154 83.5h0M151.8 88.1h0M153.3 86h0M153.7 88.9h0M157 85h0M154.7 88.9h0M157.4 89.2h0M155.2 89.7h0M154.4 85.8h0M152.9 106.2h0M153.5 98.7h0M158.8 101.9h0M155.3 103.3h0M154.1 97.5h0M153.4 99.3h0M158.6 99.7h0M157.2 102.1h0M157.2 108.4h0M158 97.8h0M153.6 106.1h0M157.5 101h0M152.2 103.7h0M156.9 97.4h0M154.2 104.2h0M156.9 102.8h0M153.5 100.3h0M154.5 101.4h0M157 100.9h0M159.1 98.7h0M154.4 98.2h0M153 105.7h0M152.7 99.1h0M157 104.5h0M158.7 107.2h0M151.8 98h0M154.4 105.5h0M153 99.9h0M159.2 101.3h0M152.7 108h0M152.2 101.4h0M157.7 99.2h0M159.6 107.9h0M157.8 98.5h0M152.6 97.8h0M154.9 106h0M155.8 104h0M158.8 99.2h0M157.6 98.2h0M152.1 107.9h0M155.3 101.3h0M157.8 101.6h0M156 100.3h0M156.9 97.4h0M159.3 98.8h0M159.4 101.5h0M158.3 97.4h0M156.2 105h0M154.1 98.6h0M152.9 100.3h0M153 99.7h0M156.7 108.4h0M157.8 101.3h0M158.5 101.7h0M158.9 98.2h0M153.9 101.3h0M154.3 98.6h0M153.2 107h0M156 98.8h0M159.2 99.4h0M157.7 100.2h0M155.1 101.1h0M152.9 101.2h0M158.3 105.7h0M158.8 99.5h0M157.7 100.4h0M154 104.8h0M154.8 106.7h0M156.3 99.8h0M158.9 97.2h0M153.6 97.9h0M155 100.2h0M152.1 111.6h0M151.7 111.8h0M153.6 110h0M158.1 113.5h0M157 135.2h0M155.4 108.5h0M154.9 111.4h0M153.8 77.7h0M157.7 76.2h0M173.7 140.1h0M170.7 135h0M167.6 141.7h0M176 146.1h0M175.1 135.1h0M176.6 146.2h0M171.4 135.4h0M175.6 137.9h0M175.5 145.9h0M172.3 145.9h0M175.8 136.4h0M174.9 142.8h0M167.8 150.4h0M168.1 148.9h0M170.8 151.5h0M172.1 150.5h0M173.3 147.7h0M172.4 149.5h0M175.6 151h0M174.8 150.4h0M167.8 149.9h0M170.1 151.2h0M175.7 147.1h0M174.3 146.5h0M166.9 130.2h0M173 110.7h0M168 131.8h0M171.8 128.4h0M176.7 122.9h0M167.5 126.8h0M175 133.9h0M171.6 131.9h0M176.6 130h0M175.4 126h0M167.4 126.7h0M173.2 131.2h0M175.4 155.6h0M169.5 158.1h0M173.8 157.6h0M169.3 167.3h0M168.8 158.3h0M170.1 157.6h0M169.7 154.4h0M176.4 154.1h0M169.1 158.5h0M171 156.7h0M171.6 153.8h0M173.7 153.1h0M176.5 168.7h0M196.1 91.2h0M192.5 90.3h0M198.4 92.9h0M191.9 92.7h0M193 97.1h0M197.9 95.2h0M195.8 93.7h0M193.8 97.2h0M197.5 98.5h0M196.3 95.9h0M192.1 96h0M193 97.9h0M197.6 92.8h0M197.6 99.1h0M191.7 91.8h0M195.3 90.6h0M196.8 97.5h0M193.7 91.8h0M191.6 93.2h0M194.4 94.8h0M198.5 91.2h0M196.9 94h0M192.8 93.3h0M197.8 91h0M196.4 95.6h0M193.4 94.2h0M193.3 91.6h0M192.5 97.2h0M194.3 93.8h0M194 90.4h0M193.4 98h0M198.1 93.8h0M197.2 91h0M195 92.8h0M198.8 92.5h0M196.5 90.6h0M198.7 93.1h0M197.7 91.7h0M196.2 92.1h0M196.6 96.2h0M197.3 91.6h0M197.1 90.4h0M198.1 91.8h0M193.8 92.8h0M194 91.7h0M193.1 95.5h0M198.4 105.6h0M198.3 105.2h0M194.6 102.6h0M194.3 104.9h0M192.2 104.9h0M198.9 103.8h0M196.5 105h0M198.8 101.9h0M196.1 104.6h0M195.2 103h0M197.1 104.6h0M198.2 104.6h0M197.8 99.6h0M193.9 105.3h0M195.1 99.4h0M198.6 102.3h0M195.1 103.5h0M197.5 105.2h0M195.3 99.5h0M197.7 104.1h0M191.7 101.7h0M191.1 99.4h0M191.9 101.6h0M194.6 103.8h0M194 99.7h0M198.7 105.4h0M199 99.4h0M192.2 100.9h0M197.7 101.5h0M195.2 99.6h0M197.8 105.9h0M194.1 106.3h0M197.3 105.8h0M191.2 100.6h0M194.8 105.3h0M193.8 101.6h0M193.1 101.2h0M193.5 104.2h0M194.5 99.7h0M195.1 99.1h0M195.3 106h0M197 101.7h0M197.7 105h0M198.7 102.3h0M196.4 99.8h0M193.2 102.6h0M195.7 83.9h0M194.6 85.3h0M193 87.9h0M193.8 89.4h0M192.9 89h0M195.4 74.9h0M191.7 79h0M195.4 84.3h0M194.4 84.8h0M191.2 75.5h0M193.3 87.7h0M198.8 78.4h0M195.7 76.5h0M191.6 85.8h0M195.7 88.1h0M196.7 89.3h0M192.2 83.1h0M194.3 82.1h0M192.8 87h0M195.4 82.8h0M197.6 86.6h0M193 88.6h0M192.2 86.4h0M192.2 78.8h0M196 77.5h0M191.7 70.6h0M195.3 84.8h0M197.6 85.3h0M197.2 78.6h0M196.4 84.9h0M191.2 79.5h0M194.6 83.1h0M193.1 88.3h0M195.2 81h0M192.3 85.8h0M192.2 89.3h0M198.7 88.2h0M198.1 78.5h0M191.9 86.1h0M197.7 78.7h0M191.7 84.7h0M193.8 80.2h0M199 87.8h0M198.6 85.9h0M194.8 78.2h0M196.7 78.8h0M194.2 107.2h0M197.9 109.6h0M193.6 113.6h0M192.8 107.2h0M192.3 109.1h0M196.1 109h0M195.6 107.3h0M198.3 123.5h0M192.3 117.7h0M197.5 115.4h0M198.6 124h0M197.1 114.1h0M192 113.1h0M192.4 111.1h0M191.8 113.7h0M193.8 109h0M197.1 114.1h0M192.3 124.5h0M194.7 111.1h0M191.5 122.5h0M196.5 114.6h0M191.9 112h0M197.4 114.1h0M196 111.3h0M192.6 112.1h0M196.7 119.3h0M193.9 115.6h0M195.3 115.8h0M195.5 118.5h0M193.3 112.3h0M194.4 114.1h0M197.4 118.1h0M198 107.4h0M197.9 111h0M195.6 117h0M198 110.9h0M192.2 106.7h0M198.9 108.3h0M191.5 112.1h0M198.3 113.2h0M197.4 113.5h0M194.2 112.1h0M197.4 108.1h0M198.7 122.7h0M192.4 120.7h0M196.3 109.7h0M191.2 145.8h0M196.4 137.9h0M191.6 143.1h0M196.4 126.6h0M191.3 134.1h0M194.3 60.8h0M208.3 105.2h0M214.8 101.8h0M212.7 105.8h0M208.4 102.8h0M210 101.1h0M207.6 105.6h0M210.6 100.9h0M216.2 103.6h0M210.1 105.7h0M210.2 105.6h0M214.3 103.3h0M207 101.3h0M207.4 103h0M213.7 101.8h0M207.5 101.9h0M212.4 101.9h0M214.4 101.2h0M211.9 100.2h0M207 104.5h0M208.3 100.1h0M211.6 103.4h0M215.8 102.2h0M212.8 103.9h0M213.2 103.5h0M212.2 102.9h0M209.5 104.7h0M212.3 103.4h0M206.3 105.4h0M210.4 103.5h0M214.4 105.3h0M208.3 105.2h0M212.7 104.2h0M213.5 102h0M207.8 102.9h0M214.8 100.5h0M208.6 104.4h0M215.9 103.9h0M209.7 104.9h0M212.4 100.5h0M215.8 100.8h0M214.5 103.9h0M211.1 104.4h0M208.2 100.4h0M212.4 100.2h0M212.1 101.9h0M206.8 102h0M210 100.3h0M215.5 100.6h0M211.5 101.2h0M208 100.1h0M212.7 100.9h0M210.8 100.2h0M215.4 102.2h0M211.1 104.5h0M206.5 104h0M207.8 103.6h0M208 102.8h0M215.8 101.1h0M209.8 100.3h0M209.7 101.1h0M216 105.7h0M208.3 104.9h0M212.5 103.4h0M215.7 103.7h0M215.4 104.5h0M207.8 104.9h0M210.9 101.4h0M208.7 104.8h0M213.2 103.9h0M208.7 101.7h0M208 101.7h0M208.9 101h0M207.5 103.3h0M213.4 105.8h0M209 104.7h0M210.2 101h0M209 100.7h0M210 101.7h0M209.3 101h0M209.8 100.9h0M213.3 104.4h0M207.9 101.9h0M213.1 103.4h0M209.7 101.9h0M207.1 105.9h0M207.4 103.6h0M215.3 100.8h0M206.6 104.7h0M209 101.7h0M214.9 102.7h0M207 101.7h0M208.3 102.9h0M208.9 101.8h0M214.6 101.9h0M207.4 100.9h0M215.7 105.8h0M207.4 101.2h0M211.9 101.7h0M214 102.5h0M211.8 100.7h0M211.3 101.4h0M210.6 102.4h0M208.7 103.5h0M216.2 103.2h0M210.3 102.2h0M212.6 104.1h0M212.1 104.5h0M215.9 101.6h0M208.7 101.4h0M207.8 103.8h0M215.3 102.5h0M211.3 105h0M212.7 100.1h0M212.5 103.2h0M214.1 102.1h0M214.6 101.3h0M213.3 105.2h0M206.2 101.3h0M214.6 104.7h0M206.6 105.1h0M214.8 105.8h0M206.2 100.7h0M214 100.9h0M212.6 100.5h0M206.5 101.9h0M213.8 105.4h0M212 103.9h0M207.4 100.9h0M215 100.6h0M212.1 104.5h0M210.9 103.7h0M215.7 100h0M208.2 103.5h0M208 101.1h0M215.2 101.8h0M207.8 100.6h0M214.4 105.9h0M208.3 102.7h0M214.4 103.7h0M210.3 101.2h0M212.4 102.3h0M212.3 103.9h0M210.2 104.5h0M211.4 105.4h0M212.7 101.5h0M207.6 101.4h0M215.4 102.4h0M214.5 101.9h0M208.3 104.9h0M208.5 102.2h0M210.2 102.2h0M214 103h0M211.4 103.4h0M209.4 102.1h0M213.9 100.1h0M208.2 104.4h0M213.3 100.7h0M213.8 105.1h0M207.2 101.5h0M211.9 101.5h0M212.2 103.2h0M216 105.4h0M209.2 102.3h0M210.8 102.9h0M215.6 102.5h0M207.5 100.7h0M215.2 101.7h0M209.9 105.5h0M209.7 105.6h0M216.2 101.5h0M210.1 105.5h0M208.7 100.1h0M208.3 110h0M213.2 106.1h0M212.6 108.3h0M208.6 108.3h0M211.2 108.4h0M209.1 111.2h0M214.6 107.9h0M209.8 106.1h0M212.4 106.6h0M215.4 110.1h0M208.6 106.7h0M215.8 106.3h0M211.1 107.1h0M212.6 111.4h0M208.9 108.4h0M213.2 106.8h0M213.5 109.6h0M212.2 108.1h0M214.9 109h0M210.9 111.5h0M206.3 109.8h0M215.4 108.9h0M211.9 111.5h0M212.4 108.8h0M212.2 108.5h0M206.6 110.7h0M209.1 111.3h0M207.1 110h0M212.7 108h0M214.8 108.2h0M212.8 106h0M214.4 107.3h0M209.5 110.3h0M206.5 108.7h0M210.3 110.7h0M207.9 109.7h0M209.3 109.1h0M208.6 110.4h0M208 108.7h0M213.1 109.7h0M212.2 108.7h0M214.5 107.9h0M216.1 110.2h0M208.6 106.4h0M215.6 111.4h0M213.9 111.3h0M211.9 110.6h0M216 108.6h0M211.4 108.5h0M206.5 108.2h0M207.4 108.5h0M209.3 107.2h0M213.2 110.4h0M211.9 110.8h0M213.1 108.8h0M206.4 110.7h0M208.7 107.6h0M211.8 110.7h0M212.8 111.4h0M210.5 109.7h0M208.4 111.3h0M209.3 110h0M213.9 109.8h0M213.4 108.6h0M208.7 106.3h0M215.8 106.7h0M206.6 110.6h0M208.6 107h0M210.6 109.8h0M214.3 106.9h0M211.9 110.2h0M213 111.3h0M215.8 109.4h0M209.9 106.2h0M208 110.1h0M210.3 108.6h0M211.9 110.8h0M207.5 106.8h0M206.6 107.5h0M213.5 111.1h0M216.2 110.6h0M215.6 111h0M210 108.9h0M210.8 109.7h0M214.5 111.1h0M216.1 109.6h0M209.8 106.5h0M215.8 106.9h0M213.2 106h0M207.7 106.6h0M210.7 106.1h0M206.2 108.1h0M210.3 109.4h0M211.5 110.7h0M214.2 108.2h0M209.5 106.9h0M212.7 111h0M212.9 111h0M211.5 111.4h0M212.4 106.1h0M210.8 109.2h0M212.3 109.5h0M210.8 108.9h0M215.4 107h0M207.3 111.1h0M214.9 109h0M213.7 106.2h0M206.3 107.9h0M213.4 110h0M209.8 107.1h0M211.3 110.3h0M211.4 107.2h0M213.6 108.4h0M211.1 107.6h0M212.6 106.7h0M208.4 110.9h0M206.9 107.9h0M212.9 110.1h0M216.2 110.9h0M207 107.6h0M215.4 106h0M210.1 108.9h0M212.8 107.3h0M208.9 110.8h0M213.2 106.9h0M210.6 110h0M214.2 106.1h0M209 107.5h0M209.5 107.1h0M212.5 110.7h0M207.3 109.3h0M216 109.6h0M212.3 106.5h0M216 107.7h0M208 110.9h0M213.3 109.4h0M208.2 110.2h0M207 108.8h0M210.7 107.1h0M210.9 111h0M211.8 107.5h0M210.9 106.9h0M208.2 109.6h0M213.1 106.5h0M208.9 110.2h0M209.1 109.9h0M214.1 108.1h0M213.1 108.8h0M213.5 108.7h0M215.5 106.4h0M214.8 106.4h0M208.4 107.9h0M216 106h0M211.4 107h0M211.8 108h0M209 109.4h0M210.1 108.8h0M211.8 107h0M206.5 110.2h0M213.4 110.4h0M209.7 109.6h0M213.2 109.8h0M213.6 107.4h0M212.4 110.6h0M206.9 109.2h0M211.9 107h0M209.8 109.8h0M213.4 109.5h0M213.4 109.1h0M211.3 108.6h0M213.6 110.2h0M207.6 110h0M214.4 93h0M216 96.6h0M215.3 84.9h0M214.4 87.6h0M210.3 99h0M215.6 99.5h0M211.9 99.2h0M208.4 94.6h0M211.7 85.6h0M214.8 98.9h0M213 94.2h0M214.6 88.8h0M206.5 95.9h0M216 97.5h0M215.5 92h0M211.3 99h0M215.5 95.7h0M208 98.4h0M209.9 93.1h0M207.9 93.5h0M212.9 98.9h0M215.4 93.2h0M215.6 94.9h0M207 93.6h0M213.9 97.5h0M211.8 99.7h0M208.4 95.6h0M215.2 99.1h0M211.5 89.8h0M206.6 95.7h0M210 93.7h0M213.1 94.2h0M214.8 89.2h0M208.2 97.6h0M212.2 94.8h0M207.1 89.4h0M215.4 98.1h0M206.3 88.4h0M216 88.4h0M211.9 94.8h0M213.8 87.7h0M212.9 94.3h0M211.3 94.1h0M210.6 92.4h0M208.3 97.8h0M209.1 97.2h0M207.1 99h0M208.9 90.9h0M212.8 96.3h0M211.8 95.3h0M211.9 96.8h0M211.5 95.1h0M215.7 95.1h0M214.8 97.1h0M208.9 97.4h0M211.8 95.9h0M216 97.7h0M208.9 93.2h0M213.3 87.3h0M212.7 92h0M212.9 93.2h0M211.8 92.4h0M213.7 91.1h0M210 97.5h0M215.6 95.4h0M211.9 97.8h0M209.6 99.1h0M212.6 97h0M213.1 96.6h0M215.5 98.2h0M212.6 91.7h0M211.5 96.5h0M209.7 99.9h0M210.5 99.3h0M209.1 97.7h0M212.4 95.2h0M214.9 96h0M212.2 99.3h0M208.2 89.2h0M206.6 85.2h0M215 87h0M209.2 89.7h0M213.1 87.8h0M215.7 96.8h0M215.7 90.1h0M211.8 96.9h0M215.4 89.1h0M210.2 87.6h0M215.7 93.7h0M213 84.1h0M207 95.8h0M214.4 95.1h0M207.8 96.5h0M216.2 97.1h0M206.7 91.3h0M213.8 91.5h0M207.7 84.5h0M211.6 96.4h0M209.9 99.9h0M215 95.6h0M209 99h0M213.4 98.5h0M215.7 97.3h0M206.8 92h0M213.4 90.6h0M207 95.1h0M214 98h0M214.8 86h0M207.6 92.9h0M215.1 87.7h0M210.6 96.7h0M209.3 99.5h0M215.9 91.2h0M210.1 99.9h0M208.3 85.8h0M209.5 98.1h0M215.3 89h0M216.1 97.7h0M210.8 92.3h0M211.2 97.6h0M212.2 90.9h0M214.7 96.9h0M206.3 97.5h0M214.2 91.8h0M216 86.6h0M210.3 95.2h0M210.6 97.7h0M215.8 99.2h0M210.3 97.8h0M210 91.8h0M214.9 99.2h0M211 97.4h0M212.7 97.3h0M209.1 92.1h0M213 99.4h0M209.9 88.5h0M214.1 93.7h0M211.2 93.4h0M215.5 98.3h0M211.7 97.2h0M214.8 96.3h0M210.6 93.1h0M212.9 88.4h0M208.9 88.2h0M212.1 98.1h0M212.9 98h0M208.1 85.8h0M211.7 99.5h0M215.5 96.1h0M208.2 99.7h0M211.1 91.9h0M214.6 96.4h0M210.5 97.7h0M206.5 98.5h0M211.5 97.9h0M210.8 92h0M215.5 86.3h0M212.9 99.3h0M214 97.4h0M209.9 98.2h0M215.2 87h0M214.5 94.9h0M207.1 94.6h0M212.9 98.7h0M215.3 96.8h0M212.7 89h0M216 97.2h0M208.8 87.9h0M212.1 93.9h0M211.6 98.1h0M209.2 99.8h0M214.1 99.4h0M210.5 112.2h0M212.7 125.7h0M214.1 114.6h0M213.5 119.3h0M207.2 115.3h0M206.7 115.6h0M214.5 112.4h0M212.7 115.2h0M207.7 116.9h0M207.5 122.5h0M211.2 112h0M208 113.5h0M215.6 112.9h0M208.4 112.7h0M215.7 120.9h0M213.4 114.9h0M211.8 119.1h0M213 127.1h0M213.2 113.9h0M209.1 118.7h0M211.1 124.7h0M206.9 111.9h0M206.7 122.5h0M215.7 115.6h0M214.8 115.2h0M213.8 123h0M207.2 115.3h0M212.5 118.7h0M213.4 119.6h0M210.5 116.5h0M210 118.1h0M213.5 127.1h0M206.3 118.9h0M210.9 111.8h0M208.8 120.7h0M210.7 120.4h0M211.8 114.7h0M210.4 117.6h0M215 112.3h0M215.1 111.7h0M213.8 112.9h0M214.2 123.6h0M211.2 118.3h0M208.9 117.7h0M214.4 113.8h0M207.4 111.7h0M212.2 113.7h0M212.6 122.1h0M207.3 114.6h0M208.2 112h0M213 114.6h0M214.8 121.1h0M210.1 115.1h0M211.5 112.2h0M213.3 112.9h0M212.1 112.3h0M210.9 116.7h0M212.6 114.6h0M213.3 113.6h0M214.3 116.1h0M211.8 113h0M212.9 111.6h0M208.2 114.9h0M207.8 122.5h0M214.4 120h0M208.4 119.6h0M210.6 117.3h0M215.1 111.9h0M207.7 119.1h0M213 112h0M208.7 117.4h0M212.5 118.9h0M214.4 113h0M214.5 112.6h0M214 112.4h0M211.4 118.4h0M211.7 117.2h0M207.9 113.3h0M207.4 121.3h0M213.7 113.8h0M206.7 112.5h0M215.6 123.6h0M208.1 114.4h0M213.4 111.8h0M210.7 119.7h0M212.4 111.9h0M213.8 111.7h0M209.2 112.9h0M214.5 121h0M213.8 118.1h0M212 114.6h0M212 113h0M210.1 118.6h0M216 113.3h0M210.1 121h0M208.6 115.3h0M211.8 118.1h0M215.5 114.6h0M215.5 121.6h0M212 125.7h0M210.1 114h0M213.7 115.7h0M211.8 112.9h0M214.5 114.7h0M214.6 114h0M213.3 112.6h0M216 115.1h0M212.7 114.1h0M216 116h0M212.8 118.2h0M208.4 117.8h0M212.5 116.4h0M213.9 127.1h0M210.5 117.7h0M207.9 113.2h0M209.7 113.2h0M214.1 121.7h0M208.3 121.2h0M206.3 113.9h0M215.1 115.2h0M216 113h0M214.9 113.4h0M214.3 116.1h0M213.5 115.2h0M211.7 114.1h0M212.8 120.4h0M213.7 115.3h0M209.5 111.9h0M208.3 118.2h0M213.2 120.2h0M212.3 118.2h0M216.2 123.4h0M210.4 117.8h0M210.4 117.3h0M207.4 112.8h0M206.3 119.7h0M207.6 112.3h0M212.2 118.9h0M215.9 112.6h0M207.3 125h0M207.8 120.9h0M213.1 115.6h0M209.2 112h0M206.7 111.8h0M215.1 113.6h0M207.7 113.2h0M210.6 118.7h0M213.8 115.8h0M214.1 117.6h0M215.8 122.2h0M212.2 119.6h0M207.7 116.3h0M207 113.2h0M212.7 119.8h0M211.6 114.3h0M208.7 118.9h0M207.9 111.8h0M209.7 118.3h0M209.1 114.2h0M209.8 126.1h0M209.7 115.6h0M213.8 119.8h0M210.8 115h0M214.7 113.1h0M211.3 114.7h0M209.1 114.9h0M215.5 120.7h0M212.8 120h0M214.7 116.6h0M208.5 121.2h0M216 121.4h0M212.6 112.8h0M210 136.1h0M208.7 135.4h0M207.2 129.4h0M206.5 132.1h0M208.2 127.8h0M209.3 154.4h0M211.5 128h0M210.2 127.2h0M206.6 129.1h0M207.6 127.7h0M206.4 154.4h0M206.6 138.2h0M209.2 132.2h0M212.6 127.2h0M207.7 154.4h0M215.1 149.9h0M216.1 135.2h0M212.4 78.1h0M206.7 81.8h0M208 72.8h0M211.3 77.6h0M215.6 80.3h0M216.1 72.8h0M233.3 88.6h0M234.6 86.7h0M231.1 88.2h0M233.5 85.1h0M236.7 86.5h0M236.7 88.1h0M231.8 89.8h0M233 86.6h0M232.7 85h0M236 85.1h0M231.6 86.5h0M238.4 88.5h0M231.5 89h0M234.8 88.9h0M236.2 90h0M238.1 88.8h0M235.5 88.8h0M237.4 88.3h0M234.8 88.7h0M232.4 89.1h0M233.9 90.7h0M235.4 85.7h0M234.8 88.6h0M236.8 85.4h0M234.9 85.9h0M233.6 90.3h0M234.7 87.1h0M234.7 88.1h0M230.7 85.9h0M233.2 87.8h0M235.1 84.8h0M236.2 88.2h0M234 90.5h0M236.5 88.9h0M234.6 88.7h0M233.5 88h0M232.5 86.6h0M236.9 89.4h0M237.9 87h0M236.4 86.7h0M232.4 88h0M236.2 90.6h0M234.6 89.2h0M237.9 88.8h0M230.7 85.4h0M236.7 89.6h0M234.3 87.2h0M237.4 88.5h0M235.4 88.1h0M230.7 89.5h0M236.1 84.8h0M234.8 85.2h0M232.5 86.3h0M231.6 85.9h0M233.8 88.8h0M235 85.3h0M234.4 85.2h0M230.7 87.9h0M231.8 85h0M236 89.5h0M234.9 86.6h0M236.5 86.5h0M233.9 88.3h0M232.6 90.7h0M236.9 86.4h0M232.3 86h0M231.1 86.9h0M233.5 89.4h0M234.2 90.4h0M232.3 85.6h0M238.2 84.8h0M232.4 86.5h0M231.6 86.6h0M235.8 89.2h0M231.7 88.8h0M232.8 89.2h0M233.9 87h0M232.8 87.3h0M235.8 90.4h0M231.7 84.9h0M235.7 84.7h0M231.5 84.7h0M235.2 89.7h0M238.4 87.8h0M236.8 88.9h0M238.1 88.7h0M234.9 89.6h0M231.9 87.9h0M233.5 86.6h0M236.8 85.3h0M231.7 87.1h0M235.9 85.8h0M233.2 90.3h0M237.9 89.3h0M233.4 86.4h0M233.2 87.8h0M232.8 87.5h0M234.9 88.3h0M238.1 90.5h0M234.9 86.3h0M236.5 88.4h0M234.7 87.7h0M231.3 90.5h0M235.3 86h0M235.3 88.6h0M235.3 85.2h0M233 88h0M232.7 90.6h0M233.2 89.1h0M230.8 84.8h0M231.9 90.7h0M232.9 87.9h0M234.7 88.2h0M237.8 90.5h0M236.2 88.2h0M234.7 86h0M236.3 87.3h0M234.1 89.2h0M231 87.1h0M236 85.6h0M236.2 87h0M235.8 85.2h0M237.4 85.2h0M236.8 85.4h0M237.2 87.8h0M231 86.6h0M238.5 85.7h0M235.3 89.2h0M235.3 88.4h0M235.5 89.7h0M232.7 91.8h0M233 94.8h0M237.5 92.5h0M235.4 94h0M238.2 93.7h0M232.3 94.6h0M235.2 94.5h0M235.4 96.8h0M230.9 94.9h0M235.6 93.1h0M233.6 96h0M234 91.8h0M232.1 95.8h0M235.3 94.5h0M235.9 92.5h0M237.7 95.7h0M237.3 91.5h0M238.4 91h0M238.3 92.6h0M236.2 94.1h0M232.8 94.9h0M234.9 92.8h0M231.3 94.6h0M235.1 97.2h0M233 97.3h0M234.9 95.5h0M236.5 92.8h0M231.1 93.9h0M237.5 96.1h0M230.9 96.6h0M234.5 97h0M232.3 93.3h0M230.9 93h0M234.4 93h0M232.7 95.9h0M231.2 97h0M237.1 94.5h0M232.5 93.7h0M238 95.1h0M235.4 93.5h0M233.4 94.5h0M231.1 92h0M237.4 91.4h0M231.5 93.4h0M236.8 92.5h0M234.8 91.8h0M234.2 97.1h0M231.2 95.3h0M233.9 93.3h0M230.7 97.2h0M236.6 91.5h0M236.2 93.1h0M231.7 96.5h0M234.6 97.1h0M232 96h0M236.2 92h0M232.1 94.5h0M232 91.3h0M232.9 91.2h0M238.3 96.4h0M237.1 90.8h0M233.8 91.4h0M236.9 91.5h0M233.5 95.4h0M232.1 94.9h0M237.7 92.2h0M230.9 93.5h0M236.9 97h0M238.2 92.2h0M231.3 91.2h0M237.4 95h0M236.8 91.5h0M230.9 94.4h0M234.1 92.5h0M232.7 91h0M233.6 95.1h0M233.6 95.7h0M233.7 92.8h0M230.7 91.8h0M232.8 97.1h0M232.9 92.4h0M235.7 92.4h0M236.1 93.2h0M236.5 92.4h0M235.7 92.4h0M237.7 96.8h0M235 91.3h0M233.1 96.2h0M230.9 94.3h0M236.4 91h0M235.1 91.8h0M231.9 95.1h0M234.7 94.4h0M238.1 92.4h0M235.4 92.7h0M233.1 96.8h0M237 95.6h0M233.7 95.1h0M230.7 96.8h0M231.2 92.3h0M238.2 92.9h0M231.3 96.2h0M236.8 93.7h0M230.8 93.7h0M234 96.1h0M232.8 97.3h0M233.3 96.6h0M231.3 95.8h0M233.8 93.7h0M236.6 95.4h0M234.8 92.3h0M231.7 92.4h0M237 92.1h0M237.5 95.2h0M234.2 97h0M233.4 95.7h0M230.7 92.5h0M231.2 95.1h0M233.6 93.1h0M231.5 96.2h0M238.3 94h0M235.7 92.4h0M233.1 92.7h0M235.2 91.4h0M231.9 93.1h0M237.9 93h0M234.6 93.8h0M236.1 95.1h0M232 96.8h0M234.4 96.1h0M236.3 76.9h0M233.7 75.2h0M231.1 82.3h0M234.3 80.3h0M237.1 80.1h0M234.3 77.8h0M238.4 83.1h0M235 82.6h0M237.6 73h0M230.9 79.9h0M235.6 82.3h0M234.6 74.9h0M233.4 84.1h0M237.7 79.6h0M231.3 83.6h0M234.5 79.1h0M233 79.3h0M238.2 73.6h0M236.8 82.2h0M232.2 81.3h0M231.6 78.1h0M230.8 74.5h0M232 70.4h0M238 83.9h0M237.5 79.6h0M236.9 75.9h0M233.8 72.5h0M234.4 77.6h0M235.2 81.7h0M237 76.7h0M230.6 78.9h0M232 74.7h0M235.2 76.2h0M231.7 78h0M238 81.3h0M231 68.5h0M238.3 79.4h0M232.3 79.4h0M232.1 74h0M234 82.6h0M235.7 83.6h0M238.4 78.3h0M234.4 82.8h0M237.7 82.8h0M237.7 81.2h0M238.4 84.4h0M233.5 83.4h0M234.4 79.5h0M230.8 83.1h0M233.6 77.3h0M233.4 72h0M231.6 76.1h0M237.2 83.1h0M232.8 76.6h0M231.6 84.2h0M231.5 78.6h0M230.8 73.9h0M236.6 80.3h0M234.8 84.2h0M234.8 83.1h0M233.9 83.3h0M238.2 72.5h0M233.6 83.1h0M234.4 82.5h0M236.1 78.6h0M238 82.9h0M237.4 73.1h0M237.6 74.6h0M232.1 81.6h0M238.1 71.1h0M237.1 78h0M233.2 75.8h0M237 82.8h0M238.2 72.2h0M236.5 83.2h0M236.5 79.2h0M237.2 81.9h0M237.6 83h0M236.8 84.5h0M231.2 71.3h0M232.3 80.2h0M231.6 74.9h0M234.3 77.7h0M231.1 74.6h0M235 84.2h0M237.9 75.2h0M238.4 78.3h0M230.9 75.3h0M236 80.3h0M231.7 79.6h0M237.4 80.2h0M230.9 82.1h0M231.4 74.3h0M233.2 75.7h0M230.6 75.3h0M235.8 80.6h0M232.2 72.7h0M236.3 81.7h0M238.1 76.6h0M234.3 84.3h0M234.3 80.8h0M238.5 79.1h0M233.1 77.6h0M237.6 80h0M236.3 83.9h0M230.7 75.8h0M233 77.9h0M236.3 80.2h0M231 78.9h0M237.4 79.8h0M237.8 71h0M236.6 81.1h0M237 81.9h0M235.3 76.2h0M237 77h0M234.3 82.4h0M233.8 72.2h0M236.2 77.6h0M234.3 79.5h0M233.1 84.4h0M232.7 74.2h0M234.1 77.1h0M233.6 82h0M236.6 82.3h0M236.8 81.5h0M236.9 79.3h0M237.3 77h0M233.5 76.7h0M233.5 83.6h0M237.2 83.4h0M232 104.9h0M236.2 103.6h0M234.8 101.9h0M235.9 97.6h0M236.1 105h0M235.9 102.9h0M232.5 110h0M230.8 102h0M238.1 105h0M237.7 100.1h0M234.6 107.9h0M235.8 101.3h0M231.3 102.8h0M234.2 98.1h0M235.3 100.9h0M236.1 107.4h0M232.3 106.9h0M231.3 97.6h0M238.2 101h0M237.3 112.2h0M232 98.5h0M237.1 100.8h0M237 97.5h0M232 106.1h0M237 105h0M233.6 107.8h0M233.3 101.9h0M231.9 109.6h0M235.3 114.5h0M235.5 98.7h0M234.7 99.1h0M231.4 98.4h0M236.9 104.2h0M233.1 100.5h0M232.7 109.3h0M235.7 97.7h0M232.1 100.9h0M237.8 103.4h0M235.7 105.5h0M236.9 101.9h0M233.3 98.1h0M234 97.6h0M232.6 98.9h0M232.6 97.5h0M233.9 108.6h0M236.8 116.9h0M234.6 101.5h0M237.2 108h0M231.5 109.5h0M232.9 103.4h0M230.9 98.9h0M237.8 104.2h0M231.1 101.8h0M234.9 106.8h0M235.9 98.5h0M232.2 99.9h0M238.4 99.8h0M238.4 101.6h0M232.5 106.2h0M231.7 101.5h0M235.8 104.4h0M234.7 101.2h0M235.4 104.8h0M235.5 106.6h0M238.2 99.7h0M236.7 116.9h0M233.1 106.2h0M236.5 102.4h0M234.2 101.7h0M238.3 97.9h0M234.4 111.2h0M230.7 109h0M237.9 101.3h0M232.8 98.3h0M237.1 99.8h0M235.4 99.1h0M236.5 107.9h0M236.5 98.2h0M237.8 110h0M237.2 100.2h0M235.7 106.8h0M233.2 101.1h0M234.5 101.5h0M232.8 101.4h0M233.3 97.4h0M234.3 101.4h0M234 110.9h0M232.9 105.3h0M233 101.8h0M233.1 99.9h0M232.1 99.3h0M235.2 112.2h0M231.3 100.6h0M232.6 98.4h0M232 102.6h0M236.2 103.1h0M232.8 98.7h0M231.4 109.8h0M237.1 115h0M234.1 107.5h0M237 99h0M233.1 105.5h0M233.3 97.5h0M235 97.7h0M231.2 101.9h0M238.3 102.3h0M231.7 107.8h0M237.8 106.2h0M235.8 105.9h0M236.7 98.1h0M232.3 116.9h0M237.7 97.5h0M234.8 109.9h0M233.9 100.9h0M232.1 101.4h0M232 97.7h0M237.4 99.8h0M238.3 105h0M233.9 105.5h0M236.3 99.2h0M236.1 110.7h0M234.5 104.9h0M234.4 101.6h0M235 103.1h0M233.4 105.3h0M236.5 107h0M233.9 97.7h0M234.6 101h0M232 97.7h0M238.3 99.6h0M231.2 127.2h0M236.3 117.4h0M235.8 117.6h0M233.3 117.3h0M238.3 130.8h0M230.9 121.8h0M232.8 136.4h0M233.3 121.8h0M235.7 132.6h0M235.3 125.9h0M236.2 118.8h0M237.4 118.2h0M230.8 118.6h0M235 64.9h0M233.8 55.8h0M236.1 55.8h0M234.8 67.6h0M252.3 82.6h0M257.2 80.2h0M252.3 80.7h0M258.2 85.5h0M250.4 82.2h0M256.6 87.9h0M254.3 80.6h0M256.8 86.7h0M254.5 83.7h0M256.9 82.1h0M256 81.7h0M255.4 82.6h0M257.9 82.7h0M251.3 81.5h0M257.7 81.4h0M254.5 88h0M255.9 91.7h0M255.6 93.3h0M253.4 94h0M254.5 91h0M258 95.9h0M254.2 90.7h0M257.6 89.9h0M250.4 88.7h0M254.9 90.4h0M255.8 88.8h0M253.5 93.4h0M251 93h0M256.6 88.5h0M256.3 96h0M253.4 94.2h0M251.1 92.8h0M257 72h0M256.5 77.6h0M256.9 75.5h0M256.8 75.8h0M252.4 73.6h0M255.3 70.3h0M254 79.1h0M253.4 73.4h0M253.6 76.1h0M255.7 71.6h0M258.2 76.7h0M254.1 69.6h0M253.2 76.2h0M255.3 66.6h0M255.3 77.8h0M253.6 75h0M255.5 114.2h0M255.5 96.5h0M256.3 96.7h0M251.7 101.9h0M255.5 99h0M253.6 101.3h0M257.3 104.4h0M255.2 96.7h0M256.8 103.6h0M256.8 108.9h0M252 106.8h0M251 96.8h0M256.4 102.4h0M250.8 108.8h0M257.8 112h0M255.8 115.4h0M253.7 145.7h0M255.6 121.8h0M251.4 54.7h0M274.6 107.8h0M277.6 104.6h0M274.8 104.3h0M274.6 104.6h0M276.9 103.5h0M274.7 107.9h0M270.8 104.4h0M274.9 106.4h0M272.4 104.8h0M275.1 106h0M278 105.5h0M274.9 106.9h0M276.7 104.4h0M272.9 104.8h0M270.2 104.1h0M270.4 105h0M270.2 107.4h0M271.8 108h0M272.2 103.5h0M272.6 107.5h0M275.3 106.9h0M276 103.8h0M276.2 104.2h0M276 107.6h0M276.8 104.3h0M275.8 107.8h0M273.7 106h0M273.3 108.1h0M270.7 105.8h0M270.2 104h0M276.9 106.3h0M271.3 105.5h0M276.9 103.7h0M273.2 107.3h0M270.5 107.7h0M276.6 108h0M275.7 106.5h0M278 106.2h0M274.4 104.3h0M277.4 108h0M274.1 106.9h0M272.1 106.6h0M273.3 106.7h0M275.3 107.4h0M277.1 105h0M276.5 103.9h0M277.4 108.2h0M274.3 103.6h0M273.7 104.7h0M274.2 105.8h0M277.5 103.6h0M273 104.9h0M270.6 107.6h0M273.2 106.4h0M275.2 106.2h0M276.7 103.5h0M277.5 105.5h0M275.5 104h0M276.5 105.3h0M276.5 105.3h0M276.5 105.4h0M274.8 104.9h0M277.6 107.1h0M277.1 105.6h0M270.1 107.8h0M271 105.1h0M277.9 104.1h0M275.4 105.1h0M271.2 107.6h0M277.3 105.1h0M270.8 107.3h0M274.3 106.7h0M273.1 104.6h0M272.4 104.3h0M272 103.9h0M270.8 105.6h0M273.1 106.7h0M270.9 104.8h0M275 108h0M272.6 103.5h0M276.1 107.2h0M277.5 104.2h0M277.1 108.2h0M275.9 103.9h0M276.3 107.8h0M270.8 105.3h0M277.8 104.8h0M274.6 103.6h0M274.4 104.5h0M275.4 105.2h0M271.6 107.9h0M273.8 108h0M271 103.8h0M277.4 106.1h0M274 103.6h0M271.1 103.9h0M277.8 106.4h0M274.7 105.9h0M276.1 107.7h0M276.4 107.7h0M275.6 104.2h0M273.6 106.4h0M272.3 107.3h0M270.5 107.1h0M275 106.1h0M270.9 105.9h0M273 106.1h0M277.1 105.4h0M277.2 106.1h0M276.6 107.7h0M271.6 105.1h0M277.5 105.5h0M271.2 105.5h0M277.3 107.6h0M276 104.6h0M277.8 105.5h0M277.9 107h0M274.2 105.3h0M272.5 107.5h0M277.3 106h0M272.6 103.9h0M272.7 105.2h0M274.6 104.1h0M271.2 105.5h0M273.7 105.1h0M271.2 105h0M273.7 107.4h0M277.3 107.7h0M277.4 107h0M277.7 107.1h0M275.8 107.7h0M276 107.8h0M273.5 104.2h0M277.2 113.2h0M271.1 109.1h0M271.4 109.7h0M271 112.6h0M273.3 109h0M270.5 113.6h0M275.6 113.4h0M271.5 108.2h0M275.5 111.8h0M274.5 113.4h0M275.6 111.2h0M275.6 111.2h0M276.3 111.5h0M273.9 111.3h0M274.6 111.5h0M272.1 112h0M274 113.6h0M270.8 108.7h0M277.6 109.5h0M277.4 108.2h0M270.7 108.6h0M270.2 109.3h0M273.2 113.3h0M274.2 110h0M273.9 111.6h0M272.7 110h0M275 113.7h0M273.2 109.3h0M273.3 110.4h0M270.3 110.3h0M274.8 109.4h0M270.7 108.6h0M276.9 110.4h0M273.9 109.3h0M272.9 108.3h0M275.3 113.2h0M277.1 110.1h0M271.4 108.3h0M273.3 111.7h0M277.8 110.9h0M276.9 112.1h0M273.2 110.2h0M272.9 109h0M276.5 111.8h0M270.7 110.4h0M271 113.1h0M274.6 110h0M274.6 109.4h0M274.6 109.2h0M276.1 109.6h0M277.1 109.5h0M273.2 111.1h0M272.7 110.3h0M276.8 113.6h0M272 109.3h0M277 113.5h0M275.7 110.1h0M276.8 110.9h0M275.1 113.6h0M270.9 112.6h0M275.7 113.5h0M274 111.2h0M271.5 110h0M270.9 112h0M272.2 112h0M271.1 108.4h0M271.1 108.8h0M276.8 113.5h0M277.6 112.2h0M278 112.8h0M274.5 109.3h0M274.6 113.7h0M270.5 109.9h0M271 109h0M276.2 110.2h0M274.6 110.2h0M274.6 108.5h0M276 112.9h0M276.5 113.1h0M275.7 109.3h0M270.2 111.3h0M274.4 113.1h0M276.7 110.3h0M276.6 111.1h0M277.6 109.6h0M274.2 110.8h0M274.2 109.9h0M270.3 112.8h0M274.1 109.1h0M274.5 108.4h0M277.3 113.2h0M277.1 109.2h0M270.6 111.3h0M271.2 112.2h0M273.1 110h0M276.3 113.4h0M271.4 110.1h0M276.2 109.3h0M274.8 108.6h0M277 113.2h0M272.8 109.4h0M273.3 113.2h0M270.6 110.8h0M274.2 113.4h0M276.2 108.7h0M274.1 113h0M274.2 113.7h0M277.3 112.2h0M276.1 108.9h0M272.6 113.8h0M277.6 112.7h0M275.8 109.4h0M272.5 113.6h0M271.7 108.7h0M275.4 108.9h0M274.1 108.3h0M274.8 111.5h0M271.1 110.5h0M276.1 108.7h0M276.9 111h0M273.4 113.1h0M272.5 108.7h0M277.8 111.8h0M277.8 109.1h0M271.1 111.1h0M274.4 110.1h0M273.5 109.7h0M272.3 108.3h0M274.2 111.4h0M275.4 110.7h0M273 112.1h0M272.5 109.2h0M276.9 113.7h0M275.3 101.1h0M272.5 99.9h0M271.3 102.2h0M273.1 102.5h0M277.5 102.8h0M276.7 103.3h0M271.7 102.4h0M274.9 94.1h0M270.1 96.3h0M277.3 99.9h0M277.5 101h0M271.8 101.4h0M272.8 102.7h0M272.5 101.9h0M271.5 99.6h0M275.5 95.2h0M273.1 88.6h0M270.1 102.3h0M271.8 96.4h0M275.3 97.9h0M275.6 100.5h0M270.2 101h0M274.4 101.8h0M275.1 98.5h0M275.1 101.9h0M275.2 102.6h0M276.3 89.1h0M272.7 102.2h0M276.8 102.5h0M273.6 88.6h0M270.6 99.6h0M275.2 103.1h0M272.8 102.3h0M275.1 101.4h0M273 100.8h0M274 96.8h0M274.5 100.6h0M275.7 100.7h0M272.4 90.2h0M275.4 92.5h0M271.9 100.3h0M276.3 100.8h0M271.9 101.6h0M270.6 100.2h0M270.4 99.1h0M274.8 97.2h0M272.6 91.9h0M274.6 97.2h0M272.5 93.9h0M273.6 92.6h0M277 98.3h0M277.4 102.2h0M270.4 100.3h0M277.6 101.2h0M274.1 93.5h0M275.9 102.2h0M277.4 99.9h0M271.6 103.2h0M273.1 100.2h0M277.1 100.1h0M274.2 102.9h0M277.2 96.5h0M276.7 103h0M278 95.4h0M275.3 97.8h0M270.6 100.8h0M277.2 97.2h0M271.5 102.3h0M271.3 96h0M273 90.3h0M271.7 102.4h0M271.2 93.7h0M275.1 93.8h0M277.3 102.2h0M272.2 94.6h0M273 102.8h0M275.2 88.7h0M272.5 93.4h0M274 100h0M277.3 102.8h0M271 101.3h0M274.3 101h0M271.8 96.6h0M276.2 99.4h0M271.7 99.1h0M276.5 97.3h0M273.3 102.3h0M277.4 88.6h0M272.9 89.8h0M274 98.6h0M270.9 99.1h0M272.3 97.6h0M273.4 100.8h0M277.1 91.7h0M274.7 100.9h0M276.5 102.7h0M276.8 90.4h0M270.8 90.6h0M272.6 101.4h0M276.7 92.7h0M276.1 99.2h0M274.5 102.7h0M273.3 101.1h0M274 102.5h0M270.2 98.5h0M271.1 102.6h0M272.9 96h0M271.2 100.9h0M271.9 94.8h0M276.5 99.6h0M276.2 95.3h0M275.9 99.4h0M274.6 100.7h0M277.4 101.4h0M271.9 96.4h0M275 102.9h0M273.4 91.6h0M277.5 100.5h0M272.8 88.6h0M272 102h0M276.2 100.8h0M276.5 94.6h0M275.8 103.1h0M276.3 101.3h0M271.6 91.3h0M274.9 100.5h0M274.3 91.7h0M277.3 95.1h0M273.2 99.5h0M272 98.2h0M272.5 95.5h0M274.1 102.4h0M277.9 102.6h0M275.6 115.4h0M275.8 120.7h0M273.8 116h0M273.2 119.3h0M277.5 122.4h0M273.6 115.6h0M271.1 123.5h0M276.3 122.6h0M271.7 114.3h0M273.2 114.4h0M274.9 116.5h0M276.7 121.2h0M270.1 115.4h0M275.2 116.6h0M271.2 116.1h0M275.1 119.9h0M274.9 127.1h0M274.2 117.4h0M273.5 125.4h0M274.4 118.1h0M277.7 114.4h0M272.9 114.4h0M273.8 120.5h0M271.2 114h0M273.2 121.3h0M270.5 124.9h0M277.3 114.2h0M272.8 120.4h0M277.5 115.2h0M271.1 121.1h0M275.3 115.9h0M274.8 122.1h0M275.3 116h0M276.4 116.4h0M270.7 117h0M275.9 121.1h0M270.3 115h0M272.5 118.8h0M276.8 124.5h0M274.6 115.7h0M277.4 117h0M276.9 117h0M273.4 121.7h0M272.3 119.3h0M271.7 117.4h0M270.4 117.9h0M275.7 118.7h0M276.5 117.3h0M270.5 114.5h0M274 114.2h0M276.7 113.8h0M275.1 115.4h0M273.4 113.8h0M277.6 116.3h0M273.4 123h0M272.5 118.3h0M274 116.9h0M272.8 118.8h0M273.2 116.4h0M274 115.9h0M270.7 114.1h0M274.9 124.2h0M274.7 120.7h0M275.7 117.3h0M272 122.7h0M270.4 118.7h0M275.7 115.9h0M273 120.1h0M274.8 116.7h0M272.2 115.6h0M272.8 125.5h0M272.2 127.1h0M274 117.3h0M275.2 113.9h0M271.9 117.3h0M272.6 119.1h0M273.7 119.1h0M275.6 125.6h0M273 114.9h0M270.6 119.8h0M274.2 117.7h0M273.7 115.7h0M278 119h0M274.7 115.4h0M270.4 120.6h0M275.2 117.8h0M270.7 121.3h0M273 116.7h0M270.4 123.6h0M274.8 119.2h0M271.4 123.1h0M277.6 113.9h0M271.6 122.1h0M277.7 115.7h0M277.3 119.4h0M274.2 119.9h0M273.8 120.9h0M273.2 114.4h0M276 114.3h0M271.6 115h0M272.9 117.1h0M270.5 116.2h0M273.5 119.8h0M271.6 115.5h0M277.4 120h0M273.6 116.3h0M271.8 117.4h0M272.2 118h0M271.5 116.3h0M270.8 121.2h0M270.5 115.6h0M275.7 114.9h0M270.9 118.3h0M276.7 121h0M277.7 127.1h0M277.3 114.6h0M271.5 120.7h0M276.4 119.5h0M274.8 127.1h0M277.6 115.4h0M272.4 121.9h0M274.9 127.1h0M275 117.9h0M271.6 119.1h0M274.8 116.6h0M275.8 114.9h0M276.5 124.4h0M276.9 114.7h0M270.3 117.6h0M276.1 118.1h0M272.6 117.6h0M276.1 127.1h0M271.3 115.6h0M273.1 127.9h0M273.3 134.5h0M275.6 130.4h0M275 146h0M276.5 126.8h0M270.1 128.5h0M272.3 134.1h0M275.9 128.9h0M272 139.2h0M276.8 127.8h0M272.5 127h0M275.4 129.6h0M270.5 135.5h0M277.3 87h0M271 86.6h0M273.3 88.3h0M273.2 77.5h0M290.2 106.5h0M290.5 109.3h0M293.2 109h0M294.4 104.2h0M293.9 110.3h0M290.2 104.4h0M293.2 107.6h0M293.3 105.6h0M297.2 108.3h0M292.4 105.4h0M294.8 108.4h0M293.7 109.6h0M296 108.3h0M294.6 110h0M297.7 106.8h0M294.9 108.8h0M292.5 107.3h0M293.1 110.6h0M296.6 104.8h0M292.7 110.3h0M297.1 104.2h0M293.3 110.2h0M297.3 104.7h0M291 109h0M296 104.8h0M293.3 109.6h0M291.6 105.7h0M294.5 104.6h0M290.3 110.3h0M291.4 108.2h0M296.5 110.1h0M294 109.7h0M292.5 104.8h0M291 104.8h0M291.1 109.2h0M291.6 110.1h0M293.5 105.4h0M290 110.4h0M291.4 104.3h0M293.2 109.6h0M296.8 108.6h0M296.7 106.8h0M297.2 106.8h0M291.6 106.3h0M290.8 107.5h0M296.5 107.7h0M295.3 105.3h0M291.8 104.2h0M293.2 107.8h0M297.1 105.5h0M296.3 104.8h0M297.2 105.9h0M293.7 105.1h0M291.3 110.2h0M294.1 106.2h0M290.7 108.7h0M290.7 104.2h0M290.5 108.8h0M291.8 110.9h0M291.1 109.5h0M291.9 109.5h0M295.3 107.1h0M295.1 107.5h0M290 110.5h0M296.6 105.8h0M296.3 107.7h0M297.3 109.3h0M291.5 106.5h0M295.6 107.5h0M294.2 104.4h0M295.4 108.9h0M297 105.3h0M290.5 113.6h0M296.5 113.3h0M296.6 117.8h0M294.9 114.9h0M293 120.3h0M294.1 118.6h0M290.9 119.7h0M295.7 117.5h0M294.2 113.3h0M294.4 114.2h0M295.4 114.5h0M290.6 113.1h0M290.2 115.5h0M290.8 118.5h0M290.4 116h0M296.2 112.7h0M290.9 117.9h0M292.8 120.1h0M295 115.6h0M291.9 112.5h0M297 117.9h0M297 116.2h0M292.9 118.6h0M294.5 116.8h0M296 119.2h0M297.6 111.3h0M295.3 117.2h0M293.4 116.7h0M290.2 118.4h0M294.9 113.2h0M295 116.6h0M295.3 113.7h0M292.6 118.1h0M296.6 111.9h0M294.5 112.7h0M292.8 119.9h0M291.7 118h0M290.1 113.5h0M295.4 114.1h0M292.3 115.2h0M296.6 113.3h0M292.4 112.5h0M292.2 120.1h0M296 113.1h0M292.8 118.1h0M297.6 117.8h0M294.3 118h0M297.2 114h0M290.8 113.2h0M290.2 116.9h0M289.9 120.4h0M296.7 114.8h0M293.6 113.2h0M295.6 115.9h0M294 112.9h0M297.5 114.4h0M296.2 118h0M293.6 113.4h0M291.2 115.3h0M292.9 117.1h0M292.9 112.7h0M292.7 112.5h0M295.5 120.1h0M296.4 119.2h0M296.4 119.3h0M291.4 116.5h0M291.1 115.8h0M295.1 112.2h0M295.6 113.4h0M296 112.2h0M297 116.1h0M292.5 115.2h0M290.3 99.8h0M292.7 96.8h0M292.4 99h0M290.7 102.2h0M295.2 103.4h0M293.9 94.1h0M294.7 102.3h0M296.7 102.6h0M294.4 102.6h0M296.8 89h0M296.3 92.8h0M294 103.3h0M294.7 96h0M293.5 97.5h0M292.9 95.8h0M295.6 96.5h0M294.6 98.5h0M292.7 99.7h0M295 102.7h0M294.1 92.8h0M290.7 102.2h0M295.7 102.4h0M293.7 100.8h0M297.2 102.9h0M296.9 102.8h0M290.7 100.3h0M291.9 103.8h0M295.3 101.5h0M291.4 102h0M296.3 95.6h0M295.1 95.2h0M297.3 100.7h0M292.6 102.1h0M295.3 98.5h0M294.6 103.2h0M295.2 98h0M297.3 90.6h0M292.6 94.7h0M291.6 92.7h0M296.2 99.4h0M291 100.9h0M294.2 103h0M297.1 102.2h0M296.5 97.6h0M295.3 98.4h0M289.9 102.8h0M297.6 98.9h0M293.4 90.4h0M292.1 94.7h0M290.3 102.7h0M291 102.8h0M290.2 101.7h0M294.2 103h0M292.8 96h0M292.1 98.5h0M296.3 103.4h0M290.4 99.7h0M293.2 95.3h0M296.2 92.1h0M296.4 104.1h0M295.4 100.1h0M294 94.6h0M291.1 102.8h0M292.9 98.8h0M295.6 96.9h0M296 100.3h0M294.6 103.4h0M296.9 94.3h0M294.3 102h0M296.5 93.4h0M297 101.3h0M291.1 103.9h0M291 139.7h0M297.6 121.1h0M292.2 121.5h0M293.4 125.6h0M293.2 123.7h0M296.5 133.3h0M289.9 122.5h0M293.7 122.7h0M293.5 135h0M290.6 143.7h0M293.3 130.4h0M296.7 128.9h0M290.2 127.7h0M291.8 125.9h0M294.6 126.2h0M294.1 121.8h0M295.8 131.9h0M292.5 132.2h0M290.8 134.5h0M292.7 137.5h0M296.4 132.1h0M293.3 134.3h0M293 134.5h0M296 135.4h0M294.4 122.6h0M290.9 132h0M292.8 131.2h0M297 123.2h0M290 128h0M295.8 124.5h0M292.3 124.9h0M295.7 140h0M291.1 121.3h0M295 130.3h0M296.6 124.1h0M290.3 134.5h0M297.4 121.5h0M290.7 132h0M289.9 131.8h0M296.3 132.3h0M293.9 141.8h0M290.1 125h0M295 130.8h0M293.8 127.8h0M297.7 122.7h0M297.5 132h0M296.8 131.7h0M294 122h0M296.3 121.2h0M295.6 127.2h0M292 131.2h0M295.7 139.6h0M292.2 131.7h0M293.1 130h0M290.4 125.8h0M290.9 138.3h0M293.8 122.8h0M296.4 139.1h0M296.1 131.8h0M291.1 128.2h0M294.1 123.9h0M292.2 139.6h0M291.4 131.1h0M292.7 121h0M295.2 123.3h0M297.1 123.3h0M290.6 127h0M292.1 121.4h0M295.7 125.9h0M293.8 123.7h0M292.9 125.9h0M296.2 128.8h0M290 145h0M297.3 143h0M292 162.4h0M296.5 142.9h0M296.4 143.6h0M296.4 161.1h0M294.7 154.1h0M294.9 89.3h0M290.2 87.1h0M307.4 135.7h0M313.2 138.8h0M306.7 133.4h0M307.3 139.6h0M312.4 137.7h0M313.5 139.4h0M314.4 142.3h0M305.3 134.3h0M308.2 138.8h0M311 129.9h0M308.2 141.4h0M312.3 141.7h0M307.1 139.7h0M311 139.8h0M306.5 137.8h0M306.4 134.2h0M312.9 141.4h0M311.2 131.2h0M310.6 138.1h0M308.7 130.8h0M311.7 140.6h0M314.5 136.9h0M308.6 138.9h0M305.3 131.8h0M307.5 135.6h0M312.7 139.3h0M307.9 135.9h0M312.5 140.3h0M306.9 130.5h0M310.9 134.7h0M308.6 130.9h0M310.2 140.5h0M308.6 135.2h0M310.8 140.6h0M312.3 140.8h0M311.9 129.8h0M309.2 138.7h0M305.2 141.5h0M313.2 143.2h0M305.9 130.6h0M308.7 130.6h0M312.8 136h0M314.7 140.7h0M312.2 146.2h0M306 159.4h0M314.6 155.1h0M305.3 144.7h0M305.2 155.6h0M312.3 150.9h0M314.1 147.1h0M311.3 154.4h0M313.7 155.2h0M311.4 153.8h0M305.7 148.3h0M311.1 147.2h0M312.6 145.4h0M309.8 147h0M312 149.9h0M309.6 149.5h0M305.9 145.5h0M313.6 157.1h0M306.9 147.3h0M306.9 145.7h0M306.2 147.6h0M308.4 151.1h0M308.9 153.8h0M306.9 145.7h0M306.5 146.8h0M309.4 144.9h0M305 150.4h0M309.8 159.4h0M305.9 156.1h0M306.2 157.2h0M306.1 158.1h0M313.4 147.8h0M313.1 154.1h0M314.8 150.7h0M313 149.9h0M310 155.8h0M308.8 152.9h0M310.8 153.8h0M311.2 148.5h0M314.8 158.5h0M308.2 154.3h0M314 153.9h0M314.4 155.8h0M314.5 122.7h0M311.2 122.7h0M311.1 128.2h0M314.9 105.1h0M309 126.8h0M312.7 125.2h0M305.7 115.7h0M307.3 122.9h0M309.9 120.4h0M312.3 116h0M306.7 122.6h0M313.1 127.8h0M310.7 123.6h0M306.2 120.6h0M305.3 128.9h0M308.9 116.9h0M313.1 117.6h0M314.7 124.6h0M312.5 123.6h0M307.1 106.4h0M313.9 119.1h0M306.4 117.5h0M308.9 124h0M311.6 126.7h0M308.3 121h0M308.2 107.9h0M309.2 119.9h0M314 120.2h0M309.6 126.2h0M305.7 124.9h0M308.5 126.6h0M310.8 121.8h0M310.3 117.7h0M314.5 125.7h0M310 123.1h0M312.8 121.2h0M312.4 126h0M309.6 114.8h0M309.1 122.5h0M309.5 109.1h0M306.1 118.5h0M305.7 127.3h0M306 122.3h0M306.2 181.1h0M305.7 160.2h0M308.9 166.6h0M306.4 179.2h0M314.7 163.3h0M309 173.9h0M304.9 171.2h0M311.5 181.8h0M312.1 186.4h0M314.4 163.3h0M307.3 177.1h0M308.1 161.8h0M312.4 169.8h0M311.2 169h0M311.2 170h0M314.3 160.7h0M314.9 167.7h0M305 188.4h0M308.8 168.6h0M314.4 168.1h0M305 180h0M308.3 168.8h0M312.6 170.1h0M305.6 162.7h0M310.8 181.7h0M314.1 164.8h0M310.3 176.2h0M304.9 165.5h0M306 198.8h0M309 165.5h0M305 163.3h0M311.5 166.3h0M307.6 181h0M308.3 171.5h0M312.8 161.5h0M312.3 166.1h0M312.9 178.3h0M306.8 170.8h0M308.3 166.3h0M311.3 172.3h0M309.9 169.7h0M313 194.3h0M309 162.9h0M314 198.6h0M307.1 198.2h0M311.5 208h0M312.9 209.6h0M314.8 99.7h0M331.9 131.8h0M331.9 127.6h0M330.7 133.4h0M329.9 129.7h0M330.5 126.6h0M334.2 131.1h0M336.6 126.7h0M334.7 130.8h0M332 131.3h0M333.7 127.6h0M330.3 126.9h0M329.9 127.1h0M329.8 130.9h0M333.8 131.6h0M333.9 132.8h0M330.5 128.5h0M336.7 126.8h0M330.4 130.7h0M333.3 132.2h0M334.4 131.4h0M329.5 129.7h0M331.4 128.1h0M333.5 131.4h0M334.6 132.4h0M334.7 127.7h0M334.5 131.3h0M329.9 131.7h0M329.7 133.4h0M336.1 128.8h0M330.4 129h0M332.2 126.4h0M335.9 127.3h0M329.6 131.5h0M336.1 128.1h0M334.5 132.8h0M332.3 128.4h0M331.2 131.9h0M333.4 128.7h0M335.8 131.6h0M330.9 129.3h0M331.2 127.6h0M333.2 127.6h0M335.7 128.2h0M332.6 127h0M332.5 132.4h0M336.9 132.8h0M333.5 131.9h0M335.5 126.1h0M334.6 132.5h0M333.6 131.9h0M332.7 132.2h0M334.5 130.7h0M335.9 127.6h0M330.4 128.3h0M331.4 128.9h0M331 127.4h0M335.7 126.3h0M331.8 133.1h0M332.8 128.9h0M333.3 130.5h0M336.9 126.9h0M329.3 132.4h0M330.7 131.6h0M336.2 126.4h0M332.9 127.6h0M332.2 131.5h0M336.8 126.5h0M330.1 126.3h0M329.4 127h0M336.5 127.1h0M335.8 131.7h0M333.5 131.8h0M331.4 130.3h0M335.4 128.3h0M330.5 131.8h0M332.7 130.7h0M330.6 126.5h0M332.5 127.5h0M329.3 131.2h0M332.9 130.2h0M332.9 129h0M337.1 130h0M332.3 127.9h0M333.5 130.4h0M330.5 127.1h0M331.5 133.3h0M331.1 132.1h0M337 129.7h0M330.3 133.2h0M334.4 131h0M335.9 130.3h0M336.7 130.8h0M334.9 140.4h0M330.7 143.3h0M336.6 141.2h0M333.4 135.8h0M333.5 134h0M336.3 142.6h0M329.4 140.8h0M335 139.2h0M335.3 138.3h0M334.6 142.9h0M330.8 133.8h0M336.5 135h0M331.2 136.6h0M331.8 143.4h0M335.9 140.3h0M336.6 139.4h0M331.4 136.8h0M333.1 135h0M336 133.6h0M333.5 134.8h0M331.1 135.1h0M332.2 138.5h0M334.3 137.1h0M335 143.2h0M331.7 142.6h0M330.8 139h0M335.5 135.1h0M331.7 136.6h0M331.2 133.7h0M331.6 140h0M331.1 137.3h0M330.3 142.7h0M332.3 136.6h0M330.8 141.9h0M334.4 137.3h0M330.1 139.9h0M332.1 137h0M336.8 141.5h0M332.9 135.6h0M336.3 135h0M331.1 133.9h0M335.5 137.2h0M330 140.7h0M336.8 138h0M336.9 141.8h0M334.8 139.3h0M330.9 138.7h0M335.3 138.4h0M335.7 133.8h0M334.5 139.3h0M335.4 135.3h0M331.3 134.2h0M335.5 134.4h0M331.1 135.1h0M333.3 139.6h0M332.4 136.3h0M331 136.3h0M331.3 137.5h0M336.3 143h0M329.8 136h0M333.2 136.4h0M333.1 135.9h0M330.2 136.5h0M329.9 136.4h0M332.7 141.7h0M332.1 143.2h0M331.3 137.3h0M331.3 142.1h0M331.1 134.5h0M334.3 138.2h0M337 141.6h0M331.7 134.3h0M332.4 143.4h0M334.8 137.4h0M331.7 138.4h0M330.3 142.9h0M334.4 142.6h0M332.1 135.5h0M329.3 138h0M331.9 140.8h0M336.2 138h0M329.7 142.8h0M336.3 135.4h0M334.1 143.2h0M335.9 139.6h0M333.7 139.5h0M334.9 140.2h0M336.3 136h0M330.6 137.8h0M330.2 135.6h0M333.8 141.5h0M333.1 136.7h0M333.4 122.3h0M332.1 124.8h0M337 105.1h0M334.1 115.4h0M334.1 118.2h0M329.5 121.4h0M331.5 123.1h0M331.5 124.6h0M337.1 113.1h0M330.4 119.1h0M333.3 123.8h0M335.1 122.5h0M334.2 125.4h0M335.3 118h0M332.1 123.7h0M330.6 112.2h0M331.1 118.6h0M333.6 110.5h0M333.4 126.1h0M332.5 112.4h0M336.6 120.8h0M332.5 119.5h0M331 122.7h0M334 123.8h0M333.9 124.6h0M335.5 122.2h0M333.7 107.3h0M329.3 108.9h0M333.1 119.1h0M330.7 116.9h0M331.1 110.3h0M335.4 120.6h0M336.9 109.2h0M336.2 113.4h0M331.1 107.1h0M332.7 125.1h0M336.1 103.5h0M335.9 117.2h0M329.7 123.2h0M331.5 115.2h0M334 124.2h0M330.8 104.8h0M329.4 119.1h0M331 124.1h0M333.6 123.5h0M334.9 109.8h0M335.1 125.2h0M333.8 119.2h0M334 115.9h0M333.4 125.9h0M335.6 113.7h0M334.4 120.1h0M334.7 114.9h0M336.4 115.3h0M330.2 125h0M329.6 125.9h0M333.5 102.3h0M332.8 113h0M336.5 123.4h0M331.7 106.7h0M334.6 123.2h0M334.8 119.1h0M331.2 113h0M329.3 112.3h0M332.6 116.3h0M330.9 116.9h0M330.8 125.2h0M332.9 100.2h0M330.7 125.6h0M333.7 116.7h0M334.2 120.9h0M333 105.7h0M333.7 108.2h0M330.8 114.6h0M333.8 122.1h0M336 118.8h0M336 119.6h0M330.2 104h0M331.9 119.7h0M335 112.1h0M334 103.8h0M332.3 123.3h0M335.9 109h0M336.4 124.6h0M333.7 121.1h0M331.3 121.6h0M336.9 116h0M333.1 112.3h0M332 124.3h0M330.3 123h0M336.7 115h0M334.7 112h0M329.8 151.8h0M330.7 165.6h0M336.6 144.5h0M329.9 153h0M334.6 145.5h0M333.8 148.5h0M333.2 154.8h0M334.8 146.9h0M331.9 143.6h0M334.2 143.6h0M336.2 148.9h0M333.8 159.6h0M333.4 157.3h0M334.1 151.3h0M330.8 147.3h0M331.9 155.4h0M335 146.7h0M333.8 156.5h0M330.2 148.9h0M336.2 152.7h0M332.5 146.3h0M331.2 155.5h0M330.5 164h0M336.6 143.7h0M335.1 150.5h0M331.7 146.7h0M330.8 151.3h0M336 165.6h0M330.4 146.7h0M333.4 146.6h0M334.6 148.3h0M336.7 150.2h0M334.7 151.7h0M330.1 154.3h0M333.4 144.5h0M336.5 145.2h0M331.4 146.4h0M330 145.1h0M329.7 155h0M335.9 158.1h0M336.7 147.5h0M332.9 151.9h0M331.7 150.6h0M332.4 153.2h0M330.7 145.9h0M332.7 146.6h0M333 148.4h0M333.5 147.4h0M330.1 144.2h0M337 152.9h0M334.2 148.9h0M333.8 144.9h0M335.8 147.5h0M329.7 146.5h0M333.9 147h0M332.2 156.8h0M334.4 147.5h0M336.7 145.9h0M329.8 146h0M330.7 151.2h0M332.1 157.5h0M333.5 148.1h0M335.8 150.8h0M335.1 151.9h0M333.6 153.9h0M330.8 146.9h0M333.3 150h0M332.8 144.1h0M330.2 148.5h0M336.5 151.7h0M335.9 158.8h0M334.1 146.9h0M331.2 152.1h0M333.8 156.6h0M331.8 144.1h0M334.4 148.5h0M329.6 159.9h0M334.1 146.4h0M333.7 144.5h0M336.6 147.7h0M333.8 145.6h0M335.5 155.7h0M331 151.5h0M333.7 153.3h0M331.8 144.2h0M337.1 146.3h0M336.9 146.4h0M331.2 146.5h0M334.2 158.6h0M329.8 147.2h0M333.6 151.5h0M337.1 143.7h0M330.4 182.9h0M335.1 181h0M333.4 178.9h0M337.1 176.7h0M332.5 169.1h0M335.8 185.4h0M334 164.9h0M335.6 165.7h0M336 164.5h0M334.4 98.3h0M332.1 89.4h0M334 89.4h0M349.9 99.9h0M356.1 100.4h0M351.3 97.2h0M354.1 99.6h0M350.9 95.5h0M350.4 98.2h0M356.6 99.9h0M351.1 96.3h0M356.6 98.2h0M355.8 98.9h0M353.4 95h0M353.5 95.8h0M349.3 97.9h0M355.1 95.8h0M354.4 95.1h0M353.7 95.1h0M355.5 99.1h0M352.7 97h0M352 97.7h0M354.9 98.2h0M352.9 96.2h0M353.8 98.3h0M350.2 97h0M350.6 94.7h0M350.5 97.5h0M355.4 97.3h0M356.9 98.5h0M356.7 100.2h0M353.4 94.4h0M355.2 98h0M350 98.6h0M351.6 97.2h0M356.5 96.9h0M351.4 98.7h0M350.3 97.6h0M352.5 96.8h0M355.1 98.3h0M356.8 98h0M349.3 94.7h0M354.1 96.4h0M355.7 99.8h0M355.5 95.1h0M356.3 97.4h0M354.1 98.2h0M355.7 94.9h0M352.2 95.4h0M353.7 96.2h0M353.4 97.9h0M352.5 94.9h0M352.6 99h0M354.6 98.5h0M350.2 99.2h0M355.6 95.6h0M354.6 97.6h0M350.6 99.6h0M351.8 96.9h0M355.7 97.8h0M352.4 96.7h0M355.7 98.8h0M352.2 98.1h0M356.9 98.9h0M352.1 100.3h0M356.8 99.1h0M352.1 97.8h0M352.3 95.7h0M350.4 97.4h0M355.2 100.2h0M349.6 100.4h0M355.2 94.9h0M353 98.4h0M355.8 94.2h0M353.9 94.8h0M356.5 96.5h0M353.1 94.7h0M350.8 98.3h0M356.3 97.3h0M356.1 96.6h0M355.7 99.5h0M353.8 96.4h0M351.1 95.7h0M349.2 95.9h0M355.4 94.2h0M354.2 98.7h0M352.5 98.2h0M353.1 96.8h0M355.3 99.3h0M350.8 96.2h0M349.2 95.5h0M349.8 94.3h0M356.8 95.2h0M350.7 97h0M356.8 96.2h0M349.2 96.9h0M354.3 94.4h0M353.2 94.3h0M352.9 98.4h0M349 96.8h0M353.5 99.1h0M353.9 99.5h0M355.6 96.4h0M355.6 97h0M355.4 99h0M349.5 95h0M356 99.3h0M353.2 96.4h0M355.9 95.7h0M356.2 97.1h0M349.7 98.2h0M352.3 99.5h0M353 99.4h0M353.8 94.3h0M356.4 95.1h0M349.3 96.3h0M353.8 94.5h0M352.9 97h0M350.1 97h0M354.4 97.5h0M354.8 96.3h0M349.9 95.6h0M349.8 97.9h0M352.9 94.5h0M356.6 94.4h0M355.6 98.9h0M354.3 95.3h0M352.2 95.1h0M356.5 95.7h0M352.8 97.8h0M350.1 95.6h0M353.8 104.1h0M349.8 104h0M355.9 102.7h0M353 105.6h0M354.9 104.7h0M355.8 101.3h0M355.3 101.8h0M355.3 101.1h0M355.2 104.4h0M352.1 101.6h0M349.2 103h0M351 101h0M354.2 105.3h0M351.5 104.6h0M356.8 104.2h0M351.5 104.3h0M354.6 102.5h0M350 101.5h0M352.6 100.6h0M355.4 102.8h0M356.2 105.5h0M349.6 100.7h0M355.4 101.6h0M356.7 103.4h0M349.2 100.9h0M355.5 102.1h0M349.4 104.6h0M354.4 101.7h0M356.8 102.2h0M349.7 102.1h0M354.9 101.6h0M349.9 104.9h0M353.6 105.7h0M351.8 103.7h0M353.4 101.9h0M355 101.8h0M350.5 104.3h0M351.4 104.5h0M349.9 105h0M352.2 101.2h0M349.7 101.6h0M349.2 102.4h0M354.8 102.9h0M354.6 105h0M349.2 101h0M354.2 102.1h0M354.4 101.1h0M351.7 104.9h0M351.3 104.4h0M350.8 104.9h0M353.8 102.2h0M350.1 103.4h0M353.4 105.4h0M352.2 100.6h0M353.1 104.9h0M355 104.7h0M350.8 102.9h0M351.5 104.8h0M352.8 104.7h0M351.6 101.5h0M354.4 105.8h0M350.1 105.7h0M356.3 101.9h0M356.5 105.8h0M350 103.5h0M352.9 103.3h0M351.8 104.8h0M351.7 105.5h0M350.6 101.9h0M353.3 101.2h0M355.4 105.1h0M350.9 102.9h0M355.2 103.5h0M354.9 103.1h0M354 105.3h0M356 103.6h0M353.8 104.4h0M355.3 104.7h0M356.6 100.5h0M355.8 103.6h0M353.6 103.8h0M351.3 101.1h0M353.8 101.4h0M354.7 100.9h0M354.7 102.8h0M352.2 104.8h0M355 101.8h0M351.6 105.3h0M350 100.9h0M356.6 102.4h0M356.3 101.8h0M352.4 105.8h0M353.4 101.4h0M349.1 105.2h0M356.6 103.4h0M351.8 102h0M353.9 102.8h0M350.1 101.2h0M350.1 103.8h0M353.7 104.2h0M354.3 102.9h0M356.8 104.9h0M354.6 104.7h0M353.9 104.2h0M353.8 104.6h0M351.2 102.9h0M351.9 101.4h0M354 103.4h0M350.1 103h0M351.4 101.3h0M350.3 104.3h0M349.3 102.9h0M352.6 104.2h0M352 101.6h0M353.4 101.8h0M352.2 101h0M349.6 105.5h0M355.8 104.3h0M349.3 102.2h0M349.2 100.8h0M349.2 102.4h0M355.3 104.8h0M351.9 105.4h0M356.5 101.4h0M351.5 105.6h0M352.3 101.6h0M354.6 100.7h0M356.5 101.2h0M356.2 93.6h0M352 90.6h0M354.4 93.8h0M349.5 86.4h0M353.5 89.7h0M354.1 87.9h0M351.2 83.4h0M354.2 93.5h0M351.4 87.4h0M355.1 86.9h0M349.6 88.1h0M353.1 89.1h0M356.5 92.4h0M354 88.4h0M356.5 93.6h0M356.5 91.7h0M355.1 90.9h0M355.4 90.7h0M354.8 93.4h0M353.1 88.3h0M355.3 91.6h0M355.3 87.5h0M355.8 92.7h0M349.1 93.5h0M349.3 85.7h0M352.7 86.1h0M354.7 90.3h0M352.3 88.7h0M352 92.8h0M349.2 80.7h0M353.8 85.5h0M356.6 80.7h0M353.9 91.9h0M351 91.8h0M354.1 88.2h0M351.9 93h0M351.9 92.3h0M349.5 88.6h0M354.7 88.8h0M349 93.3h0M355.7 89.5h0M349.1 92.9h0M355.2 84.1h0M351.8 91.3h0M351.8 87.5h0M352.9 86.9h0M350.5 88.6h0M350.7 92.4h0M354.7 92.7h0M356.2 84.5h0M350.1 84.2h0M351.2 88.4h0M356.8 90.6h0M354.5 83.9h0M356.3 92.1h0M352.1 82.9h0M355.1 89.4h0M354.6 87.6h0M354.9 88.8h0M352.8 92.8h0M351.3 85.7h0M351.9 83h0M350.2 90.9h0M349.6 82.2h0M352 83.7h0M355.8 91.4h0M351.6 93.3h0M353.5 92.3h0M355.5 90.6h0M349.8 82.8h0M351.9 92h0M351.9 83.9h0M354.7 93.2h0M356.2 86.7h0M349.1 89.6h0M353.3 92.3h0M349 93.1h0M351.4 88.1h0M352.2 93.9h0M351.2 89.5h0M352.3 91.1h0M351.9 92.7h0M353 91.9h0M351 92.6h0M352.1 89.9h0M350.8 93.3h0M352.3 94h0M354.6 90.9h0M349.3 93.3h0M356.9 84.1h0M350.2 80.7h0M355.3 90.2h0M351.3 93.6h0M349.6 91.4h0M355.3 91.3h0M353.5 91.9h0M351.1 91.2h0M352 91.6h0M355.9 86.3h0M354.6 88.8h0M351.2 87.4h0M350.9 84h0M353.5 86.5h0M350 88h0M350.8 93.1h0M355.4 86.1h0M354.8 84.5h0M349.2 85.3h0M352.6 93.5h0M352.2 92.3h0M354.9 86h0M352.4 83.9h0M350.8 88.6h0M355.7 90h0M350.5 93.8h0M354.1 90h0M351.3 93.4h0M353.9 93.8h0M350.4 90.7h0M356 93.3h0M351.9 92.9h0M354.4 88.9h0M355 90.6h0M352.7 91.6h0M353.3 92.6h0M350 89.8h0M353.3 90.5h0M353.2 91.1h0M356.1 106.2h0M351.8 111.5h0M350.2 112.2h0M352.2 122.9h0M355.2 112h0M349.1 117.1h0M349.3 111.7h0M356.9 112.8h0M353.4 115.1h0M354.7 114.5h0M352.7 111.9h0M350.6 111.9h0M354.3 116.3h0M350.9 111.1h0M352.6 109.5h0M350.7 113.5h0M356.2 110.5h0M352.1 108.6h0M354.5 114.5h0M350.5 114.5h0M353.8 113h0M351.4 109.5h0M350 108.4h0M351.5 106.1h0M349.5 107.2h0M353.8 111.8h0M353.4 106.3h0M355.8 108.7h0M349.2 116.8h0M352.2 108.3h0M356.8 118.9h0M351.8 118.4h0M349.5 115.7h0M355.4 110.9h0M349.8 113.7h0M354.7 120h0M353.2 112.5h0M356 117.5h0M353.1 107.7h0M354.4 122.9h0M351.1 112h0M356.8 115h0M350.7 106.3h0M355.6 108.5h0M354.4 112.8h0M352.8 108.2h0M352 107.8h0M349.7 107.3h0M355.3 107.5h0M350.8 122.9h0M355.9 109.4h0M356 111.4h0M350.7 107.6h0M351.3 116.7h0M354.6 108.2h0M355.1 107.6h0M349.4 113.1h0M355.6 110.5h0M355.5 111.9h0M353.9 108.6h0M356.1 107h0M356.7 121.5h0M350.6 108.5h0M356.5 110.3h0M355.8 110.8h0M353.7 109.6h0M349.9 107.1h0M356.6 122.2h0M354.9 107.9h0M351.9 106.4h0M351.6 115.4h0M356.5 115.4h0M350.8 107.9h0M355.5 107.6h0M352.5 115.6h0M354.5 117.8h0M355.5 110.3h0M349.8 117.1h0M351.1 109.2h0M349.9 111.9h0M352.2 110.8h0M350.1 117.7h0M356.3 109.1h0M355.3 113.8h0M353.6 106.9h0M350.5 107h0M350.7 109.3h0M353.7 106.2h0M356.2 113.1h0M356.4 117.8h0M356.4 110h0M351.6 110.8h0M354.5 108h0M353.1 113.8h0M353.4 114.8h0M354.4 108.5h0M351.3 106.7h0M351.1 108.2h0M352.3 107.4h0M350.9 113.7h0M355.8 118.3h0M351.9 112.1h0M349.3 107.6h0M354 112.5h0M356.8 114.8h0M353.4 107.7h0M351.3 109.9h0M356.2 108.6h0M354 110.3h0M353.9 108.1h0M352.7 122.9h0M355.1 108.8h0M354.3 109.4h0M353.3 109h0M351.7 108.7h0M355.2 112.3h0M356.2 106.9h0M349.7 109.2h0M349.2 106.3h0M349.8 111.6h0M355.9 114.2h0M353.9 110.1h0M352.2 112.7h0M356.7 115.9h0M356.5 107.6h0M352.4 111.7h0M351.9 106.3h0M353.2 114.7h0M353.7 122.3h0M355.7 123.9h0M356 140.6h0M351.3 134.9h0M355.8 138.8h0M349.6 130.2h0M350.7 129h0M352.3 122.5h0M349.6 146.4h0M351.8 127.3h0M349.2 123.5h0M355.4 138.4h0M354.4 133.9h0M351.1 80.8h0M353.2 72.7h0M352.1 71.3h0M355.5 79.4h0M376.6 82.5h0M373.1 83.9h0M375.8 83.1h0M369.1 80.3h0M368.9 81h0M371.5 81.7h0M375.4 84.6h0M372.5 79.6h0M373.6 83.5h0M371.6 79.1h0M371.5 83.9h0M371.4 79.1h0M371 80.9h0M369 80.8h0M374.1 82.7h0M371.2 80.5h0M376 83.6h0M373.4 84.8h0M370 83.1h0M371.1 78.5h0M370.2 79h0M374.7 83.6h0M370.8 81.1h0M373.2 81.7h0M372.2 83.9h0M371.7 83h0M375.6 81.8h0M372.8 80.4h0M371.2 78.9h0M370.1 79.1h0M371.1 78.7h0M370.3 81h0M374 84.6h0M374.6 79.1h0M373.5 81.7h0M374.4 82.4h0M374.7 84.5h0M373.3 84.9h0M370.2 82.7h0M373.8 82.2h0M368.9 83h0M372.5 81.2h0M370 83.5h0M374.3 83.8h0M374 79.8h0M371.4 81.8h0M373.4 80.4h0M374.4 79.2h0M372.8 81.1h0M370.8 82.3h0M369.6 81.8h0M375.7 80.9h0M369.4 82h0M370.3 81.7h0M374.9 78.6h0M369.1 82.9h0M369.9 83.5h0M371.7 81.4h0M369.9 82.6h0M369.1 80h0M374.9 83.1h0M370.1 81.4h0M376 82.6h0M369.1 82.8h0M370.9 81.2h0M373.3 79.6h0M369.5 84.5h0M372.5 83.8h0M372.6 80.9h0M373.5 80.9h0M376.1 83.9h0M372 83.3h0M375.9 80.2h0M370.5 83.7h0M373.9 80.6h0M372.1 83.9h0M374.9 79.1h0M372.9 84.6h0M375.5 80.8h0M370 84.4h0M370.8 80h0M373.1 80.8h0M373.8 80h0M371.8 82.2h0M375.1 80h0M371.7 82.8h0M376.1 82.8h0M376.1 83.4h0M369.1 81.3h0M373.8 81.2h0M375.6 80h0M369.2 81.6h0M374.6 81.8h0M373.4 80.2h0M372.8 82h0M370.9 79.5h0M374.6 81.1h0M370.5 80.5h0M370.2 81.9h0M371.5 83.4h0M376.6 78.6h0M372 81.3h0M369.9 79.1h0M371.9 80.7h0M374.8 83.2h0M373.7 82.5h0M374.4 83.1h0M375.3 83.7h0M371.1 80.6h0M371.5 80.8h0M375.5 79.6h0M371.8 80.5h0M372.8 82.4h0M375.3 82.8h0M373.7 83h0M376 81.9h0M368.9 78.7h0M373.7 82.6h0M372.8 83.9h0M372 84.1h0M371.1 78.5h0M371.7 80.9h0M375.2 81.6h0M372.5 82.5h0M370.5 83.6h0M374.2 85.1h0M375.2 90.6h0M372 87.6h0M369.8 91h0M374.6 89.9h0M374.2 87.4h0M374.2 90.9h0M368.9 87.8h0M369.7 85.6h0M376.4 86.2h0M373.1 88.3h0M370.8 89.7h0M369.1 86.9h0M372.5 90.8h0M371.3 86.5h0M370 91.1h0M373.8 89h0M370.2 89.5h0M376.3 87.3h0M370.6 88.3h0M375.8 87.1h0M371.6 88.1h0M371.1 90.2h0M374.8 89.7h0M372.8 90.1h0M369.9 87.5h0M375.4 86.8h0M373.1 88.6h0M373.3 90.9h0M371.7 89.3h0M375.3 86.4h0M373.6 89.9h0M369.3 90.5h0M375.8 89.5h0M373.2 89.5h0M370.9 89.2h0M369.1 88.5h0M369.1 87.4h0M369.7 89.4h0M370.8 87.6h0M372.9 86h0M370.5 90.5h0M375 90.7h0M372.9 85.7h0M372.1 90h0M372.1 88.8h0M370.7 87h0M373 87h0M370.6 85.8h0M371.3 87.7h0M372.8 86.2h0M373.8 89.1h0M371.3 90.9h0M374.5 86.8h0M371.6 86.5h0M376 88.2h0M369.9 85.6h0M373.3 85.8h0M371.6 86h0M372.4 90.1h0M369.7 88.1h0M371.4 89.9h0M370.2 90.1h0M374.1 86.8h0M374.9 86h0M375 85.3h0M376 89.5h0M371.8 88.3h0M373.8 90.3h0M376.3 89h0M372.7 86h0M372.9 88h0M373.9 87.5h0M369 85.7h0M375.5 85.8h0M372 89.3h0M374.7 89.1h0M369.8 87.5h0M372.6 85.7h0M373.3 86.5h0M374.9 87.7h0M373.5 89.6h0M373.7 87.5h0M376.1 89.7h0M370.9 87.2h0M372.3 88.7h0M375.7 89.6h0M372.4 87.5h0M373.4 87.9h0M372.8 85.2h0M376.5 85.6h0M374.1 89.2h0M374.9 85.5h0M369 86.1h0M371.9 88h0M374.7 90.7h0M370.1 91.2h0M374.9 89.8h0M376 87.2h0M374.8 86h0M374.5 87.5h0M370.9 85.3h0M369.7 86.7h0M376.2 89.4h0M372.1 88.8h0M375.9 90.8h0M374 86.9h0M376.1 87.5h0M369 89.5h0M375.1 86.5h0M374.6 86.4h0M373.2 91.1h0M370 87.1h0M370.4 90.4h0M376.1 87.4h0M371.8 90.6h0M374.7 90.1h0M376.5 86.7h0M370.6 85.2h0M369.3 89.1h0M369 87h0M372.2 87h0M375.3 89.4h0M375.1 87.5h0M373.4 86.6h0M368.8 59.9h0M370.7 76.7h0M369.9 70.3h0M370 71.8h0M369.8 62h0M369 77.4h0M372.7 73.3h0M371.5 77h0M371.5 71.8h0M370.9 70.7h0M375 72.4h0M371 67.2h0M370 76.1h0M371 77.3h0M370.7 78.2h0M371.5 74.1h0M371.8 78.2h0M370.6 78.2h0M373.7 73.3h0M370 71.3h0M376 65.8h0M375.7 76.5h0M372.7 67.7h0M374.5 70.6h0M370.4 76.5h0M371.1 77h0M375.9 69.8h0M372.5 73.7h0M374.6 76.8h0M375.2 74.4h0M374.3 70.3h0M372.3 75.3h0M371.8 63.9h0M369.2 75h0M375.6 70.3h0M374.2 72.4h0M369.2 77.4h0M375.4 76.9h0M371 73.5h0M375.5 75.6h0M369.9 65h0M368.9 72h0M375.6 66.8h0M375.8 72.6h0M372.7 75.2h0M376 73h0M369.5 77.6h0M369.9 73.4h0M376.4 76.4h0M376.2 73.7h0M374.3 65.1h0M371.4 69.4h0M374.4 66.5h0M368.8 73.7h0M371.6 78.1h0M375.5 73h0M370.6 78h0M369.8 68h0M372.6 71.8h0M374.1 76.9h0M371.2 69h0M375.2 75.9h0M375.9 70.5h0M370.5 71.8h0M371.8 71.4h0M375.4 74.6h0M372.7 70.3h0M374.7 76.7h0M371.2 68.9h0M375.2 75.5h0M375.4 75.9h0M374.9 74.6h0M375.7 72.9h0M371.8 69.9h0M372.8 72.6h0M375.1 78.1h0M374.5 70.4h0M373 71.8h0M369 72.7h0M370.5 69.3h0M372.3 72.4h0M374.7 71.3h0M375.9 73.5h0M376.6 70h0M371.8 70.5h0M376.4 74.6h0M371.8 62.8h0M370.2 78.1h0M376.1 76.5h0M369.6 60.1h0M372.5 73.3h0M374.9 73.8h0M373.7 74.8h0M375.5 65.4h0M373 69.3h0M372.3 66.9h0M371.4 63.6h0M373.7 59.9h0M373.2 73.6h0M372.8 75.5h0M374.1 59.9h0M372.8 73h0M374.2 78h0M372.7 67.2h0M374.9 72.2h0M370.4 76.6h0M371.6 78.2h0M371.2 75.3h0M375.7 75.6h0M373.4 71.2h0M376.2 70.6h0M373.2 68.2h0M376.2 69.5h0M374.6 72.9h0M375.8 76.6h0M371.1 69.4h0M376.6 77.3h0M371.1 73.6h0M374.7 72h0M373.7 73.5h0M371.6 74.6h0M369.6 71.4h0M369.1 72.8h0M368.8 72.2h0M373.1 75.3h0M373.2 92.4h0M369.6 98.5h0M369.1 91.4h0M368.9 101.9h0M373.3 93.9h0M374.7 95.7h0M375.9 97.9h0M372.5 98.1h0M374.6 96.9h0M370.6 94.3h0M369.1 94.4h0M373.3 91.3h0M371.3 99.2h0M371.9 94.8h0M369.7 106.5h0M374.2 94h0M375.7 105.5h0M374.6 100.3h0M369.8 110.6h0M370.9 91.8h0M370.3 91.4h0M376.6 102.3h0M371.8 94.8h0M369.9 94.4h0M375.2 93.8h0M370.4 94.8h0M369.4 102h0M371.7 93.9h0M369 93.1h0M372.4 91.6h0M372.2 93.3h0M371.2 92.1h0M373.2 100.5h0M375 95.8h0M371.5 92h0M370.9 92.5h0M373.8 100.3h0M372.1 98.3h0M370.8 102.2h0M376.2 91.6h0M370.4 93.1h0M371.9 108.2h0M371.1 91.7h0M375.2 105.6h0M374 98.8h0M376 93.9h0M370.9 101.7h0M375.3 97.1h0M374 96.1h0M369.6 96.1h0M370.7 104.4h0M375.4 101.6h0M372.2 92.8h0M370 92.2h0M369.8 95.2h0M371.1 94h0M373.9 92.8h0M369.8 96.2h0M370 92.6h0M375.5 110.6h0M370.8 98h0M374.1 95.5h0M375.3 92.2h0M374.7 104.9h0M373.7 101.6h0M372.3 110.6h0M374.3 104.1h0M371.6 95.4h0M374.8 103.6h0M374.3 93.6h0M369.7 97.1h0M368.8 100.2h0M374 96.5h0M372.5 109.2h0M373.6 103.3h0M374 91.8h0M372.5 94.7h0M369.8 98h0M373.3 93.1h0M371 93h0M372.7 98.4h0M369 101.2h0M376.4 107.7h0M370.2 92.7h0M376.6 98.6h0M375 93.8h0M371.8 104.1h0M373.2 105.1h0M370.5 95.3h0M368.9 93.6h0M372.7 99.2h0M369.3 93.2h0M370.2 99.9h0M369.3 98.2h0M373.1 92.1h0M374 96.6h0M376.4 100.8h0M370.7 92.3h0M375.4 99.6h0M373.4 97.6h0M368.9 92.2h0M371.6 107.5h0M376.5 96.7h0M374.5 91.4h0M374.1 101.4h0M374.3 98.3h0M376.3 91.4h0M373 104h0M369.8 97.1h0M369.2 106.5h0M373.2 97.9h0M370.2 92.9h0M376.2 99h0M376.5 103.3h0M373.2 97.1h0M373.6 101.1h0M369.8 97.1h0M375.2 93.5h0M372.1 96.3h0M374.7 100.1h0M372.1 99.9h0M375.1 110.6h0M369.7 94.4h0M376.5 91.8h0M374.2 96.1h0M371.5 117.4h0M372 122.2h0M370.5 110.6h0M372.8 134.8h0M375.8 111.2h0M372.5 137.7h0M371.4 117.2h0M372.4 113.4h0M372 119.7h0M372.1 114.6h0M372.8 116.5h0M374.4 114.4h0M374.4 130.3h0M369 58.8h0M376.2 59.6h0M371.5 51.7h0M372.2 53.8h0M392 99.7h0M387.8 102h0M384.5 96.8h0M390.1 101.7h0M385.6 100.7h0M386 99.8h0M391.4 99h0M384.5 99.8h0M393.4 100.8h0M386.3 99.3h0M389.9 102.2h0M385 100h0M393.9 99.3h0M393.4 102h0M390.4 96.8h0M386.5 102h0M387.5 99.5h0M389.7 97.4h0M386.6 100.8h0M389.7 98.1h0M392.9 99.5h0M385.3 105.2h0M386.6 107.4h0M393.5 105.9h0M392.5 104.8h0M384.2 105.8h0M384.8 105.8h0M390.3 103.3h0M392.2 104.5h0M393.7 103.5h0M385.1 103.2h0M388.6 104.2h0M389 102.8h0M392.4 103.5h0M388.7 103.5h0M384.2 105.3h0M384.6 104.7h0M388.8 103.1h0M385.2 107.5h0M389 106.3h0M389.7 106h0M388.9 105.8h0M389.6 86.4h0M384 93.6h0M390.8 89.8h0M384.2 87.7h0M388.9 90.2h0M385.3 92h0M387.9 90.2h0M392 93.8h0M392.3 96.4h0M392.7 90.3h0M390.8 95h0M389.2 90.6h0M391.9 91.6h0M384.5 87.4h0M384.1 91.4h0M392.7 96.4h0M391.1 88.5h0M388.1 93.4h0M386.4 88h0M393.6 95.6h0M386 86.8h0M386.4 115h0M393.3 108.5h0M391.5 110.9h0M392.4 108.9h0M393.3 113.7h0M393.5 114.8h0M387.8 112h0M386.3 113.7h0M389.5 107.8h0M387.7 108h0M387.2 116.3h0M389.6 114.4h0M392.8 112.6h0M389.3 108.7h0M387.2 118.3h0M385.7 107.6h0M392.2 109.9h0M390.2 118.5h0M386 117.3h0M392 120.1h0M384.6 110.6h0M384.7 129.2h0M386.8 124.6h0M391.7 85.5h0M404.4 91h0M408.7 91.9h0M407.7 93h0M407.5 93.4h0M407.9 92.7h0M409.6 90.6h0M412.9 91.1h0M404.1 88.3h0M405 88.7h0M410.5 90.6h0M409 90h0M410.8 91h0M412.1 88.3h0M411.8 93.2h0M406.8 90.8h0M405.7 89.1h0M409.8 91.6h0M404.1 91.3h0M409.5 92h0M409.8 93.4h0M408.4 90.6h0M412.1 88.3h0M404.2 89.3h0M403.7 90.4h0M412.9 89.6h0M412 90.8h0M403.9 91.6h0M410.8 91h0M409.5 88.6h0M405 88.4h0M407.7 88.4h0M409.6 91.9h0M409.7 90.4h0M405.6 91.2h0M403.7 90.4h0M404.2 91.9h0M406 93.5h0M406.7 91.5h0M405.6 89.4h0M407 92.1h0M404.6 89.4h0M407.5 91.9h0M406.9 91.3h0M406.6 88.4h0M407.4 89.3h0M412.2 89.5h0M411.5 90.3h0M404.8 92.9h0M404.5 92h0M409.2 90.8h0M404.4 90.4h0M411.7 88.5h0M407.3 89.4h0M413.4 92.9h0M407.2 90.3h0M409 89.7h0M404.2 93.2h0M405.3 89.5h0M405.4 92.5h0M413 90.3h0M413.6 90.2h0M410 90h0M409.9 89.7h0M411.2 89.7h0M408 89.8h0M413 90.7h0M405.9 90.6h0M412.7 88.4h0M403.7 90.4h0M409.5 92.6h0M409.7 92.2h0M411.2 89h0M405.4 89.4h0M407 91.6h0M412.8 91.6h0M405.5 88.6h0M406.5 89.9h0M409.4 91h0M413.5 91.8h0M406.9 91.2h0M405.3 91.6h0M404.8 92.9h0M413.5 92.9h0M406.1 89.3h0M411 92.8h0M404.3 89.4h0M407.9 88.3h0M409.4 92.4h0M410.9 93h0M409.9 88.8h0M407.8 92.2h0M405.2 88.7h0M407.7 93.1h0M408.2 90.7h0M406.7 90.8h0M405 93h0M412.5 89.9h0M405.5 91.1h0M407.3 88.8h0M408.2 89.2h0M405.2 91.1h0M411.4 92.8h0M405.2 90.2h0M411.9 88.3h0M403.8 89.5h0M403.8 96.5h0M408.8 93.9h0M408.9 94.4h0M408.2 94.8h0M412.8 98.6h0M411.1 96.1h0M411.9 94.3h0M411.4 96.7h0M411.8 97h0M411.7 97.2h0M412.5 97.9h0M411.2 96.9h0M405.4 93.8h0M408.7 97.1h0M410.6 97.1h0M408.7 96.5h0M408.7 94.4h0M406.8 94.7h0M405.3 97.3h0M412.6 98.1h0M407.2 93.9h0M403.8 98.1h0M407.2 96.2h0M413.6 97.3h0M403.7 98.2h0M413.5 94h0M405.5 97.9h0M403.9 98h0M413.6 96.3h0M406.2 95h0M413.3 96.9h0M406.1 97h0M407.1 95.9h0M413.4 96.7h0M406.1 97.9h0M411.8 98.3h0M412 99.2h0M407.6 99.3h0M404.8 93.6h0M411.7 98.9h0M405.1 98.8h0M407.3 99.5h0M405.6 98.3h0M412.6 99.2h0M406.4 99.4h0M409.1 94.3h0M410.3 94.2h0M406.2 96.9h0M409.3 99h0M410.8 96.7h0M413.5 96.5h0M407.9 98.6h0M407 97h0M407.1 98.4h0M409.2 97.1h0M406.7 96.6h0M407.7 96.5h0M410 98.3h0M411 94.2h0M410.8 95.5h0M410.2 94.1h0M405 97.5h0M410.3 95.9h0M405.7 98.9h0M412.1 95.5h0M412.6 99h0M406.3 95.4h0M413.2 99.2h0M409.9 98.9h0M410.9 95.2h0M410.9 96.7h0M410.3 93.9h0M404.9 97.2h0M409.5 97.6h0M413.4 96.3h0M411.9 96.1h0M408.1 96.5h0M413.4 98.2h0M412.6 94.7h0M408 98.5h0M412.1 97.8h0M406.2 95.9h0M405 99.3h0M408.6 97h0M411.7 96.6h0M410.6 96.7h0M406.7 95.6h0M408.5 96.7h0M411.3 94.1h0M410.9 97.1h0M413.1 95.5h0M405 97.5h0M411 97.1h0M410.3 99.5h0M406.4 97.9h0M413.2 93.5h0M408.5 94.2h0M410 96.5h0M413.6 96.7h0M409 96.4h0M410.2 97.9h0M409.4 99.1h0M412 93.9h0M410.3 97.3h0M405 95.2h0M404.1 87.2h0M412.6 83.8h0M411.1 82.2h0M404.8 80.6h0M412.3 88.1h0M410.2 82.8h0M409.7 82h0M411.1 73.6h0M412.9 84.2h0M406.6 84.4h0M404.1 79.6h0M410.4 86.6h0M406.7 77.8h0M410.8 81.9h0M410.4 80.2h0M410.3 86.2h0M411.7 85.5h0M405.1 84.3h0M405.4 87.9h0M408.8 86.8h0M405.2 77.4h0M408.6 84.2h0M406.2 81.1h0M413.5 78h0M412 87.5h0M411.5 84.7h0M412.3 78.6h0M406 87.1h0M408.9 80.1h0M409.7 87.5h0M404 83.3h0M406 77.2h0M411.8 84.9h0M406.1 84.4h0M412.7 86h0M408.3 80.2h0M408.6 86.4h0M404.8 86.4h0M412.1 81.4h0M407.7 86.1h0M405.8 86.1h0M405.2 71h0M405.2 82.2h0M411.4 88.3h0M407.2 86.9h0M409.5 85.8h0M407 88.1h0M412.9 86.5h0M408.7 79.1h0M408.2 87.4h0M413.1 87.4h0M411.7 88h0M413.4 77.9h0M411.3 87.4h0M405.8 79.3h0M408.2 85.8h0M411.5 78.9h0M405.9 82.1h0M408 86h0M404.8 84.5h0M408 84.4h0M409.1 85.8h0M405.3 83.7h0M409.6 84.6h0M405 71h0M408.5 82.4h0M410.5 82.8h0M410.9 84.5h0M407.9 79.7h0M405.3 78.8h0M413.4 79h0M409 84h0M408.4 81.4h0M403.9 87.2h0M411.2 87h0M411.5 88.1h0M410.8 82.9h0M408.1 81.8h0M408.2 77.7h0M411.8 81.3h0M412.9 86.4h0M409.5 81.6h0M410 86.9h0M412 81.3h0M407 85.3h0M405.3 82.4h0M411.1 81.3h0M409.7 86.5h0M407 85.6h0M412 83.7h0M411.1 84.3h0M403.9 83.6h0M408.6 81.2h0M410.6 81.7h0M412.7 77.8h0M410.7 81.9h0M405.9 84.1h0M405.1 81.4h0M413.3 82.3h0M412.2 81.9h0M407.8 85.6h0M407.7 80.2h0M411.3 79.3h0M410 82.8h0M406.2 81.2h0M408.4 102h0M413.4 103.2h0M408.1 101.8h0M403.7 101h0M404.6 101.3h0M405.1 104.6h0M410.1 99.7h0M407.2 105h0M410.2 104.8h0M406.4 104.7h0M411.5 104.9h0M408.6 103.4h0M413 100.4h0M411.3 106.5h0M408.4 109.9h0M413.3 104.3h0M406.8 108.6h0M408.3 102.3h0M407.1 100.3h0M403.9 101.1h0M406.7 101.7h0M404.3 101.5h0M404.7 109.7h0M404.7 101.3h0M407.3 99.7h0M409.1 104.5h0M409.2 104.6h0M410 106.9h0M405.4 103.5h0M406.5 99.6h0M404.8 100.4h0M412.7 112.9h0M405.1 108.6h0M409.9 106.1h0M408.5 101.4h0M404.3 110.9h0M411.9 110.8h0M408.6 107.2h0M409.2 101.5h0M411.1 114.8h0M406.6 104.3h0M407.4 102.1h0M405 100.8h0M412.4 100.9h0M407.4 101.1h0M412.1 99.5h0M412.1 104.4h0M407.6 104.4h0M409.6 102.7h0M405.9 103.8h0M408.4 102.9h0M406.7 101.6h0M412.9 104.2h0M410.3 100.5h0M412.6 104h0M406 104.7h0M405.6 106.9h0M403.6 110.7h0M409.5 103.1h0M406.5 104h0M406.3 103.1h0M408.1 106.4h0M409.3 105.3h0M411.1 107.5h0M412.5 102.9h0M405.5 102.5h0M408.5 104h0M412.8 103.2h0M406.7 104.3h0M409.1 103.9h0M408 111.8h0M411.1 102.1h0M410.9 104h0M407.6 110.1h0M406.2 101.8h0M409.9 114.2h0M413 101.5h0M407.6 109h0M408.6 114.8h0M406 102.5h0M412.5 105.1h0M404.1 102h0M407.4 105.1h0M404.4 103.6h0M408 99.5h0M409.6 104.3h0M404.6 107.6h0M410.3 102.1h0M406.2 106.8h0M405.7 107h0M406.9 102.2h0M412.9 101.7h0M412.4 111.9h0M406.6 106.5h0M403.9 99.6h0M404.5 113.6h0M408.1 110.5h0M403.8 100.9h0M410.5 100.4h0M409.6 105.7h0M407.7 108h0M405.1 104.6h0M413.2 101h0M407.3 101.9h0M406 100.5h0M413.5 116.7h0M411.1 116.4h0M409 119.4h0M407.1 114.3h0M411.7 115.6h0M410.6 117h0M412.5 129.9h0M413.4 142.1h0M409.4 126.9h0M411.9 126.6h0M412.7 70h0M405.6 70.5h0M409.9 64.5h0M428.6 106h0M428.5 102.4h0M429.6 102.1h0M431.6 102.3h0M435.2 102.6h0M434 103.1h0M430.4 102.7h0M434.2 102.1h0M434.4 103.3h0M435.3 104.9h0M433.5 105.6h0M432.8 104.3h0M433.3 106.4h0M428.5 102.2h0M432.7 106.2h0M428.3 102.2h0M433 104.9h0M433.2 103h0M430.9 105.4h0M429.3 105.6h0M432 105.9h0M429.2 103.4h0M431 102.8h0M433.5 105.6h0M428.2 105.3h0M435.4 104.2h0M435 104.1h0M430.9 104.4h0M434.5 106.6h0M434.4 102.6h0M433.6 104.9h0M431.3 106.1h0M430.8 102.5h0M429.6 105.6h0M434.3 105.9h0M433.3 103.2h0M435.6 103.6h0M432.9 104.1h0M428 106.7h0M429.5 106.4h0M428.3 106.5h0M430.3 103.8h0M432.5 106.2h0M432.3 104.4h0M432.8 109.3h0M430.9 109.6h0M435.2 109.9h0M431.4 108.2h0M429.8 108.4h0M431.2 107.3h0M431 110.5h0M429.4 108.7h0M432.5 110.8h0M432.1 107.9h0M428.1 109.4h0M430.3 111h0M428.9 109.7h0M430.6 110.6h0M429.3 110.7h0M428.5 109h0M430.9 107.6h0M428.3 109.4h0M428.5 109.5h0M433.7 108.2h0M429.7 107.6h0M434 108.3h0M431.2 110.1h0M432.5 108.1h0M434.6 110.1h0M428.8 108.3h0M428.1 110.2h0M430.8 109.4h0M435.5 110.7h0M430.8 107.8h0M431.2 110h0M432.8 108.7h0M428 107.7h0M432.6 107.5h0M433.2 107.8h0M435.2 109.7h0M433.1 110.4h0M433.2 108.1h0M428.7 108.2h0M431.5 107.3h0M429.6 109h0M430.4 107.3h0M428.5 108.1h0M431 110.6h0M429.1 100.9h0M430.4 99.6h0M428.2 101.9h0M435.7 101.9h0M431.2 96.4h0M430.6 96.7h0M433.4 95.6h0M433.9 98h0M433.3 96.5h0M430.5 100.3h0M432.3 91.9h0M431.4 89.4h0M433.9 98.2h0M431.1 99.6h0M435.3 100.6h0M431.2 94.9h0M429.7 101h0M434.8 96.6h0M428.5 97.6h0M435.8 93.8h0M435.8 89.4h0M431.9 98.9h0M430.5 100.4h0M428.8 97.6h0M431.5 99.5h0M433.7 100.5h0M429.6 101.9h0M433.4 100.7h0M430.4 95.8h0M432.2 100.5h0M434.2 98.5h0M431.8 101.5h0M433.2 98.9h0M430.7 100.9h0M432.6 98h0M434.4 100.8h0M434.9 98.5h0M435.5 94.7h0M430.2 99.5h0M428.8 100.5h0M428.2 98.7h0M429.2 101.1h0M433.6 89.4h0M429.4 101.6h0M434 112.9h0M428.4 121.6h0M434.2 113.4h0M431.2 114h0M429.2 112.3h0M432.7 112.1h0M433.9 113.2h0M428.4 111.4h0M431.2 112.4h0M428.7 113.3h0M435.5 114.9h0M431.4 121.6h0M431.7 111.1h0M432.7 113.8h0M434.4 116.2h0M435.4 117.1h0M431.1 115.5h0M431.3 115.9h0M434.6 116.2h0M433.8 114.8h0M433.4 114h0M434.3 112.6h0M435.3 120.2h0M428.4 111.7h0M432.5 116.3h0M430 113.2h0M435.2 111.6h0M428.1 119.1h0M431.1 115.1h0M431.7 117.6h0M428.6 113.9h0M430.6 116.6h0M431 118.8h0M428.8 114.9h0M434 118.8h0M430.7 121.3h0M431.6 111.8h0M434.3 111.6h0M435.2 114.6h0M430 115.8h0M433.9 122.1h0M430.3 121.4h0M435.5 111.4h0M435.3 111.3h0M431.9 125h0M428.7 136.2h0M434.7 127.3h0M433.4 126.5h0M434.2 88h0M453.1 104.2h0M452.3 102.6h0M448.9 104.9h0M449.7 102.5h0M455.6 106.2h0M452.2 106.7h0M450 103.4h0M455.1 102.2h0M454.2 108.4h0M453.7 107h0M449.5 106.5h0M450.9 109.4h0M454.4 102.3h0M449.9 105.8h0M455.3 101.8h0M451 108.6h0M451.7 108.4h0M453.8 104.7h0M448.5 106.3h0M452.6 107.5h0M452.5 106.8h0M449 107.2h0M449 103.6h0M447.9 107.4h0M450.6 107.6h0M452.8 105.4h0M448.3 105.9h0M451.8 104.8h0M449.1 106.5h0M454.2 109h0M448.2 101.7h0M447.7 107.8h0M453 107.5h0M450.5 105h0M454.9 103.1h0M450.8 106.6h0M453.9 107.7h0M451.5 102.7h0M451.6 106.1h0M450.8 107.6h0M453.2 103.6h0M447.9 108.3h0M454.1 105.9h0M452.9 102h0M453.5 119.8h0M448.5 110.1h0M453.4 119.7h0M451.8 116.4h0M453.4 109.8h0M451.8 111.5h0M454.7 111.2h0M454.1 117.5h0M452.2 119h0M455.5 114.1h0M451.8 117.5h0M450.4 116.5h0M454.5 120.1h0M449.2 112.6h0M453.8 111.2h0M452 114.7h0M455.5 119.8h0M448.1 112.8h0M450 119.6h0M455 110.8h0M452.3 120.1h0M449.4 115.1h0M453.3 119.7h0M451.6 115.3h0M452.2 116.1h0M449.1 118.1h0M447.9 111.7h0M454.9 110h0M453 114.4h0M455.4 111.3h0M451.6 112.5h0M449.8 111.7h0M448.1 111.1h0M452.1 120h0M453.9 117.2h0M455 114h0M450.7 120.5h0M449.8 109.8h0M449.6 120.7h0M455.1 119.4h0M453.1 115.4h0M451.9 121h0M455 113.9h0M453.6 111.4h0M451.9 94.9h0M453.8 84.8h0M453 96.2h0M453.6 101.1h0M450.3 87.8h0M453.3 100.7h0M449 94.3h0M448 99.6h0M451.7 97.8h0M453.7 100.9h0M449.5 93.2h0M454.7 100.2h0M451.4 100.8h0M453 91.5h0M454.6 98.6h0M454 92.2h0M452.9 100.1h0M449.9 88.7h0M449.1 90.5h0M452.2 85.2h0M452.4 90.3h0M452.4 97.4h0M450.8 96.8h0M449.1 91.8h0M455 97.9h0M453.1 100.1h0M453.2 98.3h0M447.9 93.2h0M451.9 90.6h0M451.9 86.1h0M448.3 92.1h0M449.4 101.2h0M448.9 88.4h0M452.6 83.6h0M454.6 94.6h0M452.7 100.7h0M450.3 100h0M454.4 98.8h0M452 89.9h0M454.2 79.8h0M452.3 83h0M449 98.6h0M451.1 92.7h0M449.8 90.6h0M450.2 125.4h0M448.1 127.5h0M453.8 130.8h0M452.2 141.7h0M450.2 128h0M453.3 137.7h0M451.4 125.5h0M448.3 127.1h0M454.1 122.9h0M454.1 126.8h0M452.1 128.6h0M452.8 146.3h0M452.1 132.4h0M450 122.6h0M448.1 146.8h0M452.8 126h0M449.9 126.3h0M453.6 128h0M450.1 126h0M450.8 135.5h0M454.8 123.5h0M448.6 125.7h0M449.8 132.6h0M453.2 123.3h0M451.1 124.3h0M454.6 129.2h0M448.7 144.1h0M447.8 123.9h0M454 143.9h0M448.9 133h0M449.9 135.4h0M449.2 122h0M451.1 135.1h0M454.9 130.2h0M451.5 127.5h0M453.4 128.4h0M448.9 139.7h0M451.9 122.5h0M449.4 125.6h0M449.4 143.1h0M450.1 130.6h0M450.8 127.1h0M453.4 130h0M448.5 128.6h0M449.8 159.4h0M455.4 173.3h0M450.5 155.8h0M447.9 156.1h0M454.6 71.9h0M468.4 88.7h0M474.6 89.2h0M474.5 88h0M468.4 89.5h0M470 89.7h0M471.9 89.2h0M468.3 89.4h0M470.6 88.7h0M467.9 91.3h0M471.6 89.5h0M471.2 87.9h0M474.8 89.7h0M473.8 89.3h0M469.6 88.6h0M472.8 90.7h0M475 89.5h0M468.4 91.1h0M471.6 90.4h0M468.6 91.8h0M469.4 89.2h0M471.3 88h0M467.5 88.6h0M471.2 91h0M469.8 88.6h0M467.9 90.3h0M471.6 88.3h0M469 91.4h0M469 89.4h0M474.9 89h0M470.9 91.5h0M471.8 90.8h0M468.2 90.3h0M475 91.6h0M472.1 91.2h0M469.8 87.8h0M472.7 91.6h0M472.5 88.6h0M471.3 90.9h0M470.8 89.1h0M468.2 89h0M473.4 89.6h0M467.7 87.8h0M467.9 91.3h0M472.4 88.9h0M474.3 90.5h0M474.5 88.4h0M469.2 88.2h0M473.9 87.9h0M468.9 89.8h0M468.9 89.6h0M471.1 90.8h0M472 89.6h0M471.6 89.9h0M474.7 90.2h0M471.4 88.4h0M470.3 89.4h0M471.1 91.3h0M468.9 92h0M473.1 89.8h0M468.8 89.1h0M471.2 91.4h0M468.2 90.1h0M473.1 88h0M470.3 88.5h0M473.6 90.5h0M468.8 88.3h0M471.3 90h0M474.3 91.9h0M473.2 90h0M469.1 89.7h0M468.2 91.2h0M472.2 90h0M475.2 91.3h0M470.6 87.9h0M473 91.3h0M472.8 88.5h0M475.2 88.7h0M470.6 90.2h0M468.1 90.7h0M468.2 88.5h0M474.6 91.1h0M469.1 89.8h0M472.1 91h0M472.5 89.3h0M474.6 89.3h0M470.8 90h0M469.4 90.6h0M474.6 91h0M472.3 89.2h0M475.3 90.4h0M473.6 88.9h0M472.7 90.8h0M471.2 89.5h0M467.4 91.7h0M473.9 90.9h0M470.3 88.1h0M467.9 90.5h0M473.3 89.4h0M475.2 89.2h0M473.3 88.7h0M468.8 90.7h0M470.1 91.4h0M470.1 89.7h0M469.8 89.9h0M472.8 89.2h0M473.1 91.2h0M469.6 91.9h0M470.5 89.7h0M470 89.7h0M469.5 88.6h0M472.6 89h0M473.8 89.5h0M473.1 89.5h0M475 88.5h0M474.9 89.3h0M475.1 88.1h0M473.6 89h0M470.3 90.6h0M473.3 91.6h0M475.1 88.7h0M469.6 90.7h0M470.2 88.8h0M467.6 91.8h0M474.6 88.8h0M473.7 92.2h0M468.4 96.7h0M470.9 93.7h0M469.7 93h0M470.2 94.3h0M470.9 96.2h0M474.9 94h0M469.9 94.3h0M472 95.3h0M473.3 92.1h0M473 96.5h0M467.7 95.6h0M470.2 95h0M474 93.8h0M468.8 96.9h0M471 92.4h0M473.7 92h0M469.1 95h0M471.3 95.4h0M475 92.8h0M468.2 96.2h0M469.7 94.2h0M467.6 93.7h0M467.9 95.6h0M473.8 94h0M471.6 92.8h0M472.3 94.1h0M469.5 92.2h0M473 93.5h0M468.6 94.9h0M469 92.4h0M467.9 94.2h0M474.9 94.4h0M470 92.2h0M469.7 93.1h0M470.8 92.2h0M469.3 94.6h0M474.6 95.2h0M469.6 92h0M467.8 94.8h0M474.1 96.3h0M473.2 92.2h0M468.9 95h0M470.4 93.6h0M468.7 92.7h0M474.6 96.3h0M474.7 93.6h0M467.8 96.2h0M469.1 96.5h0M470.7 93.3h0M472.3 96.4h0M474 96.5h0M474.5 92h0M474.8 96.4h0M472 95.2h0M473.3 92h0M474.5 94.6h0M473.3 96.3h0M471.1 96.3h0M474 96.4h0M472.4 94.6h0M469.7 92.5h0M467.7 93.7h0M473.5 93.5h0M467.6 95.1h0M473.7 93.3h0M473.6 94.8h0M468.9 93.5h0M474.2 94.3h0M471.8 95.2h0M475 96.1h0M474.8 92.2h0M467.6 94.3h0M469.3 93.6h0M473.9 95.1h0M471.6 95.6h0M468.6 95.6h0M471.5 92.8h0M470.2 92.7h0M470.5 96.3h0M468.3 93.6h0M472.2 95.5h0M474 92.1h0M470.5 95h0M469.9 93.2h0M474.6 95.3h0M472.4 92.4h0M475.2 96.4h0M474.1 95.4h0M469.1 95.1h0M473 94.4h0M468.7 96h0M468.7 94.2h0M472.5 95.2h0M467.7 94h0M469.2 92.1h0M475.1 94.3h0M469.8 96h0M473.1 95.2h0M473 92.4h0M471.7 92.2h0M474.1 92.9h0M469 95.1h0M468.5 93.5h0M473.7 93.2h0M470.2 96.4h0M469 92.1h0M471.5 96.1h0M472.9 93.7h0M471.6 96h0M473.8 93.4h0M470.2 94.6h0M473.8 92.7h0M474.7 93.4h0M472 95.2h0M472.8 95.4h0M471.9 92.8h0M469.8 95.2h0M469.4 96.9h0M473.1 95h0M468.6 93.4h0M470.6 95.4h0M470.4 94.9h0M474.5 95.3h0M471.7 80.7h0M469.5 82h0M470.9 86.4h0M467.9 83.4h0M469.6 87.3h0M472.8 79.4h0M469.4 79.4h0M469.8 87.7h0M474.7 85h0M469.6 84.6h0M472 87.4h0M475.3 82.6h0M468.1 84h0M470.7 87.2h0M473.8 86.2h0M473.5 85.3h0M472.3 85h0M473.1 81.8h0M468.6 87.5h0M467.9 87h0M468.4 86.3h0M474.5 85.3h0M468.8 84.2h0M472.9 85.9h0M468 85.7h0M474.5 86.3h0M473.5 83.5h0M474.1 86.7h0M475.2 85.6h0M472.6 85.8h0M474.4 84h0M475.3 85.5h0M468.2 86.8h0M467.8 87.5h0M473.3 85.6h0M472.1 87.4h0M469.4 84.5h0M472.8 82.4h0M472.6 83.6h0M470.1 84h0M467.8 85.5h0M475.2 82.5h0M471.7 87.6h0M468.2 86.2h0M473.7 83.3h0M474.4 86.1h0M470.4 85.1h0M473.7 81.7h0M468 86.7h0M473 86.2h0M475.2 84.7h0M473.4 85.6h0M469.6 87.4h0M470.6 83.7h0M472.7 84.2h0M470.9 86.4h0M475.3 85.9h0M473.6 87.4h0M470.9 81.6h0M473 86.2h0M468 83h0M470.1 84.6h0M467.7 87.2h0M470.1 80.9h0M468.8 83.8h0M471.3 87.7h0M470 87.4h0M467.9 84.2h0M468.7 87.3h0M470.7 87h0M472.2 87h0M469.5 86.4h0M470.6 85.7h0M474.9 87.6h0M470.7 82.3h0M471.2 86.1h0M471.4 84.7h0M474.8 83.4h0M468.7 87h0M471.1 84.5h0M473.8 83.9h0M471.6 80.8h0M470.1 87.3h0M470.4 79.4h0M469 85.8h0M472.7 86.8h0M474.1 86.4h0M473.2 84.7h0M467.8 82.6h0M473.6 87.3h0M473.3 83.6h0M470.4 84h0M469.7 87h0M475 83.4h0M468.5 87.1h0M473.7 85.7h0M469.6 86.9h0M471.7 83.9h0M473 86.9h0M474.7 87.3h0M473.5 85.9h0M468.1 85h0M474.3 83.7h0M475.1 86.5h0M467.7 86.3h0M469.8 87.4h0M474.4 87.2h0M471.6 83.2h0M467.5 86.7h0M473.5 86.7h0M475.2 84.8h0M468.6 85.9h0M474.3 86.4h0M472.3 87.4h0M472.3 80.9h0M467.8 87.6h0M475.1 86.5h0M475.3 85.6h0M468.5 81.9h0M473.9 82.7h0M470.2 87.6h0M467.7 84.8h0M471.6 85.9h0M474.1 87.4h0M472 100.6h0M467.9 100.4h0M474.3 97.9h0M470.8 106.3h0M471.9 98.9h0M470.6 104.5h0M475.1 108.3h0M471.7 108.3h0M473.9 98.6h0M474.9 97.8h0M472.1 105.3h0M474.2 97.2h0M469.1 109.6h0M468.9 105.2h0M473.3 105.1h0M472.8 101.6h0M475 100.4h0M470.3 106.5h0M468.9 97.2h0M470.7 98.9h0M474.5 104.9h0M471.8 102.2h0M469.9 103.9h0M471.4 103.1h0M473.2 98.2h0M468.3 100.6h0M473 105.4h0M470.9 98.7h0M474.4 97.4h0M473.8 97.6h0M473.5 100h0M467.8 98h0M471.7 101.7h0M467.9 101.7h0M470.2 98h0M468.8 99.6h0M471.3 97h0M469.1 101.7h0M469.9 105.4h0M473.4 98.7h0M473.6 98.3h0M473.4 109.6h0M473.2 98.7h0M470.2 100.7h0M467.7 102.8h0M467.9 104.2h0M472 106.9h0M475.1 104.3h0M471.5 99.6h0M471.1 102.3h0M474.2 99.5h0M470.4 98.3h0M469.2 102.3h0M475 104.2h0M467.4 99.7h0M471.6 102.1h0M468.8 99.3h0M469.4 104.2h0M474.9 100.1h0M472.8 98.8h0M471.8 98.7h0M468.3 97.9h0M474.8 99.5h0M470.9 106.4h0M468.2 100.8h0M471.8 98h0M468.1 104.3h0M474.2 101.1h0M470.6 103.9h0M469.7 100.6h0M469.4 98h0M469.1 97.7h0M469 102h0M472.2 98.7h0M468.8 97.5h0M471.8 99.1h0M474.4 100.5h0M473.3 102.3h0M471.7 97.7h0M470.8 98.5h0M470.2 109.6h0M469.4 103.6h0M470.7 105.2h0M475.2 97.2h0M471.8 109.6h0M469.7 98.7h0M469.6 105.3h0M470.9 105.6h0M471 99.9h0M470.2 97.8h0M471.8 97.8h0M473.3 101h0M473 101.2h0M473.2 97.6h0M471.6 102.9h0M474 101.7h0M468.1 100.6h0M472 100.2h0M474 100.8h0M473.2 100.5h0M475 99.3h0M468.5 104.9h0M472.6 102.9h0M473.7 103.2h0M470.6 100.1h0M469.4 98.4h0M470.9 99.2h0M474 97.7h0M469.2 108.3h0M473.6 102.4h0M473.3 98.4h0M471.8 97.9h0M471.5 101.9h0M474.9 97.1h0M468.5 99.6h0M467.9 101.8h0M471.6 102.9h0M468.1 103h0M469.5 97.7h0M468.5 98.8h0M474.9 109.6h0M471.4 106.2h0M469.5 98.5h0M470 109.6h0M468.9 131.1h0M470.3 113.8h0M468.9 112h0M474.1 111.4h0M471.9 120.6h0M468.3 111.9h0M474.2 109.2h0M471 121h0M467.7 118.2h0M473.4 115.2h0M472.7 110.8h0M471.4 115.1h0M470.7 77.1h0M473.2 74.8h0M475.1 76.6h0M471.4 78.6h0M490.9 91.5h0M489 89.4h0M493.6 89.4h0M494.4 89.5h0M488.3 91h0M494.7 90.9h0M488.5 90h0M492.6 91.2h0M491.1 90.2h0M494.1 91.6h0M495 91.4h0M488 89.9h0M490.8 89.4h0M494 91h0M490.4 89.5h0M488.5 90.9h0M491 91.2h0M487.5 89.6h0M488.6 91.5h0M493.9 90.4h0M493.8 91.1h0M493.5 90.8h0M487.6 91.3h0M492.3 94.1h0M490.8 94.2h0M492.4 94h0M489.9 92.8h0M489.5 94.7h0M494.5 92.3h0M492.6 93.8h0M492.2 95.2h0M491.2 95.5h0M489.5 95.5h0M490.6 95.1h0M494.2 96h0M493.9 96.1h0M487.9 93.8h0M493.4 94.8h0M492.5 92.8h0M492.3 94.7h0M489.7 93.5h0M494.6 95.6h0M491.6 92.7h0M493.8 92.8h0M487.8 94.7h0M491.2 94.4h0M489.1 82.9h0M490.4 86.2h0M489.8 87.2h0M491.6 84.4h0M488.2 86.5h0M490.7 87.2h0M489.7 86h0M492.6 84.6h0M489.1 87.4h0M489.9 86.9h0M489.2 87h0M494.6 89.2h0M487.9 80.8h0M488.6 82.2h0M494.1 83.2h0M490.1 86.2h0M493.1 87.5h0M487.8 89.2h0M488.3 87.5h0M491.9 86.1h0M488.5 84h0M489.1 81.7h0M490 85.6h0M492.1 99.4h0M488.5 98h0M487.7 103.9h0M490.3 96.9h0M492.5 97h0M493.6 101.5h0M491.7 100h0M489.7 97.7h0M494.5 96.7h0M489.6 96.6h0M493.2 99h0M493.2 98.1h0M492.4 96.9h0M491.4 103.6h0M488.8 101.7h0M491.7 105.9h0M487.2 99.4h0M494.7 101.5h0M491.3 99.8h0M491 97.9h0M494.7 104.1h0M493.9 97.4h0M489.5 103h0M494.6 110.2h0M494.4 109.5h0M488.5 69.2h0M511.6 111.6h0M507.5 115.7h0M508.8 115h0M513.7 113.1h0M507.8 105.6h0M507.1 109.4h0M508.9 111.2h0M507.1 116.5h0M508.5 110.9h0M510.8 109.2h0M513.5 105.9h0M510.5 116.4h0M511.3 111h0M507.8 113.5h0M509.6 119.1h0M512 115.6h0M510.7 109.1h0M514.3 109.6h0M510.2 115h0M514.2 118.3h0M508.6 108.1h0M512.3 111.8h0M513 108.5h0M514.5 107.1h0M508.3 116.2h0M511.8 111.6h0M514.3 111.7h0M510.8 118.5h0M514.7 105.4h0M514.1 108.8h0M509.2 106.1h0M510.8 105.5h0M509.5 113.6h0M513.3 110.3h0M507.3 115.9h0M512.3 108.2h0M506.9 107.2h0M507.3 116.8h0M513.1 106h0M508.6 113.9h0M511.4 106h0M514.1 120h0M508.3 119.3h0M510 106.1h0M513.1 120.1h0M511.8 114h0M511.8 116.9h0M508.4 118.5h0M511.1 112.4h0M513.5 112.4h0M511.1 110.5h0M512 114.9h0M512.4 105.7h0M509.8 116h0M511 116.8h0M509.7 116.1h0M509.1 115h0M507.5 110.3h0M513.9 116h0M509.6 111.3h0M512.5 115.4h0M508.5 109.2h0M511.6 109.4h0M512.8 115.5h0M512.4 107.9h0M510.7 132.3h0M514.7 132.1h0M508.1 128.5h0M512.8 124.5h0M507.9 125.6h0M510.9 123h0M506.9 131.1h0M507.4 133.9h0M514 122.6h0M512.8 122h0M507.2 126.9h0M507.6 134.1h0M507.7 123.8h0M513.6 123.8h0M510.7 126.4h0M513.5 125.5h0M511.7 124.6h0M513 128.8h0M507.9 122.5h0M512.6 122.2h0M509.2 127.6h0M511.9 133.8h0M508.1 123.7h0M509.5 124.1h0M513.2 124.1h0M507.5 122.1h0M508.1 122.3h0M509.2 125.3h0M508.6 124.9h0M513.5 128.9h0M513.8 123.2h0M513.5 133.3h0M510.4 128.7h0M511.9 131.8h0M511.4 122.7h0M512 132h0M511.8 126.5h0M514.2 125.5h0M512 132.9h0M507.1 126.9h0M512.8 125h0M511.3 126.4h0M513.1 129h0M509.6 124.3h0M508.5 127.8h0M510.9 125.4h0M508.7 122.7h0M511.6 121.4h0M511.2 132.1h0M512.4 133.1h0M507.1 124.8h0M513.1 131.3h0M507.9 126.5h0M510.7 125.7h0M510.2 124.9h0M514.7 125.5h0M513.2 125.8h0M514.1 122.6h0M509 132.1h0M510.9 126.7h0M513.8 123.6h0M513.7 126.6h0M511.6 127.4h0M510.9 131.1h0M508.9 123.2h0M511.1 99.3h0M513.7 102.9h0M512.6 99.1h0M513.4 97.3h0M511.7 95.3h0M507.7 102.1h0M508.4 104.5h0M510.2 90.1h0M513.9 99.4h0M510.7 102.1h0M514.3 101.1h0M510.7 93.7h0M512.7 103.8h0M512.4 101.7h0M507 96.8h0M510.3 100.8h0M511.4 99.7h0M514.7 89.1h0M513.4 101.6h0M508.8 101.8h0M509.2 102.5h0M510.8 92.9h0M509.7 102.2h0M509.8 91.9h0M511.4 97.5h0M507.3 103.6h0M510.3 95.4h0M507.5 100.6h0M507 103.4h0M513.6 102.4h0M507.4 104.2h0M512.1 105.1h0M513 99.6h0M507.5 104.6h0M507.5 97.5h0M507.1 89.8h0M513.8 98.5h0M510.7 100.8h0M508.1 105.1h0M514.6 101.7h0M511.8 99.9h0M513.9 104.2h0M507.7 100.1h0M511.5 98.6h0M512.9 103.6h0M510.4 95.1h0M510.8 96h0M507.3 102.3h0M508.6 104h0M508.9 102.2h0M510.4 104.2h0M507 105.1h0M507.6 95.2h0M511.6 100.4h0M514.7 93.2h0M508.9 92.6h0M511.1 94.8h0M510.8 102.7h0M513 101.6h0M511.1 92h0M510.9 96.4h0M507.2 101.1h0M507 91.5h0M510.4 104.5h0M507.9 103.7h0M509.4 134.9h0M508.1 145h0M513.2 137h0M509.2 135.7h0M512 157.4h0M511.6 141.9h0M512.4 168.6h0M509.1 143.5h0M508.2 135.8h0M513.8 143.9h0M510.8 148.1h0M512.6 135.8h0M510.4 146.9h0M507.1 157h0M507.9 144.8h0M508.1 140h0M507.1 138.4h0M512.6 141.6h0M514.5 138.4h0M510.1 148.9h0M514.6 139.4h0M507.8 149h0M509.7 149.3h0M511.7 142.8h0M512 138.4h0M507.1 139.7h0M514 143.8h0M514.8 139.3h0M509.2 137h0M509.2 158.4h0M511.9 136.9h0M510.2 156.2h0M511 136.3h0M513.7 138.8h0M512 141.5h0M507.8 135.6h0M509.5 148.9h0M513.7 141.6h0M514.3 137h0M509.3 144.3h0M507.5 139.3h0M513.1 136.1h0M508.6 147.3h0M508.7 136.5h0M510.2 160.2h0M507.6 158.2h0M512.3 153.7h0M513.7 139.4h0M509.6 153.7h0M512.2 162h0M507.9 155.2h0M509.7 152.6h0M508.1 141.5h0M507.7 149.8h0M509.1 145.9h0M509.8 142.6h0M507.1 138.8h0M512 152.9h0M512 159.7h0M509.2 138.6h0M510.3 154.7h0M509.1 149.2h0M507.7 139.2h0M514.4 151.8h0M514.3 152.2h0M510.5 169.6h0M513.4 195h0M510.9 167.9h0M514.5 167.5h0M511.7 174.6h0M513.7 182.3h0M511.3 85.1h0M511.3 74.3h0M528.6 112.5h0M533.9 105.8h0M527.7 111.4h0M532.9 111.3h0M532.5 114h0M531.7 108h0M532.8 111.1h0M527.7 108.1h0M529.5 110.2h0M529.3 104.8h0M528.4 112.3h0M528.5 106.5h0M529.1 109.2h0M534.3 106.2h0M529.7 113.5h0M532.9 111.4h0M532.6 112.7h0M532.5 111.7h0M530.5 113.1h0M530.7 110.8h0M528.1 105.5h0M533.6 105.4h0M529.6 111.7h0M532.3 107.4h0M533.5 111.4h0M531.2 108.7h0M529.5 112.6h0M533.6 107.9h0M527.4 105.5h0M532.6 112.5h0M528.9 107.5h0M532.2 108.4h0M528.4 111.9h0M533.7 107h0M530.4 113.4h0M527.5 105h0M533 111.8h0M529.4 112.6h0M527.4 110.5h0M533.3 106.5h0M527.3 105.7h0M528.3 111.9h0M528.2 111.5h0M529.8 112h0M534.3 113.8h0M527.2 110.3h0M534.4 113.5h0M528.8 113.9h0M529.9 110.2h0M532.9 111.9h0M533.4 106.2h0M527.7 114h0M532.1 109.3h0M530.2 109.4h0M527.3 111.1h0M534.5 112.7h0M529.9 107.3h0M532.1 111.7h0M532.5 112.4h0M528.5 108.4h0M528.9 108.8h0M529.7 112.9h0M533.6 107.8h0M533.3 112.2h0M531.8 113h0M529.4 108.1h0M529.1 107.6h0M529.5 106.4h0M529.7 106.6h0M530.3 112.7h0M529.8 107.3h0M529.3 107.2h0M532.6 110.8h0M533.6 107.3h0M533.6 107.3h0M527.8 113.4h0M531.2 113.9h0M528 111.8h0M533.6 112h0M530.7 108.2h0M526.7 108h0M533.1 112.3h0M532 109.6h0M527.6 106.7h0M533.4 107.7h0M527.1 111.5h0M533.7 108.3h0M534.5 112.2h0M530.1 106.8h0M531.4 104.7h0M529.7 106h0M530.4 105.7h0M533.2 106.5h0M532.9 113.8h0M529.9 110.8h0M533.2 108.7h0M529.2 106h0M532.9 112.2h0M529.1 110.6h0M533.2 107.1h0M528.7 109.2h0M530.7 112.6h0M528.1 113.6h0M527.2 113.5h0M529.9 110.1h0M527.3 109.6h0M527.7 108.6h0M529.6 104.8h0M532.7 107.4h0M529.5 112.4h0M526.9 108h0M530 110.8h0M530 113.8h0M528.6 112.1h0M529.3 107.6h0M530.4 106.9h0M530.7 113.3h0M531.4 116.2h0M534.1 121.6h0M534.1 120.8h0M532 120h0M529.5 117.3h0M526.8 124.3h0M530.1 122.2h0M528.8 118.4h0M531.5 115.7h0M528.3 118.3h0M531.4 114.5h0M528.7 116h0M528 116.5h0M527.1 115.7h0M530.4 119.7h0M527.6 115.5h0M528.2 115h0M528.8 114.7h0M527.9 123.4h0M526.7 114.8h0M527.6 124.2h0M532.4 123.9h0M530 119.4h0M532 123.4h0M532.1 114.2h0M531.4 122h0M531.1 119.6h0M533.3 120.5h0M527.3 124.6h0M529.1 115.7h0M526.7 117.3h0M530.2 121.3h0M533.5 115.9h0M530.8 123.8h0M533.4 115.7h0M531.5 118.2h0M527 121.9h0M527.3 123.2h0M531.9 122.4h0M534.2 122.7h0M527.9 118.3h0M534 118h0M532.1 119.8h0M527.7 115.9h0M529 119.7h0M533.3 119.9h0M533.5 117.4h0M532.1 115.5h0M534.2 115h0M532.8 117.8h0M534 119.7h0M529.7 124.4h0M530.1 116.1h0M529.2 114.2h0M528.3 117.2h0M529 119h0M527.8 120.1h0M534.1 117.6h0M531.6 123.7h0M534.2 116.3h0M527.7 116.8h0M531.6 116.7h0M530.2 124.3h0M533.9 119.1h0M526.8 117.7h0M531.4 114.5h0M530.8 118.1h0M527.1 122.5h0M530.4 122.9h0M528.9 124.1h0M529 116.1h0M527 114.4h0M533.2 115.9h0M528.2 114.7h0M533.8 123.2h0M527.7 117h0M533.6 122.9h0M534.3 117.1h0M530.5 115.1h0M533.4 116.9h0M528.7 120.5h0M527.7 124.3h0M532.5 120.8h0M531.1 122.5h0M533.4 119.4h0M531 123.8h0M534.4 123.1h0M530 124.5h0M529.9 122.9h0M532.7 121.4h0M534.5 122.8h0M529.2 123.5h0M528.6 121.2h0M533.1 114.8h0M528.9 118.6h0M527.9 124.3h0M531.1 121.3h0M529 118.2h0M527.5 123.4h0M531.5 117.8h0M529.7 118.2h0M527.5 119.7h0M529.1 121.2h0M529.9 120h0M527.8 117.5h0M532.1 120h0M527 117.7h0M530 121.1h0M529.1 119.9h0M533.9 115.1h0M527.6 120.7h0M527.2 124h0M529.2 120.6h0M534.2 114.8h0M530.4 119.9h0M533.5 115.7h0M527 118.4h0M532.9 101.7h0M532.3 101.8h0M534.4 99.3h0M528.1 99.4h0M527.5 95.9h0M534.4 89.9h0M534 84.9h0M530.7 93.7h0M533.8 101.9h0M533.1 104.3h0M531.2 102.6h0M530.3 92.8h0M526.8 82.8h0M532 89.7h0M532.5 102.6h0M531.3 99.6h0M532.6 104.2h0M530.4 91.9h0M528.5 100.8h0M534.2 97.2h0M527.3 88.2h0M528.8 96h0M528.3 91.8h0M531.5 93.5h0M530.3 78.8h0M531.2 91h0M530.3 103.2h0M531.5 103.5h0M527.5 88h0M529.6 94.4h0M531 94.5h0M531.4 96.7h0M530.1 88.5h0M527 95.4h0M532.2 86h0M530.6 88.1h0M534.3 104.5h0M529.4 100.7h0M532 96.4h0M527 85.8h0M532.1 100.6h0M527.2 91.6h0M531.5 94h0M531.7 97.9h0M532.3 104.2h0M530.6 102h0M530.5 95.9h0M527.6 97.1h0M528.6 92.3h0M533 97.5h0M534.2 104h0M529.3 99.1h0M530.9 88.2h0M528.9 93.6h0M528.9 98h0M532.9 87.4h0M533.2 101.3h0M531.5 101.6h0M533.5 102.3h0M526.7 100.9h0M533.8 95.4h0M527.4 96.8h0M526.8 102.2h0M527.5 99h0M528.6 96.1h0M530.9 94.6h0M527.1 98.4h0M533.9 99.3h0M530.1 82.4h0M534.4 102h0M532.3 94.1h0M528.7 102.1h0M528.2 99.7h0M533.1 95.1h0M531.2 91h0M527.4 85.2h0M528.8 101.3h0M527.6 97.5h0M531.3 102.5h0M533.7 103.7h0M529.5 89.9h0M526.8 96.5h0M534.1 101.5h0M533.2 92.1h0M526.9 98.6h0M528.9 104.1h0M529.7 103.1h0M534.4 86.5h0M526.9 79.1h0M534.5 82.7h0M531.6 92.5h0M529.8 100.7h0M529.8 88.1h0M531.9 100.7h0M529.1 99.5h0M529 104.3h0M532.9 102.6h0M529.2 104.3h0M533 104h0M529.3 102.8h0M532 100.6h0M526.6 96.6h0M530.9 101.8h0M530.1 99.8h0M532.8 100.3h0M531.5 101.8h0M531.8 100.6h0M528 100.5h0M533.4 88.8h0M533.2 84.9h0M530.7 91.7h0M531.8 87.5h0M528.8 96.6h0M528.8 94.3h0M531 102.2h0M530.1 99.8h0M527.6 101.9h0M533.6 131.2h0M532.3 134.1h0M528.2 142h0M534 136.2h0M531.2 130.1h0M530.4 143.1h0M533.5 140.6h0M527.4 136.6h0M527.4 128.1h0M534.4 127.8h0M527.6 127.4h0M530.2 150.7h0M534.4 134.6h0M529.1 143.3h0M534 149.9h0M527.9 132.2h0M533.6 125.7h0M526.6 132h0M530.6 126.3h0M534 130.7h0M532.8 125.6h0M532 128.7h0M530.4 133.9h0M532.8 133h0M532.3 137.7h0M527.9 137.2h0M532.3 138.4h0M533.1 139.8h0M532 132.9h0M528.5 140h0M529.7 125.5h0M528.3 129.5h0M529.6 141.3h0M529.9 147.3h0M533 128.5h0M532.6 141.3h0M528 149.8h0M533 138.3h0M532.2 146.1h0M529.3 135.3h0M531.2 127.6h0M527.5 131.8h0M527.9 135.6h0M528.7 141.8h0M532.8 136.3h0M528.1 128.5h0M528.8 137.4h0M530.7 130.5h0M529.9 131.6h0M528.3 127.9h0M530.8 153.4h0M534.5 127.5h0M530.6 143.1h0M533.5 130.7h0M533.3 125.2h0M527.8 128.1h0M530.6 136h0M530.1 129.9h0M533.1 133.9h0M532.2 129.5h0M531.6 127.8h0M533.7 125h0M527.5 126h0M527.6 135.1h0M530.5 133.4h0M531.8 137.1h0M531.9 134.8h0M533.4 130h0M528 138.3h0M527.5 125.4h0M529.4 136.8h0M532.1 130.6h0M529 126.1h0M532.4 134h0M530.9 134.2h0M528.9 130.5h0M531.1 127.7h0M530.3 142.2h0M533.3 127h0M533 128.1h0M528.5 125.9h0M528.4 130.5h0M533.3 130.5h0M533.4 134.3h0M533.5 140h0M529.6 125h0M527.6 139.7h0M531 133.4h0M534.2 135.9h0M531.3 127h0M532 128.4h0M526.9 127.9h0M529.9 140.8h0M528 125.8h0M527.3 131.4h0M528.4 131.2h0M528.9 130.1h0M530.6 128.3h0M531.5 132.2h0M530.9 139h0M529.5 129.1h0M527.8 126.3h0M530.6 136.6h0M533.7 129.5h0M533.7 136.2h0M533.9 130.1h0M533.7 145.3h0M531.2 124.7h0M530.7 145.4h0M528.4 146.5h0M532.5 145.3h0M531.2 125.8h0M529.8 135.3h0M527.1 136.3h0M528.1 148.8h0M532.1 137.1h0M530.7 125.3h0M532.8 170.4h0M527.5 172.1h0M532 172.2h0M533.6 159.5h0M526.9 180h0M534.4 158.6h0M527.1 177.3h0M532.4 154h0M530.9 161h0M529.1 153.6h0M529.4 173.4h0M526.9 180h0M532.6 74.5h0M526.8 79.1h0M534.2 68h0M534.3 79h0M548 102.4h0M549.6 103.9h0M547.3 104.1h0M550.5 106.6h0M546.9 106.5h0M546.4 103.2h0M554 106.7h0M547.4 104.2h0M548.9 105.5h0M553.4 105.5h0M547 104.3h0M550.9 105h0M550.3 104.5h0M551 105.6h0M551.6 106.3h0M550.3 104.9h0M553.5 106.6h0M551.4 104.7h0M547.6 102.4h0M551 105.1h0M546.8 103.8h0M548.4 105.9h0M553.5 103.5h0M546.8 105.4h0M549.1 103.1h0M546.9 105.4h0M553.4 105.2h0M546.8 105.6h0M550.8 102.3h0M550 104.4h0M553.3 105.9h0M546.7 104.4h0M546.5 103.6h0M552.9 105.9h0M547.8 105.6h0M549.8 104.4h0M553.6 106.4h0M548.9 105.6h0M548 107.2h0M552.9 105.5h0M552.7 107h0M554.2 105.9h0M552.6 104.4h0M551.1 102.1h0M548 105.9h0M552.3 104.3h0M550.8 106.5h0M549.7 106.6h0M551 106.3h0M547.6 104.9h0M553.8 105.3h0M549.3 105.4h0M553.7 104.4h0M552.5 104.1h0M551.5 107.1h0M548.6 102.1h0M551.9 106.5h0M549.3 102.8h0M553.6 102.7h0M549.2 106h0M553.2 102.2h0M546.7 105.5h0M552.8 103.3h0M550.3 106.5h0M551.1 105h0M551.3 103.3h0M554.1 105.1h0M551.3 105.8h0M553.9 106.4h0M552 102.2h0M549.9 106.8h0M553.7 106.3h0M552.4 103.3h0M551.9 105.2h0M553.6 104.8h0M547.9 105.2h0M547.8 103.3h0M551.1 106.8h0M549.1 105.7h0M547.6 105h0M548.5 106.9h0M546.7 104h0M553 104.8h0M547.3 105.3h0M546.6 105.2h0M550.8 103.8h0M548.5 105.1h0M547.6 104.3h0M550.5 105.8h0M549.7 104h0M549.4 104.4h0M551.6 105.1h0M547.7 103h0M550.2 104.9h0M553.6 106.6h0M549.2 105.6h0M552.2 104.7h0M549.3 102.8h0M548.3 105h0M549.5 104.2h0M546.9 104h0M548.6 105.8h0M548.8 107.1h0M552.9 110.3h0M553.1 108.3h0M552.4 111.3h0M550.3 109.9h0M546.9 112.3h0M551.8 111.7h0M550.3 109.3h0M552.8 112.1h0M550.2 110.4h0M546.7 111.4h0M550.5 107.6h0M547.3 108.9h0M553.4 112.3h0M546.8 107.3h0M549.8 111.3h0M547.5 112.8h0M550.8 112.3h0M546.8 108.1h0M554.1 108h0M551.5 109.5h0M553 107.6h0M549.4 110.9h0M549.1 111.2h0M549.6 111.3h0M546.6 112.2h0M551.9 109.1h0M550.6 107.3h0M551.2 108.3h0M548.8 112.1h0M546.8 108.1h0M551.6 107.8h0M553 111.3h0M549.5 110.9h0M549.6 112.7h0M548.4 112.1h0M548.2 112.5h0M552.3 112.6h0M550.6 107.3h0M554.2 112.9h0M551.2 108.8h0M547.8 107.8h0M548.4 112.6h0M551.7 109h0M549.2 108.1h0M551.9 110.6h0M551.6 112.2h0M552.6 109.1h0M551.1 112.3h0M550.3 113h0M550.4 110.4h0M548.5 108.6h0M547.9 109h0M553 108.2h0M551.7 109.8h0M550.9 109.6h0M552.6 108.9h0M547.1 109.6h0M551.1 108.8h0M553 112.3h0M550.9 112.7h0M553.3 109.8h0M547.4 107.9h0M553.9 109h0M548.7 111.3h0M551.9 113.1h0M554 111.7h0M550.8 107.6h0M548.6 109.3h0M554.1 107.6h0M548.4 110.6h0M552 109.6h0M551 109.9h0M550.4 108.9h0M552.5 107.7h0M553.7 111.9h0M553.9 109.3h0M552.5 107.6h0M552.9 108.4h0M546.6 107.5h0M549.3 112.4h0M550.8 108.2h0M550.1 112.8h0M553.8 113h0M553.6 107.9h0M550.2 111.9h0M553.7 108.5h0M549.2 111.5h0M552.6 113h0M547.4 110h0M554.2 108.5h0M549.9 111.2h0M554.1 110.9h0M548.4 108.7h0M548.6 110.4h0M548.6 110.2h0M548.7 109.7h0M547.1 109.4h0M552.6 112.7h0M550.4 111.2h0M550.4 109.7h0M548.5 110.6h0M550.2 111h0M550 112.4h0M546.5 95.4h0M548.7 92.8h0M547.7 100.3h0M548.7 92.4h0M549.8 86.4h0M554.2 101.2h0M549.3 100.7h0M553.4 90.7h0M552.2 97.5h0M554.2 95.4h0M552.8 98.5h0M553.8 98.2h0M547.5 100h0M552.6 93.9h0M549.1 94.5h0M549.5 100.2h0M547.2 95h0M547.5 97.2h0M551.7 93.2h0M548.1 101.3h0M551.5 94.5h0M549.2 95.8h0M551.4 100.4h0M551.3 100h0M548.1 97.4h0M553.6 101h0M552 100.7h0M550.8 92.5h0M551.3 101.4h0M551.5 99.8h0M549.2 90.5h0M551.2 100h0M547.6 99h0M554.2 91h0M551.9 101.6h0M552.4 99.4h0M552.3 97h0M553.1 101.2h0M550 94.3h0M548.4 91.8h0M546.6 100.6h0M550.4 94.4h0M547.6 95.3h0M550 90.9h0M546.9 95.9h0M552.5 97.5h0M549.2 91.9h0M548.8 98.4h0M552.7 100.2h0M549.5 96.8h0M550.1 95.8h0M551.6 96.5h0M546.6 98.2h0M548.8 96.8h0M554.2 89.9h0M551.8 99.1h0M547.4 93.5h0M553.9 96.3h0M553.7 101.4h0M551.6 94.3h0M546.5 97.1h0M549.7 101.6h0M549.4 93.4h0M547.8 98.8h0M551.1 101.4h0M548.6 100.6h0M551.7 96.8h0M548.3 89.8h0M553.6 95.1h0M548.5 102h0M546.5 93.8h0M553.1 94.7h0M548.1 96.6h0M546.7 102h0M553.9 96.8h0M548.9 99.3h0M551.9 101.2h0M547.2 99.5h0M552.8 98.1h0M553 93.9h0M548.6 91h0M548.3 100.6h0M547.4 100.9h0M551 97.9h0M549.6 96.3h0M553.4 96.9h0M549.3 93.5h0M550.4 99.3h0M549.4 96.1h0M548.5 98h0M546.8 97h0M551.1 94h0M548.7 95.4h0M553.6 94.1h0M551.5 90h0M551.4 96.8h0M553.2 93.5h0M547.9 102h0M553.4 100.6h0M552.8 101.4h0M547.8 101.6h0M548.1 100.8h0M546.7 92.2h0M549.9 125.3h0M547.3 114.5h0M552.8 122h0M548.6 124.9h0M548.2 117h0M553.6 122.1h0M548.8 122.9h0M549 115h0M550.8 120.7h0M550.6 123.1h0M548.7 122.9h0M551.3 115.4h0M548.1 118.8h0M551.7 117.8h0M548.8 117.3h0M548.2 114.8h0M549.1 114.2h0M548.4 119.3h0M552.7 126.9h0M552.4 121.4h0M547.2 117.6h0M553.5 123.9h0M552.9 121.5h0M547.1 121.8h0M550.3 113.7h0M550.5 118.1h0M550.4 119.2h0M546.5 118.8h0M553.6 115.6h0M549.8 118.6h0M552.1 119.8h0M550.7 116.4h0M553.7 119.2h0M548.7 123.9h0M551.9 119.9h0M548.9 118.7h0M553.7 119.5h0M548.8 115.2h0M546.7 119.1h0M550.2 116.2h0M551.9 116.1h0M549.6 120.1h0M552.3 122.4h0M552.3 114.4h0M548.1 126.8h0M549.6 121.7h0M554.2 115.7h0M550.5 118h0M553.3 126.7h0M549.5 122.2h0M548.1 116.9h0M553.3 127.5h0M550 121.6h0M546.5 114.1h0M551.9 121.6h0M550.6 124.3h0M552.9 116.1h0M554 114.8h0M551.8 114.2h0M547.4 116h0M547.1 116h0M553.1 115.3h0M552.2 118h0M552.8 114.1h0M550.7 115.3h0M551 117.8h0M546.9 127.8h0M549.7 122.3h0M550.8 116.4h0M548.6 118.9h0M547 114.5h0M553.4 122.2h0M547.6 117.2h0M550.4 126.3h0M551.7 120.7h0M550.3 114.5h0M553.4 126.3h0M548.2 118.8h0M553.5 114.7h0M553.2 117.4h0M550.7 113.3h0M549.7 115.4h0M553.2 116h0M550.2 128.9h0M554 120.6h0M547.5 117.1h0M547.1 116.4h0M547.7 119.5h0M553 122.1h0M549.8 115.2h0M550.1 114.3h0M551.7 114.5h0M548 125.7h0M549.9 129.3h0M551.2 118.5h0M546.6 118.9h0M549.8 120.1h0M551 115h0M549.7 120.1h0M547.9 114.7h0M546.9 116.2h0M553.9 125h0M552.7 115.1h0M550.7 131.9h0M552.1 136h0M546.5 158h0M554.3 131.8h0M549 131.8h0M549.9 144h0M546.9 140.2h0M548.9 142.3h0M547.3 134h0M549 150.4h0M549.7 74.3h0M551.1 83.3h0M547.4 84.1h0M568.2 95.2h0M566.4 95.8h0M570.5 89.5h0M563.4 89.6h0M562.7 94.5h0M562.3 91.1h0M563.9 90.6h0M568.6 90.5h0M563.1 89.9h0M567.9 95.5h0M570.6 93.6h0M567.7 90.2h0M563.5 96.2h0M569.1 91h0M569.9 94.4h0M566.7 94.1h0M565.3 91.9h0M567.5 93.7h0M562.4 90.7h0M568.1 94.1h0M563.7 90.1h0M567.8 89.5h0M564.6 91.4h0M565.2 93.9h0M570.8 94h0M564.9 90.6h0M569.4 88.8h0M562.5 92.7h0M568.4 94.3h0M562.2 88.8h0M566.5 89.6h0M570.4 92h0M564.1 90h0M564.3 91.5h0M570.7 89.9h0M565.8 93.9h0M567.8 94.5h0M568.6 103.2h0M568.7 96.4h0M571.1 97.2h0M571 102.6h0M562.2 101.3h0M561.9 101.2h0M568.9 96.3h0M563.5 103.5h0M568.5 98.5h0M562.6 96.6h0M566.1 97h0M565.8 97.3h0M565.8 100.9h0M567 99.2h0M562.7 98.4h0M565.9 97.4h0M571.4 98.2h0M562 102.1h0M569.4 98.9h0M567.2 96.3h0M563.3 103.5h0M568.2 103.2h0M564.9 98.9h0M566.3 100.9h0M563.6 96.9h0M571.5 100.4h0M570.8 96.6h0M566.5 97.9h0M566.3 103.1h0M565.4 97.2h0M567.2 100h0M567.8 100.6h0M569.1 97.8h0M562.9 103.2h0M570.6 99.9h0M562.2 96.8h0M570.8 101.8h0M563.6 82.2h0M566.3 83.1h0M569.9 82.6h0M565 81.2h0M562.5 83.8h0M568.3 84h0M568.8 88.3h0M565.5 74.6h0M568.1 85h0M569.9 79.4h0M561.4 85.2h0M568 81.4h0M567.7 83.4h0M566 86.5h0M563.4 88.3h0M564.8 88.1h0M565.5 87.1h0M569.6 87.8h0M568.9 82.2h0M566.6 83.8h0M564.5 85.3h0M570.2 87.2h0M561.8 80.7h0M565.1 84.8h0M564.8 87.3h0M566.3 77.7h0M561.9 84.6h0M565.7 79.9h0M562.9 83.2h0M562 78.9h0M571.4 83.5h0M569.8 86.6h0M564.8 82.8h0M568 83.4h0M563.8 83.1h0M570.4 85.4h0M567.9 85.5h0M565.8 106.1h0M564.3 117h0M565.9 104.9h0M569 105.9h0M569.3 116.1h0M562 104.7h0M571.2 105.7h0M566.7 116.9h0M570.5 110.8h0M562 109.5h0M570.1 111.2h0M567.4 109h0M562.4 108.9h0M561.4 110.2h0M563.8 113.9h0M570.6 103.6h0M568 111.2h0M564.7 109h0M564.5 115h0M568.7 115.7h0M565.4 112.8h0M562.3 110.6h0M567.9 111.8h0M566.5 107.4h0M570.2 116.6h0M562.4 109.7h0M568.1 105.1h0M569.2 107.5h0M566.5 105.4h0M569.5 105.3h0M570.4 106.5h0M568.8 104.3h0M563.4 116.7h0M562.7 103.7h0M566.9 104.8h0M571.3 114.7h0M571.1 107h0M566 139.1h0M567.7 128.8h0M564.6 128.2h0M567.8 127h0M561.6 73.9h0M592.3 91.8h0M592.6 91.9h0M589.2 93.1h0M592.7 92.5h0M588.7 92.1h0M593.3 91.9h0M586.2 91.7h0M592.7 93.6h0M588.8 92.6h0M590.4 93.2h0M586.1 93.9h0M585.9 92.2h0M586.6 93.1h0M587.6 90.9h0M588.2 92.3h0M590.9 92.9h0M589.2 93.2h0M590.7 92.7h0M588 92.3h0M586.7 93.8h0M591.9 91.3h0M590.5 93h0M592.8 92h0M593.1 90.7h0M589.5 94h0M587.4 93.2h0M587.2 93.5h0M589.4 91.1h0M588.2 93.4h0M591.5 92.2h0M589.5 91.6h0M590.4 92.5h0M588.6 93.5h0M592 93.8h0M589.9 92.4h0M592.6 93.2h0M589.6 93.5h0M592.6 92.8h0M592.3 94h0M588.1 92.2h0M588.2 91h0M593.7 92.2h0M589 92.4h0M590.8 93.2h0M593 93.4h0M590.1 90.8h0M586.4 91.5h0M589.1 91.2h0M590 93.7h0M593.3 91h0M593.3 93.6h0M588 91.3h0M586.7 93.6h0M589.8 92.4h0M589.1 93.3h0M591.8 93.8h0M589.7 94h0M587.1 91h0M589 93.6h0M587.3 93.2h0M592.1 91.9h0M590 91.4h0M591.8 92.8h0M586.8 93h0M593.8 91.1h0M589.3 93.1h0M590.8 92.5h0M592.1 93h0M591.4 93.4h0M593.3 92.2h0M587 93.8h0M591.8 92.6h0M593.4 91.6h0M592.1 91.9h0M592.3 91.7h0M586.8 93.8h0M587.8 92.9h0M593.6 92.5h0M588.5 93.7h0M590.9 92.7h0M590.4 92.4h0M593.7 92.2h0M588.5 93.6h0M587.8 92.4h0M589.8 91.9h0M592.3 91.4h0M587.8 91.7h0M586.6 93.3h0M587.5 91.4h0M591.5 93.5h0M586.6 93.4h0M590.5 91.5h0M593.5 91.1h0M592.9 93.5h0M587.9 92.6h0M585.9 93.5h0M586.1 93.8h0M592.1 91.3h0M592.2 92.9h0M586.8 91.5h0M590.9 92.3h0M587.4 91.1h0M588.4 93.3h0M590.2 92h0M593.5 91.2h0M586.3 91.1h0M591.5 92.1h0M592.8 91.7h0M589.5 93h0M593.1 91.3h0M588.9 91.7h0M586.1 93.8h0M589.1 91.8h0M589.7 91.1h0M590.6 91.3h0M586.3 93.7h0M586.2 91.2h0M586.9 91.4h0M587 92.6h0M587.5 91.9h0M590.8 90.9h0M588.7 92.1h0M592.7 91.4h0M592.8 92.1h0M592.9 92.6h0M592.6 92.3h0M593.7 94.5h0M590.2 96.5h0M589 94.8h0M589.2 97h0M586.7 95.9h0M587.1 94.1h0M593.5 97.7h0M591.4 94.9h0M592.8 94h0M592.8 97.1h0M592.4 95.6h0M588.8 95.4h0M586.2 96.8h0M589.3 97.7h0M593.6 94.5h0M586.8 96.9h0M590.1 97.6h0M587.1 97.5h0M592.3 95.1h0M592.5 94.2h0M586.7 95.9h0M590.8 96.3h0M593.7 94.9h0M588.4 96.2h0M589.8 94.1h0M589.3 97.2h0M588.9 95.3h0M589.8 94.2h0M587.4 95h0M589.8 97.3h0M589.4 94.7h0M593.3 94.9h0M588.9 95.3h0M593 95.6h0M591.4 94.7h0M593.1 94.8h0M593.3 96.9h0M592.7 96.2h0M589.6 94.8h0M591.2 97.6h0M587.2 95.3h0M593.4 96h0M592.6 96.4h0M589.6 97.6h0M592.2 96.6h0M590.8 97.2h0M586.3 95.5h0M588.3 95.1h0M586.3 96.8h0M590.9 96.3h0M592.6 95.6h0M587 94.4h0M586.8 95.7h0M586.3 94.3h0M589.9 96.7h0M593.5 94.8h0M593.3 96h0M591.1 95.8h0M588.5 94h0M592.8 97.6h0M586 94.7h0M589.7 96.7h0M590.4 97.4h0M593.7 95.8h0M588.6 95.2h0M593.6 94.3h0M588.9 95.1h0M593.4 95.7h0M590.5 95.5h0M588.4 94.8h0M590.2 96.3h0M590.7 96.9h0M589 95.5h0M586.9 94.9h0M586 95.1h0M590 94.7h0M593.4 97.6h0M586.7 97.2h0M588 94.3h0M590.2 94.5h0M587.4 97h0M589.4 95.8h0M592.7 95.2h0M589.3 97.4h0M592.3 95.5h0M593.2 95.6h0M593 97.2h0M588.9 96.7h0M591.6 96h0M588.8 94.1h0M592 95.9h0M591 97.1h0M591.2 96h0M587.9 94.6h0M588.4 96.3h0M593.1 96.9h0M592.2 95.9h0M588.5 95.8h0M591.5 96.9h0M586.5 95.2h0M588.2 95.1h0M589.1 95.5h0M590.3 95.3h0M591.3 96.5h0M586.4 96.8h0M589.3 95.9h0M587.5 97.4h0M593.5 97.2h0M586.2 97.2h0M588.4 96.7h0M587.9 97.5h0M586.9 95.1h0M588 96.6h0M587.4 95.5h0M590.6 95.6h0M590.2 97.6h0M591.1 96h0M593.7 96.2h0M588.9 94.4h0M592.5 96.9h0M591.3 95h0M592 95.6h0M591.3 94.9h0M586.2 96.4h0M593.3 94.8h0M590.7 96.1h0M593.5 87h0M593.2 89.1h0M586.2 90.7h0M588 82.5h0M589.6 87.8h0M592.5 88.2h0M587 87.4h0M590.6 90.4h0M587.6 84.2h0M589 84.1h0M588.3 90.2h0M586.8 86.6h0M592.8 85.5h0M591.1 87.7h0M593.1 88.7h0M587.2 90.5h0M591 89.5h0M590.3 89.4h0M592.9 85h0M587.3 87.3h0M587.7 83.4h0M589 88.1h0M593.7 88.8h0M587.5 90.6h0M589.8 87.1h0M588 89.3h0M586.2 88.9h0M592.5 85.8h0M589.3 89.3h0M588.7 83.7h0M592.9 88h0M591 84.7h0M593.4 86.2h0M587.1 89.8h0M592 84.2h0M586.9 87.8h0M591.9 82h0M589.4 85.7h0M592.9 85.6h0M588.7 84.1h0M592.2 85.2h0M588.6 88.3h0M586.5 85.2h0M590.7 90.2h0M587.7 86.3h0M591.9 88.7h0M592 89.9h0M588.8 88.5h0M587.2 87.9h0M592.3 88.8h0M593.1 90.1h0M593.3 89.3h0M592 90.6h0M587.4 82.8h0M592.7 82.7h0M589 88h0M589.8 90.1h0M587.9 83.4h0M591.8 89h0M593.5 86.7h0M588.7 88.8h0M587.4 85.5h0M589.6 90.6h0M587.3 90.4h0M587 90.6h0M589.6 89.5h0M589.4 86.3h0M585.9 87.8h0M593.4 86h0M593.7 87.2h0M592.4 86.6h0M588.2 89.1h0M590.9 90.2h0M593.2 83.7h0M592.2 90.3h0M593.5 90.4h0M591.7 89.6h0M588.4 87.1h0M588 89.4h0M587.7 89.7h0M593.5 87.2h0M589 82h0M590.5 83.9h0M591.9 84.4h0M586.2 88.6h0M588 90.4h0M593 90h0M589.4 83.8h0M588.2 83.5h0M591 84.9h0M587.5 89h0M591.8 85.7h0M591.1 90.1h0M592.9 87.2h0M587.4 88.5h0M587 87.3h0M591.3 88.1h0M590.3 86.8h0M593.1 90.5h0M593.3 90.1h0M593.1 86.7h0M586.1 80.7h0M591.6 89.5h0M592.1 85.4h0M591.1 83.3h0M587.8 87.8h0M589.1 87.8h0M589.5 86.6h0M586.9 82.9h0M590.8 88.2h0M587.5 87.8h0M587.6 90.2h0M591 89.1h0M588.7 82.4h0M592.4 81.1h0M585.9 85.4h0M593.4 88.2h0M591.4 88.8h0M588.3 88.6h0M589.1 89.9h0M592.8 85h0M593.3 80.7h0M588.2 87h0M591.1 86.8h0M589.6 86.5h0M591.6 90.6h0M591.8 99.1h0M589.2 101.5h0M587 100.8h0M586.9 102.7h0M592.4 102h0M589.4 98.8h0M592.4 100.5h0M592.4 106h0M591.6 100.1h0M587.2 99h0M593.7 99.5h0M589.1 100.4h0M593.5 102.7h0M585.9 102.7h0M591.9 99.8h0M592.8 98.2h0M592.5 100.6h0M591 97.8h0M593.7 98.7h0M587.8 98.5h0M589.4 99.3h0M587.7 98.9h0M592.2 97.8h0M590.3 107.2h0M592 98.8h0M586.4 98.2h0M586.2 100h0M586.5 98.4h0M592.6 100.3h0M590.1 98.2h0M586.3 101h0M586.3 100.4h0M591.6 99.1h0M587.3 103.3h0M591.1 100.4h0M587.4 100.5h0M593 99.3h0M588.5 98.3h0M591.9 102h0M588.3 100.3h0M585.9 98.4h0M587.1 98.9h0M592.2 97.7h0M588.6 100.9h0M591.4 98.5h0M587.3 99.6h0M589.3 102.2h0M590.2 101.9h0M591.9 100.8h0M593.2 103.5h0M588.7 99.6h0M588.2 100.7h0M587.5 101.2h0M591.3 100.7h0M591.2 100.6h0M588 98.7h0M587.4 99.5h0M586.6 98.9h0M586.8 98.9h0M591.9 103.9h0M592.2 102.6h0M589.6 103.2h0M591.9 103.8h0M590 100.8h0M590.6 101.9h0M592.7 101.9h0M589.5 99h0M590 99.1h0M593.7 99.2h0M593.7 103.2h0M590.7 102.3h0M589.8 98.1h0M586 98.1h0M589.5 102.4h0M588.1 102.1h0M589.4 101h0M587.7 97.9h0M593.7 99.4h0M587.7 101.2h0M591.1 99.1h0M586.1 103.2h0M589.1 100.5h0M593.7 103.4h0M588.9 101.1h0M586.6 99.9h0M591.2 101.9h0M592.6 104.5h0M586.2 101.3h0M590.7 99.3h0M586.5 101.2h0M592.1 98.4h0M590.7 102.1h0M592.4 99.3h0M593.3 99.7h0M591.7 100.5h0M592.2 100.5h0M589.3 102.9h0M588.3 102.3h0M593.2 102.2h0M588.3 101.7h0M592.8 100.5h0M589.5 102.6h0M586 99.7h0M590.6 101.3h0M591.8 97.9h0M586 99.3h0M593.7 100.4h0M588.5 100h0M589.5 101.2h0M591.7 100.7h0M590.4 100.1h0M589.6 99h0M593.5 98.7h0M586.9 105.6h0M591.5 100.2h0M586 99.1h0M591.9 103.9h0M591.5 100.3h0M589.1 101.5h0M589.1 101.9h0M590.4 99.4h0M593 98.6h0M587.1 100.7h0M588.9 99.4h0M589.5 103.1h0M588.6 99h0M587.7 108.1h0M589.7 107.7h0M588.5 108.5h0M590.5 106.8h0M589.3 107.5h0M592.4 108.3h0M592.5 109h0M590.1 127.1h0M592.8 115.5h0M589.9 111.5h0M588.6 111.9h0M590.4 110.5h0M592.6 107.6h0M590.2 77.7h0M592.2 81.1h0M588.6 70.8h0M591.1 72.8h0M612.7 113.1h0M611.6 110.3h0M606.5 109.3h0M607.4 110h0M606.3 109.8h0M610.9 112.9h0M609.2 112.5h0M607.4 114.7h0M611.2 117.6h0M606.5 112.9h0M613.4 112.1h0M613.1 114.6h0M606.3 113.8h0M610.9 109.7h0M610.4 116.2h0M608 112.3h0M608.2 114h0M613.1 114.9h0M606.2 117.4h0M612.7 112h0M609.5 113.3h0M609.9 116.9h0M609.6 117.5h0M611.8 115.6h0M607.1 116.5h0M607.4 109.5h0M606.4 114.3h0M609.1 111.9h0M605.9 114.5h0M613.2 114.8h0M609.1 121.8h0M608.3 126.1h0M612.9 125.7h0M612.4 118.6h0M607.3 126.4h0M606.2 125h0M611.3 126h0M608.4 120.9h0M612.1 121.8h0M608.6 125h0M608 126.1h0M609.2 120.8h0M605.9 124.4h0M607 121.7h0M606.8 122.4h0M611.2 122.6h0M607.9 121.6h0M612 126.4h0M613.1 125.9h0M609.5 118.4h0M607.1 118.6h0M605.7 118.8h0M613.2 119.4h0M606.5 120h0M611.5 119.9h0M605.7 120.7h0M612.8 121.7h0M610 124.8h0M610.8 123.6h0M610.5 119.2h0M607.4 100.9h0M606.5 97.2h0M612.2 109.1h0M610 88.3h0M610.1 103.4h0M606.5 109h0M613.1 103.2h0M611.1 104.4h0M608.9 106.2h0M605.9 101.6h0M609.3 104.6h0M613.3 105.9h0M611.6 107.8h0M605.7 97.6h0M611.5 103.4h0M612.5 100.2h0M607.6 103.9h0M612.2 108.2h0M613.3 87.8h0M608.9 97.7h0M606.4 98.4h0M608.5 102.1h0M612.7 102h0M609.2 104.5h0M607.9 107.8h0M609.1 102.6h0M612.2 106.1h0M610.4 90h0M606.5 103h0M608.1 104.1h0M607.8 128.9h0M611.6 129.1h0M609.6 141h0M606.2 149.2h0M605.7 130.4h0M608.5 128.8h0M610.1 133.4h0M610.1 128.4h0M608.6 135.5h0M608.8 137h0M608 135.4h0M606.8 147.4h0M608.2 132.4h0M610.8 133.7h0M607.9 150.5h0M612.8 135.7h0M610 134h0M606.9 133.5h0M609.2 136h0M607 129.9h0M606.6 135.1h0M606.4 138h0M606.9 141.2h0M607.1 129.3h0M613.2 137h0M606 146.5h0M609.2 130.2h0M610.7 143.2h0M606.1 133.9h0M608.2 129.7h0M608.8 177.4h0M609.3 169.1h0M610.9 161.1h0M609.6 75.9h0M630.1 101h0M633 97.3h0M629.9 98.6h0M625.4 100h0M628.3 95.9h0M629.6 96.8h0M631.7 98.7h0M633.1 97.5h0M626.4 97h0M631.8 101.8h0M630.9 95.9h0M630.4 97.7h0M629.7 96.8h0M630.4 97.1h0M627.9 101.6h0M625.9 98h0M627.4 99.4h0M625.5 99.7h0M631.5 101.4h0M627.4 101.5h0M632.5 97.9h0M629.8 99.9h0M630.8 96.4h0M629.3 99.9h0M632.2 97.3h0M631.4 95.9h0M626.3 100.6h0M630.7 102h0M631.9 100.1h0M630.8 100.7h0M631.9 101.6h0M630.8 98h0M628.9 101.3h0M625.9 98.9h0M627.2 99h0M631 96.3h0M627.6 97.5h0M631.4 98.3h0M631.7 99.2h0M633.2 97.2h0M632.4 101.9h0M633.1 101.2h0M627.2 96.7h0M626 96.5h0M631.9 96.1h0M627.9 97h0M632.3 100.6h0M631 104.1h0M633.1 107.4h0M626.9 107.1h0M627.5 110.6h0M630.7 105.9h0M625.4 103.9h0M630.7 106.6h0M629.7 105.4h0M629.2 103h0M625.9 109.9h0M631.2 105.1h0M625.7 102.1h0M630.8 109.7h0M631.7 109.6h0M627.3 105.5h0M632.2 109.1h0M627.1 106.5h0M628.3 107.5h0M631.7 106.2h0M632.3 103.1h0M632.6 110.6h0M631.4 102.1h0M625.5 102.3h0M632 106h0M632.1 103.8h0M632.5 109.5h0M628 109.8h0M626.4 104.8h0M631.7 102.8h0M627.5 106.9h0M628.5 105.4h0M632.4 110.9h0M626.7 105.4h0M627.5 107.6h0M627.9 110.6h0M631.7 110.1h0M632.8 103.2h0M626.6 105.9h0M627.5 106.7h0M631.4 108.8h0M627 109.7h0M630 110.1h0M628.9 107.3h0M632 109.3h0M627.4 109.8h0M629.4 103h0M630 110.8h0M625.6 91.1h0M625.8 94.3h0M626.9 93.4h0M625.6 94.6h0M628.4 95.5h0M629.8 88.4h0M629.2 92.5h0M630.4 84.7h0M629.9 90.2h0M631 80.2h0M632.1 82.7h0M625.5 90.2h0M625.8 88.6h0M625.5 88.3h0M629.7 95.8h0M626.5 88.3h0M629.2 92.6h0M627.5 82.4h0M628.6 95.6h0M628.8 88.6h0M630 89.8h0M625.5 81.5h0M629.3 94.5h0M627.7 80.1h0M629.7 93.9h0M628.5 95.6h0M625.5 87.9h0M628.8 93.1h0M629.7 90.1h0M632.2 84.7h0M629.1 89.8h0M627.5 92.7h0M625.5 92.4h0M626.6 94.1h0M632.8 92.7h0M629.6 84.9h0M632.5 87.7h0M626.2 93.4h0M626.6 83h0M632.3 95.2h0M625.7 94.3h0M629.1 87.2h0M630.5 93.9h0M629.5 77.3h0M630.6 94.1h0M625.7 89.9h0M629.7 89.5h0M629.5 118.9h0M631.5 112.7h0M629.1 113.7h0M627.9 117.9h0M628.9 131.8h0M626.6 121.7h0M631.5 124.9h0M629.6 123.6h0M627.4 119.3h0M630.8 111.2h0M627.8 116.7h0M629.3 123.1h0M633.1 118.7h0M632.7 117.6h0M628.8 116.2h0M627.4 111.4h0M631.2 127.4h0M633 116.3h0M632.1 118.8h0M630 111.4h0M631.3 115.7h0M633.2 123.4h0M627.6 124.8h0M626 121.7h0M631.3 114.4h0M632.6 118.2h0M629.9 120.6h0M627.7 123h0M628.4 127h0M625.3 120.6h0M631.2 118.1h0M633.1 114.5h0M626.4 127.3h0M629.9 111.1h0M628.7 116h0M630.3 113.7h0M633 128h0M631.8 112.2h0M630.3 117.1h0M625.6 113.4h0M628 121.2h0M627.9 116.4h0M631 115.4h0M626.4 117.2h0M627.2 114.7h0M626.2 115.7h0M630.8 121.5h0M625.3 142.1h0M628.3 137.5h0M628.1 135.8h0M632.4 150.8h0M625.7 134h0M631.1 78h0M628.9 74.3h0M648.8 110.3h0M647 108.2h0M648.3 110.8h0M645.2 114.9h0M642.6 113.3h0M642.2 109.1h0M649.5 108.9h0M645.8 111.8h0M645.7 112.6h0M646.5 114.6h0M647.3 114.7h0M643.1 114.2h0M641.2 108.9h0M649.7 111.2h0M642.2 117.2h0M647.8 120.9h0M644.8 117.5h0M643.7 119.2h0M649.7 123.6h0M647.7 117.6h0M648.2 123.4h0M643.3 120.9h0M647.6 117.6h0M644 121.6h0M648 121.3h0M649.1 118.8h0M641.2 123.1h0M648.5 122.3h0M643.9 102.5h0M640.7 99.7h0M647.4 106.4h0M648.6 102.6h0M642.8 98.6h0M647.2 100.6h0M646.9 103.2h0M646 95.9h0M649.4 94.4h0M647.8 97.7h0M645.9 90.6h0M650.2 101.6h0M640.6 107.5h0M646.9 102.9h0M647.2 142.5h0M647.2 137.2h0M648.2 126.8h0M645.4 139.1h0M641.8 130h0M646.8 134.4h0M641.2 136.1h0M648.9 126.8h0M647.6 125h0M641.5 128h0M647.5 145.2h0M642.5 134.9h0M648.3 130h0M640.8 127.5h0M640.6 146.4h0M667.7 143.7h0M664.4 144h0M667.4 143.8h0M666.6 141h0M663.5 141h0M668.6 144.3h0M664.7 145.8h0M670 147.7h0M667.9 146.5h0M660.3 143.3h0M667.7 144.3h0M666 146.1h0M669.2 143.4h0M666.1 145.2h0M666.3 143.8h0M666.2 146.1h0M662.3 143.6h0M665 141.8h0M668.9 144.2h0M661.7 144.1h0M664 154.8h0M668 151.6h0M669 152h0M661.9 157.6h0M662.8 157.4h0M667.6 148.5h0M667.7 154h0M662.9 157.4h0M661.4 148.7h0M660.9 153.6h0M669.4 150.3h0M669.7 154.6h0M660.2 152.9h0M664 155.7h0M663 155.7h0M664.4 148.8h0M665.5 152.6h0M664.9 148.7h0M665.8 159.7h0M665.4 148.6h0M665.5 133.3h0M669.2 115.6h0M662.9 140.5h0M662 138.5h0M668.7 128.2h0M665 129.4h0M661 123.7h0M667.4 121.9h0M665.8 133.2h0M667.3 140.9h0M662.8 137.5h0M669 124h0M661.9 119.3h0M668.2 122h0M663.1 123.3h0M668.8 128.6h0M668.5 126.7h0M668.1 139.7h0M667.2 139h0M668 130.6h0M668.1 165.6h0M667.4 168.6h0M661.1 166.5h0M663.9 168.2h0M668.9 163.2h0M660.3 161.4h0M661.9 164.7h0M668.4 161.3h0M668.9 175h0M667.9 162.4h0M666.9 165.1h0M665.8 160.7h0M662.7 165.7h0M663.8 160.4h0M662.7 162.7h0M664.5 166.8h0M666.1 167.5h0M665 177.7h0M670.2 163h0M668.6 160.8h0M665.9 188.5h0M661.4 206.8h0M662.8 115.4h0M53.5 184.5h0M410.5 289h0M509 183h0" stroke="#A80C14" stroke-width="0.78" stroke-linecap="round" stroke-opacity="0.85" fill="none"/>
<rect x="41.5" y="43.5" width="635" height="257" fill="none" stroke="#9c9c9c" stroke-width="1"/>
<path d="M38.9 85.3H41.5M38.9 136.4H41.5M38.9 187.6H41.5M38.9 238.7H41.5M38.9 289.9H41.5M53.4 300.5V302.9M73.1 300.5V302.9M92.8 300.5V302.9M112.6 300.5V302.9M132.3 300.5V302.9M152 300.5V302.9M171.8 300.5V302.9M191.5 300.5V302.9M211.2 300.5V302.9M231 300.5V302.9M250.7 300.5V302.9M270.4 300.5V302.9M290.2 300.5V302.9M309.9 300.5V302.9M329.6 300.5V302.9M349.4 300.5V302.9M369.1 300.5V302.9M388.8 300.5V302.9M408.6 300.5V302.9M428.3 300.5V302.9M448.1 300.5V302.9M467.8 300.5V302.9M487.5 300.5V302.9M507.3 300.5V302.9M527 300.5V302.9M546.7 300.5V302.9M566.5 300.5V302.9M586.2 300.5V302.9M605.9 300.5V302.9M625.7 300.5V302.9M645.4 300.5V302.9M665.1 300.5V302.9" stroke="#555" stroke-width="0.9" fill="none"/>
<g font-family="'Liberation Serif',serif">
<g font-size="7.3" fill="#555" text-anchor="end">
<text x="37.5" y="87.9">10</text>
<text x="37.5" y="139">5</text>
<text x="37.5" y="190.2">0</text>
<text x="37.5" y="241.3">5</text>
<text x="37.5" y="292.5">10</text>
</g>
<g font-size="9.1" fill="#4d4d4d" text-anchor="end">
<text transform="translate(57.1 309.4) rotate(-45)">ACC</text>
<text transform="translate(76.9 309.4) rotate(-45)">BLCA</text>
<text transform="translate(96.6 309.4) rotate(-45)">BRCA</text>
<text transform="translate(116.4 309.4) rotate(-45)">CESC</text>
<text transform="translate(136.1 309.4) rotate(-45)">CHOL</text>
<text transform="translate(155.8 309.4) rotate(-45)">COAD</text>
<text transform="translate(175.6 309.4) rotate(-45)">DLBC</text>
<text transform="translate(195.3 309.4) rotate(-45)">ESCA</text>
<text transform="translate(215 309.4) rotate(-45)">GBMLGG</text>
<text transform="translate(234.8 309.4) rotate(-45)">HNSC</text>
<text transform="translate(254.5 309.4) rotate(-45)">KICH</text>
<text transform="translate(274.2 309.4) rotate(-45)">KIRC</text>
<text transform="translate(294 309.4) rotate(-45)">KIRP</text>
<text transform="translate(313.7 309.4) rotate(-45)">LAML</text>
<text transform="translate(333.4 309.4) rotate(-45)">LIHC</text>
<text transform="translate(353.2 309.4) rotate(-45)">LUAD</text>
<text transform="translate(372.9 309.4) rotate(-45)">LUSC</text>
<text transform="translate(392.6 309.4) rotate(-45)">MESO</text>
<text transform="translate(412.4 309.4) rotate(-45)">OV</text>
<text transform="translate(432.1 309.4) rotate(-45)">PAAD</text>
<text transform="translate(451.9 309.4) rotate(-45)">PCPG</text>
<text transform="translate(471.6 309.4) rotate(-45)">PRAD</text>
<text transform="translate(491.3 309.4) rotate(-45)">READ</text>
<text transform="translate(511.1 309.4) rotate(-45)">SARC</text>
<text transform="translate(530.8 309.4) rotate(-45)">SKCM</text>
<text transform="translate(550.5 309.4) rotate(-45)">STAD</text>
<text transform="translate(570.3 309.4) rotate(-45)">TGCT</text>
<text transform="translate(590 309.4) rotate(-45)">THCA</text>
<text transform="translate(609.7 309.4) rotate(-45)">THYM</text>
<text transform="translate(629.5 309.4) rotate(-45)">UCEC</text>
<text transform="translate(649.2 309.4) rotate(-45)">UCS</text>
<text transform="translate(668.9 309.4) rotate(-45)">UVM</text>
</g>
<g font-size="8.5" fill="#111" text-anchor="middle">
<text x="72.3" y="55">ns</text>
<text x="95.1" y="55.6">****</text>
<text x="111.8" y="55">ns</text>
<text x="133.9" y="55.6">***</text>
<text x="152.4" y="55.6">*</text>
<text x="192.5" y="55.6">**</text>
<text x="230.2" y="55">ns</text>
<text x="249.9" y="55">ns</text>
<text x="272.7" y="55.6">****</text>
<text x="292.5" y="55.6">****</text>
<text x="330" y="55.6">*</text>
<text x="351.7" y="55.6">****</text>
<text x="371.4" y="55.6">****</text>
<text x="427.5" y="55">ns</text>
<text x="447.2" y="55">ns</text>
<text x="470.1" y="55.6">****</text>
<text x="486.7" y="55">ns</text>
<text x="506.5" y="55">ns</text>
<text x="526.2" y="55">ns</text>
<text x="547.1" y="55.6">*</text>
<text x="585.4" y="55">ns</text>
<text x="605.1" y="55">ns</text>
<text x="624.9" y="55">ns</text>
</g>
<text transform="translate(21.9 172) rotate(-90)" text-anchor="middle" font-size="11.6" fill="#000">CD9 mRNA Expression</text>
<g font-size="11.3" fill="#000">
<text x="292.6" y="28.1">Type</text><text x="340.8" y="28.1">normal</text><text x="398.9" y="28.1">tumor</text>
</g>
</g>
<path d="M327.7 18.4V28.9" stroke="#2a2a2a" stroke-width="1" fill="none"/>
<rect x="322.5" y="20.3" width="10.4" height="7.5" fill="#3D50A4" stroke="#2a2a2a" stroke-width="0.8"/>
<path d="M322.5 23.9H332.9" stroke="#2a2a2a" stroke-width="0.9" fill="none"/>
<path d="M385.8 18.4V28.9" stroke="#2a2a2a" stroke-width="1" fill="none"/>
<rect x="380.6" y="20.3" width="10.4" height="7.5" fill="#EC1B23" stroke="#2a2a2a" stroke-width="0.8"/>
<path d="M380.6 23.9H391" stroke="#2a2a2a" stroke-width="0.9" fill="none"/>
</svg>
</body></html>
